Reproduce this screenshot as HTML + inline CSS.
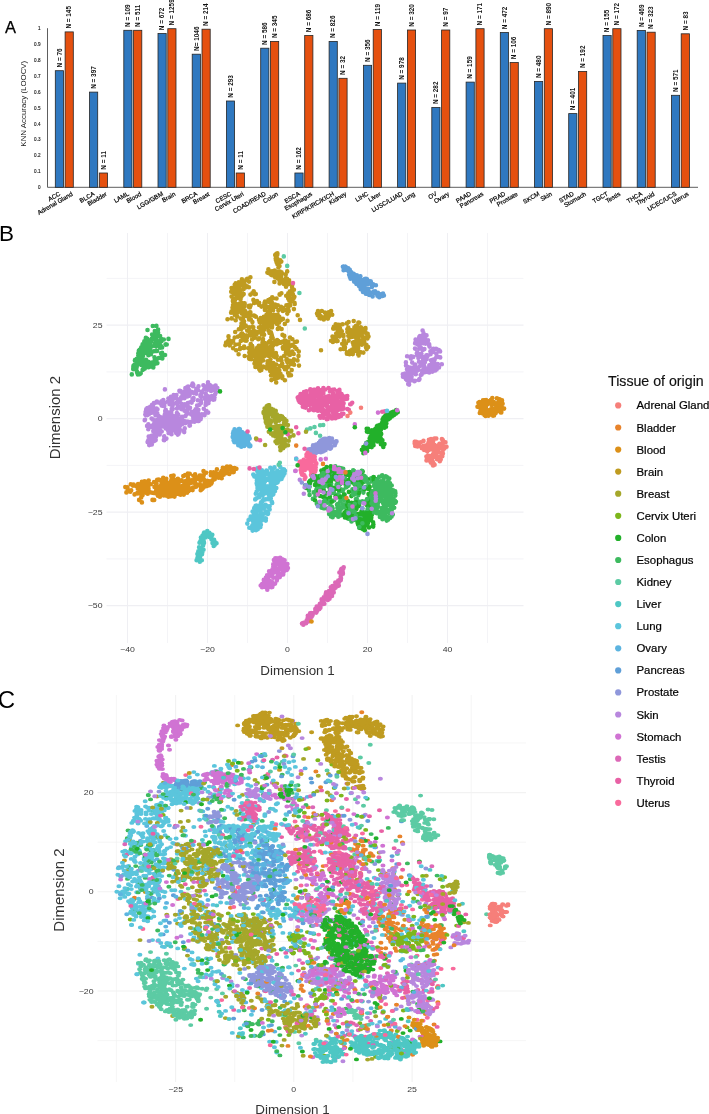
<!DOCTYPE html>
<html><head><meta charset="utf-8"><title>Figure</title>
<style>html,body{margin:0;padding:0;background:#fff}svg{display:block;font-family:"Liberation Sans",sans-serif}</style>
</head><body>
<svg width="709" height="1114" viewBox="0 0 709 1114">
<rect width="709" height="1114" fill="#fff"/>
<g fill="#000"><text x="5" y="33" font-size="16.5" stroke="#000" stroke-width="0.25">A</text><text x="-1" y="241" font-size="22.5">B</text><text x="-2.2" y="708.3" font-size="24">C</text></g>
<path d="M167.5 233V643M247.5 233V643M327.5 233V643M407.5 233V643M487.5 233V643M106.5 278.4H523.5M106.5 371.9H523.5M106.5 465.4H523.5M106.5 558.9H523.5" stroke="#efeff3" stroke-width="0.7" fill="none"/>
<path d="M127.5 233V643M207.5 233V643M287.5 233V643M367.5 233V643M447.5 233V643M106.5 325.1H523.5M106.5 418.6H523.5M106.5 512.1H523.5M106.5 605.6H523.5" stroke="#efeff3" stroke-width="1.1" fill="none"/>
<path d="M116.4 695V1082M234.7 695V1082M352.9 695V1082M471.2 695V1082M97.5 743.0H526M97.5 842.2H526M97.5 941.4H526M97.5 1040.6H526" stroke="#f2f2f2" stroke-width="0.7" fill="none"/>
<path d="M175.6 695V1082M293.8 695V1082M412.1 695V1082M97.5 792.6H526M97.5 891.8H526M97.5 991.0H526" stroke="#f2f2f2" stroke-width="1.1" fill="none"/>
<g font-size="7" fill="#3a3a3a">
<g text-anchor="end">
<text transform="translate(102.5,327.7) scale(1.25,1)">25</text>
<text transform="translate(102.5,421.2) scale(1.25,1)">0</text>
<text transform="translate(102.5,514.7) scale(1.25,1)">−25</text>
<text transform="translate(102.5,608.2) scale(1.25,1)">−50</text>
<text transform="translate(93.5,795.2) scale(1.25,1)">20</text>
<text transform="translate(93.5,894.4) scale(1.25,1)">0</text>
<text transform="translate(93.5,993.6) scale(1.25,1)">−20</text>
</g><g text-anchor="middle">
<text transform="translate(127.5,652.4) scale(1.25,1)">−40</text>
<text transform="translate(207.5,652.4) scale(1.25,1)">−20</text>
<text transform="translate(287.5,652.4) scale(1.25,1)">0</text>
<text transform="translate(367.5,652.4) scale(1.25,1)">20</text>
<text transform="translate(447.5,652.4) scale(1.25,1)">40</text>
<text transform="translate(175.6,1091.6) scale(1.25,1)">−25</text>
<text transform="translate(293.8,1091.6) scale(1.25,1)">0</text>
<text transform="translate(412.1,1091.6) scale(1.25,1)">25</text>
</g></g>
<g font-size="13.4" fill="#333" text-anchor="middle">
<text x="297.5" y="675">Dimension 1</text>
<text x="292.5" y="1113.5">Dimension 1</text>
<text transform="translate(60,417.5) rotate(-90)" font-size="15">Dimension 2</text>
<text transform="translate(64,890) rotate(-90)" font-size="15">Dimension 2</text>
</g>
<text x="608" y="385.5" font-size="14.2" fill="#111" stroke="#111" stroke-width="0.15">Tissue of origin</text>
<g font-size="11.4" fill="#000" stroke="#000" stroke-width="0.2">
<circle cx="618.2" cy="405.4" r="3.1" fill="#F67F7A" stroke="none"/><text x="636.5" y="409.4">Adrenal Gland</text>
<circle cx="618.2" cy="427.5" r="3.1" fill="#E8832B" stroke="none"/><text x="636.5" y="431.5">Bladder</text>
<circle cx="618.2" cy="449.6" r="3.1" fill="#DC9018" stroke="none"/><text x="636.5" y="453.6">Blood</text>
<circle cx="618.2" cy="471.6" r="3.1" fill="#BF9B20" stroke="none"/><text x="636.5" y="475.6">Brain</text>
<circle cx="618.2" cy="493.7" r="3.1" fill="#A5A72A" stroke="none"/><text x="636.5" y="497.7">Breast</text>
<circle cx="618.2" cy="515.8" r="3.1" fill="#7DB61C" stroke="none"/><text x="636.5" y="519.8">Cervix Uteri</text>
<circle cx="618.2" cy="537.9" r="3.1" fill="#22B02A" stroke="none"/><text x="636.5" y="541.9">Colon</text>
<circle cx="618.2" cy="560.0" r="3.1" fill="#3DBA5F" stroke="none"/><text x="636.5" y="564.0">Esophagus</text>
<circle cx="618.2" cy="582.0" r="3.1" fill="#5CCBA4" stroke="none"/><text x="636.5" y="586.0">Kidney</text>
<circle cx="618.2" cy="604.1" r="3.1" fill="#4EC7C4" stroke="none"/><text x="636.5" y="608.1">Liver</text>
<circle cx="618.2" cy="626.2" r="3.1" fill="#5BC5DC" stroke="none"/><text x="636.5" y="630.2">Lung</text>
<circle cx="618.2" cy="648.3" r="3.1" fill="#5CB4E0" stroke="none"/><text x="636.5" y="652.3">Ovary</text>
<circle cx="618.2" cy="670.4" r="3.1" fill="#5F9FD8" stroke="none"/><text x="636.5" y="674.4">Pancreas</text>
<circle cx="618.2" cy="692.4" r="3.1" fill="#8F97DB" stroke="none"/><text x="636.5" y="696.4">Prostate</text>
<circle cx="618.2" cy="714.5" r="3.1" fill="#B887DE" stroke="none"/><text x="636.5" y="718.5">Skin</text>
<circle cx="618.2" cy="736.6" r="3.1" fill="#D073D3" stroke="none"/><text x="636.5" y="740.6">Stomach</text>
<circle cx="618.2" cy="758.7" r="3.1" fill="#DC68B7" stroke="none"/><text x="636.5" y="762.7">Testis</text>
<circle cx="618.2" cy="780.8" r="3.1" fill="#E861A5" stroke="none"/><text x="636.5" y="784.8">Thyroid</text>
<circle cx="618.2" cy="802.8" r="3.1" fill="#F96A9C" stroke="none"/><text x="636.5" y="806.8">Uterus</text>
</g>
<g fill="none" stroke-linecap="round" stroke-width="4.6"><path d="M277.3 254.8h0M276.4 255.3h0M280.6 261.5h0M277.3 263.9h0M276.2 256.1h0M278.5 260.6h0M275.2 255.0h0M275.9 260.1h0M280.2 260.4h0M279.5 266.0h0M275.9 256.2h0M278.4 267.3h0M277.5 259.0h0M281.3 261.6h0M278.7 265.4h0M278.9 262.7h0M276.6 262.2h0M276.9 258.4h0M275.7 258.6h0M277.4 253.4h0M276.4 253.7h0M278.7 260.3h0M271.2 274.7h0M269.9 273.6h0M285.9 282.9h0M272.1 275.3h0M273.4 274.5h0M273.4 274.5h0M273.9 273.8h0M269.0 272.8h0M271.6 273.1h0M271.3 272.7h0M268.4 269.4h0M274.5 271.4h0M275.0 273.5h0M271.9 271.4h0M273.5 272.3h0M289.1 280.3h0M270.0 272.9h0M274.8 270.6h0M292.7 289.4h0M279.9 271.6h0M277.5 278.2h0M287.2 271.4h0M271.5 273.3h0M283.9 283.9h0M274.5 272.6h0M267.9 272.7h0M273.8 271.1h0M280.6 282.1h0M271.4 273.6h0M267.8 272.5h0M270.2 271.2h0M288.3 293.3h0M283.9 281.3h0M286.3 279.7h0M291.7 294.2h0M275.6 272.6h0M272.1 275.3h0M273.9 271.7h0M272.0 275.2h0M281.1 276.4h0M279.1 279.3h0M267.4 272.6h0M279.6 281.3h0M274.4 272.1h0M287.0 282.2h0M290.0 291.4h0M281.0 281.0h0M277.6 271.7h0M281.5 272.4h0M285.7 274.4h0M282.7 280.9h0M286.7 285.1h0M270.5 271.6h0M283.1 279.9h0M293.9 289.8h0M282.0 273.6h0M275.0 276.9h0M275.9 273.4h0M272.2 272.6h0M287.0 278.8h0M289.0 284.0h0M287.1 280.9h0M280.7 275.9h0M292.2 284.9h0M290.2 283.6h0M286.0 286.8h0M274.9 276.0h0M283.8 280.7h0M280.7 282.2h0M272.1 271.5h0M271.2 274.5h0M279.9 280.6h0M279.6 280.1h0M276.0 273.3h0M292.0 287.1h0M279.8 276.6h0M286.0 278.3h0M278.1 277.5h0M283.0 281.3h0M279.6 283.4h0M274.7 272.4h0M273.2 274.2h0M291.9 290.3h0M292.8 294.1h0M277.8 273.4h0M260.5 348.8h0M262.9 350.0h0M265.6 325.7h0M260.4 351.2h0M262.3 350.8h0M266.2 324.4h0M257.7 353.7h0M265.2 326.4h0M268.0 326.2h0M289.3 300.4h0M258.0 353.4h0M264.9 347.2h0M257.2 350.5h0M271.6 321.6h0M263.1 351.3h0M288.1 373.0h0M264.0 350.0h0M271.4 333.8h0M261.9 352.3h0M238.5 305.2h0M245.1 311.1h0M242.3 333.6h0M273.0 320.8h0M257.6 351.3h0M261.6 345.4h0M257.9 355.2h0M268.2 322.8h0M228.2 340.9h0M255.4 353.2h0M266.7 348.5h0M264.6 322.2h0M288.2 298.5h0M241.3 334.0h0M262.9 328.8h0M268.9 324.1h0M231.2 342.7h0M270.1 323.4h0M266.9 322.6h0M262.6 350.1h0M263.9 349.6h0M267.5 350.6h0M293.9 309.1h0M269.1 363.5h0M268.8 347.9h0M228.7 339.8h0M261.7 345.4h0M282.5 342.3h0M241.3 312.0h0M262.7 319.2h0M268.7 323.1h0M251.9 356.8h0M237.1 291.5h0M269.1 350.7h0M281.5 360.7h0M269.5 332.9h0M239.0 303.7h0M288.4 305.1h0M256.9 355.0h0M269.4 353.0h0M288.1 306.1h0M264.7 348.1h0M240.4 306.4h0M277.7 314.7h0M243.3 334.7h0M269.8 319.1h0M242.1 313.8h0M242.5 334.5h0M251.2 355.7h0M273.4 319.8h0M269.0 321.5h0M261.4 345.7h0M284.7 346.2h0M237.1 291.7h0M256.1 365.1h0M281.2 342.6h0M263.8 348.8h0M254.5 363.6h0M235.0 307.6h0M256.5 359.2h0M239.2 309.2h0M291.4 345.8h0M271.0 343.1h0M265.3 349.5h0M243.6 336.2h0M264.3 346.1h0M273.1 310.2h0M267.4 321.0h0M272.1 325.9h0M257.2 351.2h0M273.9 318.8h0M260.8 345.8h0M241.7 313.3h0M267.9 348.0h0M272.3 317.1h0M276.8 318.6h0M275.9 354.4h0M255.9 363.2h0M272.3 318.5h0M270.6 302.7h0M258.4 356.4h0M275.4 373.1h0M275.1 376.8h0M284.8 341.7h0M276.1 373.2h0M271.9 318.2h0M251.2 359.1h0M268.9 317.2h0M242.4 337.6h0M268.3 348.3h0M260.5 347.3h0M289.0 346.9h0M234.0 301.6h0M268.9 321.2h0M261.3 349.3h0M242.4 293.2h0M273.0 345.6h0M276.1 373.5h0M266.5 314.7h0M274.8 320.0h0M276.1 373.2h0M233.0 305.1h0M257.4 360.9h0M261.2 353.6h0M277.7 320.0h0M259.2 356.7h0M257.1 353.2h0M268.8 342.3h0M263.6 305.6h0M240.5 290.2h0M257.6 357.9h0M271.7 351.4h0M276.8 369.0h0M286.4 305.3h0M237.2 304.6h0M259.4 356.4h0M270.0 322.9h0M256.8 350.0h0M274.0 322.3h0M274.3 371.4h0M277.8 318.3h0M269.5 351.0h0M285.4 345.1h0M271.8 308.0h0M258.7 352.2h0M267.0 321.2h0M240.7 292.8h0M282.2 341.7h0M255.6 364.7h0M233.0 301.5h0M255.7 350.2h0M258.8 348.6h0M244.2 311.4h0M263.0 339.1h0M270.9 332.3h0M238.3 311.5h0M231.9 312.2h0M277.9 374.6h0M256.4 355.0h0M275.7 318.3h0M241.7 326.6h0M281.1 357.9h0M250.4 312.2h0M271.1 342.5h0M268.3 319.6h0M268.7 311.3h0M268.3 326.7h0M270.7 354.7h0M278.7 341.8h0M264.0 349.4h0M231.7 318.4h0M284.2 355.7h0M255.6 359.9h0M258.1 356.5h0M257.0 301.1h0M246.4 279.6h0M277.8 373.2h0M277.1 340.1h0M288.0 348.7h0M290.4 345.9h0M241.3 296.7h0M287.8 349.7h0M242.5 339.9h0M264.5 322.8h0M294.4 296.8h0M282.9 318.9h0M230.9 341.6h0M236.1 291.3h0M264.9 354.0h0M272.4 366.0h0M278.8 375.6h0M279.2 343.0h0M243.1 318.1h0M236.5 306.3h0M250.6 305.6h0M274.4 378.8h0M271.7 366.3h0M272.0 327.5h0M270.2 316.2h0M264.0 345.6h0M259.5 361.1h0M286.6 350.9h0M237.4 312.5h0M251.1 347.3h0M256.4 358.0h0M260.9 350.9h0M271.0 322.3h0M289.4 354.8h0M283.1 348.8h0M283.6 367.0h0M288.2 349.6h0M242.5 338.8h0M258.3 351.7h0M242.6 294.9h0M279.6 294.4h0M287.4 344.7h0M252.4 322.1h0M229.7 345.4h0M226.1 342.5h0M262.6 329.1h0M257.9 358.1h0M245.5 313.8h0M272.5 319.9h0M254.5 331.2h0M256.8 359.1h0M263.7 323.8h0M259.7 348.4h0M254.2 336.6h0M284.0 342.3h0M263.8 316.9h0M252.4 293.0h0M276.1 371.1h0M256.8 351.2h0M231.6 296.6h0M268.1 348.6h0M258.5 355.6h0M243.5 309.6h0M273.8 343.4h0M286.4 360.1h0M292.5 344.8h0M252.6 352.6h0M271.4 323.0h0M259.8 363.9h0M256.3 332.9h0M240.9 296.4h0M254.8 353.3h0M271.2 305.6h0M231.6 288.1h0M270.1 311.1h0M279.1 327.5h0M270.7 309.1h0M271.6 322.0h0M235.7 313.0h0M249.2 307.2h0M273.3 363.1h0M289.8 354.9h0M261.1 349.0h0M266.4 344.6h0M291.8 363.7h0M259.8 350.4h0M242.0 334.8h0M284.3 335.9h0M261.8 334.5h0M260.7 318.1h0M265.6 346.3h0M271.5 351.3h0M252.3 355.8h0M263.5 328.3h0M238.3 297.8h0M272.5 350.0h0M261.3 370.0h0M286.7 358.8h0M250.1 332.9h0M272.7 338.1h0M268.4 300.1h0M245.2 287.6h0M251.2 356.3h0M267.5 348.4h0M280.5 373.9h0M243.4 337.7h0M296.4 348.9h0M253.7 291.3h0M263.8 353.9h0M228.5 336.4h0M261.5 348.0h0M281.6 329.0h0M271.3 337.3h0M246.6 340.6h0M231.9 311.9h0M241.7 336.3h0M260.0 362.7h0M258.8 355.2h0M229.9 343.5h0M285.7 340.8h0M256.3 302.5h0M265.9 355.2h0M255.6 350.8h0M244.1 321.3h0M272.6 370.6h0M243.7 288.9h0M274.7 315.1h0M264.4 346.8h0M278.4 372.7h0M262.1 353.1h0M247.0 337.5h0M265.6 327.1h0M257.5 361.8h0M245.6 315.8h0M288.8 352.4h0M266.3 347.8h0M289.6 352.9h0M261.5 306.6h0M269.3 301.9h0M260.5 330.2h0M285.9 352.4h0M260.1 370.6h0M270.0 352.0h0M275.3 341.0h0M264.6 316.8h0M258.9 349.2h0M267.5 364.1h0M241.5 303.0h0M264.1 334.8h0M261.9 346.8h0M235.3 288.4h0M258.1 360.6h0M259.1 302.8h0M243.7 294.1h0M240.4 335.4h0M232.3 290.3h0M265.0 301.6h0M254.2 303.0h0M225.4 345.2h0M269.2 341.8h0M268.5 320.9h0M254.7 355.8h0M234.5 312.8h0M294.7 303.9h0M236.4 288.4h0M268.3 355.7h0M282.8 347.3h0M271.0 375.5h0M271.5 363.6h0M237.1 294.1h0M244.6 312.9h0M233.1 340.9h0M262.9 306.0h0M270.5 299.1h0M291.0 375.3h0M244.7 356.0h0M245.7 325.9h0M240.7 318.6h0M252.9 353.6h0M262.4 351.9h0M260.3 355.3h0M288.0 350.5h0M267.3 322.9h0M263.1 366.6h0M234.6 298.9h0M240.5 299.5h0M277.2 321.5h0M242.8 335.9h0M288.2 344.2h0M257.2 347.8h0M258.0 357.6h0M259.3 369.3h0M259.7 350.2h0M284.8 323.9h0M279.0 322.6h0M272.2 297.2h0M266.9 325.7h0M274.4 368.0h0M282.5 334.9h0M263.1 332.6h0M253.5 315.5h0M268.0 318.3h0M258.4 362.6h0M269.9 362.4h0M269.0 353.5h0M255.8 294.0h0M263.0 339.0h0M262.6 320.0h0M234.9 287.9h0M261.7 353.2h0M231.1 312.8h0M288.9 375.5h0M244.1 346.5h0M279.3 316.8h0M261.1 327.3h0M286.2 295.8h0M234.9 302.7h0M263.9 351.0h0M268.1 314.6h0M271.7 316.4h0M270.3 314.0h0M242.8 281.9h0M288.7 310.9h0M285.7 309.7h0M242.4 319.0h0M240.7 310.3h0M260.6 362.1h0M258.2 353.1h0M268.6 318.9h0M253.3 327.2h0M260.0 359.8h0M239.2 310.3h0M244.0 336.7h0M262.3 355.3h0M239.3 296.3h0M258.5 353.0h0M254.6 331.9h0M294.5 302.7h0M259.2 358.3h0M248.3 348.2h0M235.4 309.9h0M238.6 354.2h0M258.1 367.2h0M290.8 352.8h0M271.6 369.6h0M237.3 316.5h0M276.3 373.3h0M242.3 334.4h0M250.6 344.6h0M269.0 356.0h0M271.2 299.3h0M275.1 375.6h0M265.8 344.6h0M266.7 301.6h0M263.4 330.6h0M250.4 277.3h0M282.8 307.9h0M274.1 314.7h0M290.2 305.5h0M259.7 322.2h0M245.3 286.9h0M279.9 366.1h0M256.4 332.0h0M278.5 319.0h0M246.7 335.6h0M242.9 283.6h0M245.2 340.6h0M252.1 350.5h0M281.0 320.1h0M231.2 291.7h0M234.7 337.5h0M273.3 371.2h0M287.5 320.7h0M259.8 357.3h0M266.1 321.0h0M274.6 318.7h0M251.0 351.8h0M260.7 357.2h0M254.9 293.6h0M250.7 331.5h0M294.8 347.1h0M260.3 354.9h0M252.1 345.7h0M239.0 293.4h0M269.4 353.2h0M248.2 316.7h0M245.4 336.1h0M286.4 347.0h0M268.5 330.5h0M277.3 375.5h0M272.7 320.6h0M262.9 327.1h0M241.4 293.1h0M270.5 359.2h0M263.0 326.7h0M272.7 373.6h0M256.4 334.5h0M235.7 320.2h0M249.1 347.7h0M255.9 316.7h0M272.0 368.0h0M255.0 294.3h0M252.1 339.4h0M250.2 335.2h0M278.0 377.7h0M264.0 322.2h0M241.2 326.3h0M276.7 356.0h0M266.9 368.4h0M262.4 367.0h0M271.4 380.1h0M258.8 350.7h0M243.8 314.9h0M258.0 361.1h0M264.9 323.5h0M290.0 337.5h0M289.9 295.2h0M249.8 359.0h0M267.0 353.2h0M236.5 315.9h0M275.1 304.5h0M270.3 317.8h0M245.1 336.8h0M238.0 336.6h0M250.9 350.0h0M244.3 324.8h0M232.5 307.8h0M275.4 319.3h0M270.1 340.8h0M249.1 358.4h0M288.6 348.0h0M249.1 327.4h0M247.8 313.2h0M278.5 373.8h0M244.6 306.5h0M243.8 338.2h0M232.8 311.4h0M260.5 326.8h0M267.5 319.7h0M234.7 284.9h0M249.8 316.1h0M249.3 352.6h0M290.9 361.0h0M291.7 363.9h0M235.4 299.2h0M274.8 320.6h0M292.3 351.6h0M270.0 354.8h0M269.4 342.1h0M238.8 329.3h0M270.0 319.8h0M262.1 345.3h0M241.9 279.4h0M249.1 319.5h0M273.0 298.3h0M296.9 341.6h0M245.7 325.6h0M284.9 369.2h0M255.1 355.4h0M264.9 309.9h0M230.6 342.8h0M244.4 304.0h0M248.9 287.2h0M278.1 340.9h0M272.0 369.3h0M266.0 347.6h0M249.0 356.6h0M261.0 326.4h0M244.7 304.3h0M235.4 344.6h0M270.7 346.8h0M250.9 319.7h0M267.6 313.5h0M288.8 360.6h0M250.5 353.2h0M261.6 331.5h0M253.4 299.9h0M258.3 356.5h0M239.9 349.1h0M271.4 301.2h0M272.1 348.4h0M268.7 317.7h0M261.1 329.6h0M269.5 299.8h0M259.6 348.1h0M236.2 350.3h0M258.3 339.2h0M252.8 355.8h0M246.5 279.9h0M290.5 301.7h0M250.6 357.7h0M264.0 356.4h0M278.2 371.7h0M241.5 323.3h0M249.5 312.5h0M270.8 322.9h0M244.4 283.6h0M271.9 335.6h0M264.1 367.1h0M244.3 340.0h0M238.8 282.4h0M267.5 361.2h0M276.2 382.4h0M278.3 320.0h0M281.8 308.7h0M290.7 363.3h0M272.0 302.8h0M298.8 351.5h0M299.0 365.6h0M230.5 343.7h0M249.6 358.4h0M257.5 348.8h0M257.4 349.4h0M234.8 314.7h0M260.6 327.9h0M244.1 347.9h0M293.9 359.2h0M260.1 349.1h0M243.7 305.4h0M268.1 319.6h0M258.8 345.8h0M291.7 370.1h0M261.1 354.4h0M277.2 374.6h0M258.3 347.9h0M260.6 347.6h0M240.0 294.0h0M281.4 293.3h0M251.7 333.0h0M259.1 338.4h0M245.3 286.3h0M263.6 325.4h0M243.3 305.7h0M269.1 366.0h0M247.0 286.4h0M293.7 354.0h0M268.6 361.7h0M259.4 319.8h0M294.0 297.8h0M277.9 317.1h0M252.7 333.5h0M270.4 324.6h0M277.0 323.9h0M237.3 284.2h0M270.2 371.1h0M280.0 320.2h0M274.9 371.5h0M232.9 300.9h0M288.8 373.6h0M277.8 328.9h0M264.1 329.6h0M237.9 290.6h0M286.3 369.1h0M255.0 360.9h0M268.5 352.2h0M260.9 356.0h0M282.3 363.8h0M273.7 353.2h0M247.2 330.6h0M254.9 337.7h0M254.1 293.6h0M288.4 341.9h0M252.5 347.2h0M267.8 307.0h0M259.0 319.9h0M279.8 294.8h0M279.3 370.2h0M255.9 351.5h0M274.5 316.4h0M235.7 283.3h0M295.3 342.0h0M278.4 310.4h0M247.2 278.8h0M235.9 304.3h0M276.5 298.5h0M269.4 367.4h0M246.4 339.4h0M266.9 367.0h0M293.1 298.7h0M259.2 305.0h0M255.0 352.9h0M292.4 339.2h0M287.0 366.8h0M231.5 311.6h0M284.5 347.2h0M269.4 319.4h0M240.8 341.0h0M266.3 325.3h0M255.4 366.9h0M276.7 344.3h0M268.6 320.6h0M262.9 340.2h0M275.2 374.6h0M241.2 329.1h0M259.7 319.2h0M288.4 366.7h0M264.5 302.9h0M270.7 347.4h0M267.2 351.0h0M278.7 374.6h0M252.5 326.5h0M233.1 348.3h0M267.5 306.9h0M276.3 364.5h0M254.7 315.9h0M250.8 344.0h0M235.2 332.0h0M262.6 350.4h0M275.9 353.1h0M266.3 323.3h0M239.5 286.4h0M239.0 344.2h0M250.4 294.6h0M274.9 357.1h0M264.5 304.5h0M284.7 340.4h0M287.9 362.4h0M241.8 285.3h0M259.8 346.1h0M250.2 333.4h0M234.1 293.9h0M275.7 378.1h0M287.3 313.6h0M287.3 362.1h0M271.1 316.0h0M260.0 321.2h0M254.9 351.5h0M276.7 376.5h0M282.3 378.1h0M240.3 348.1h0M279.9 375.0h0M279.6 319.5h0M253.8 330.7h0M270.5 354.9h0M273.7 356.1h0M298.5 355.9h0M243.1 321.8h0M249.0 305.8h0M258.9 327.5h0M244.6 303.3h0M261.3 351.3h0M256.5 352.9h0M264.8 343.0h0M282.3 376.2h0M227.5 319.2h0M272.5 307.3h0M246.0 335.5h0M269.2 366.4h0M276.3 306.9h0M243.4 347.9h0M291.6 298.7h0M275.6 374.4h0M297.5 360.4h0M249.8 307.5h0M238.9 311.6h0M233.1 299.7h0M258.1 366.9h0M282.9 310.9h0M258.9 332.1h0M281.0 306.7h0M242.2 336.3h0M254.6 352.1h0M244.1 303.3h0M249.0 281.6h0M287.1 353.4h0M236.5 296.1h0M243.6 327.4h0M278.9 341.8h0M262.2 329.8h0M252.2 352.7h0M288.3 309.5h0M265.4 303.2h0M263.0 360.5h0M273.1 371.3h0M277.8 305.4h0M277.9 359.8h0M262.5 342.3h0M247.4 315.8h0M249.4 327.5h0M256.8 352.2h0M293.1 361.9h0M249.7 312.7h0M243.2 305.3h0M271.5 318.6h0M270.9 347.2h0M284.9 380.2h0M294.1 364.8h0M274.4 281.9h0M297.7 315.3h0M300.0 319.9h0" stroke="#BF9B20"/>
<path d="M317.9 314.8h0M328.0 314.8h0M318.9 314.3h0M320.8 316.3h0M328.7 312.4h0M320.8 318.4h0M320.4 316.1h0M325.6 316.2h0M328.7 315.7h0M326.6 316.0h0M321.8 311.0h0M327.7 314.5h0M327.1 314.6h0M317.0 313.5h0M324.9 312.6h0M321.8 317.0h0M319.0 312.9h0M324.7 318.3h0M318.0 311.1h0M319.2 316.1h0M330.7 313.6h0M323.7 318.2h0M331.1 311.0h0M332.2 314.7h0M329.0 316.1h0M330.7 311.7h0M323.8 319.4h0M317.7 315.3h0M327.9 318.6h0M319.5 317.9h0M355.4 328.4h0M352.7 335.2h0M356.0 335.6h0M356.9 336.2h0M354.2 331.6h0M367.7 333.9h0M333.2 341.1h0M361.2 340.2h0M356.0 343.3h0M356.4 341.1h0M357.8 332.4h0M335.9 340.8h0M355.5 344.0h0M363.4 352.6h0M367.4 335.6h0M356.8 336.7h0M331.0 340.8h0M336.0 339.5h0M346.9 353.8h0M353.4 342.2h0M356.6 340.7h0M362.4 335.9h0M366.7 349.1h0M363.6 340.4h0M339.4 336.5h0M339.6 335.1h0M355.1 335.4h0M342.2 343.7h0M337.6 341.0h0M351.2 333.2h0M356.5 336.9h0M346.9 323.4h0M354.0 343.2h0M346.9 352.3h0M356.0 337.4h0M354.3 344.9h0M339.3 335.8h0M356.2 328.7h0M358.4 344.6h0M365.4 328.9h0M332.9 341.9h0M349.2 336.4h0M368.5 336.5h0M362.4 336.2h0M356.0 325.9h0M333.5 340.5h0M366.4 333.3h0M354.9 333.0h0M343.9 340.4h0M364.0 338.9h0M344.8 348.8h0M360.0 352.8h0M356.5 337.1h0M340.2 335.3h0M336.6 341.1h0M349.3 334.9h0M357.5 336.7h0M356.6 338.7h0M354.5 346.5h0M339.3 325.5h0M342.6 324.3h0M358.3 353.3h0M348.6 329.0h0M354.6 351.1h0M355.3 346.1h0M351.6 330.3h0M359.1 352.9h0M363.5 340.0h0M358.5 336.6h0M341.8 331.2h0M353.5 345.0h0M358.6 355.5h0M367.4 338.4h0M354.4 327.3h0M357.4 339.0h0M352.3 349.5h0M357.5 331.4h0M348.6 340.6h0M346.9 353.3h0M335.7 324.2h0M352.8 354.1h0M350.5 333.6h0M361.1 328.8h0M338.6 324.7h0M368.1 347.1h0M350.1 334.4h0M359.2 330.2h0M333.8 340.7h0M361.8 344.8h0M334.4 328.4h0M353.0 350.7h0M352.8 342.7h0M339.9 328.1h0M363.3 343.7h0M349.2 336.1h0M356.6 347.0h0M339.0 335.9h0M338.0 335.0h0M365.4 328.0h0M344.0 345.2h0M334.8 327.6h0M357.9 339.0h0M354.2 344.5h0M347.8 332.0h0M343.5 349.0h0M347.4 332.0h0M336.2 333.5h0M360.2 352.1h0M354.9 346.9h0M354.4 343.9h0M356.2 349.3h0M351.0 334.1h0M333.2 328.6h0M358.1 354.3h0M364.4 332.0h0M340.2 329.3h0M332.7 339.7h0M358.7 332.3h0M345.0 347.3h0M356.2 345.5h0M354.6 345.1h0M361.1 327.9h0M366.0 347.5h0M355.4 345.0h0M339.3 329.0h0M358.1 337.2h0M357.2 337.9h0M357.2 343.2h0M337.9 331.1h0M340.1 325.0h0M360.7 327.4h0M361.3 331.1h0M349.5 354.2h0M354.8 345.3h0M347.3 329.3h0M348.7 331.1h0M334.5 338.0h0M361.6 332.8h0M358.0 349.5h0M365.0 328.8h0M354.3 330.7h0M333.1 341.0h0M338.7 333.4h0M353.0 336.8h0M332.8 336.8h0M344.2 343.1h0M348.6 322.0h0M358.3 334.1h0M353.6 332.0h0M358.2 348.0h0M366.0 337.7h0M350.1 350.7h0M355.3 332.2h0M359.8 331.8h0M356.8 345.0h0M357.2 326.4h0M348.3 327.6h0M340.3 333.3h0M351.7 351.7h0M360.3 341.3h0M362.1 344.4h0M362.5 332.5h0M335.8 327.3h0M357.3 346.6h0M358.4 322.6h0M357.6 349.0h0M351.5 336.9h0M345.9 343.4h0M333.4 341.2h0M333.6 340.9h0M343.3 334.7h0M343.9 346.0h0M344.8 344.2h0M352.6 331.4h0M332.5 336.5h0M343.5 336.0h0M366.5 345.0h0M355.7 341.4h0M364.3 341.9h0M359.3 322.7h0M353.7 321.0h0M357.7 351.7h0M336.7 335.1h0M351.6 333.2h0M337.8 334.6h0M348.3 335.8h0M358.0 327.3h0M335.9 327.2h0M333.9 326.7h0M340.1 329.7h0M321.0 350.2h0M340.6 349.2h0" stroke="#BF9B20"/>
<path d="M145.4 350.9h0M145.4 349.4h0M145.5 352.2h0M144.6 346.4h0M145.2 346.1h0M144.7 345.1h0M144.7 346.4h0M143.3 348.1h0M143.6 346.8h0M143.6 345.4h0M139.6 351.2h0M148.9 350.2h0M144.5 343.3h0M162.3 358.4h0M162.1 352.9h0M144.3 341.4h0M165.5 344.6h0M145.2 347.8h0M155.7 344.5h0M154.9 342.9h0M150.6 344.7h0M147.5 349.7h0M153.3 367.4h0M140.8 350.0h0M145.7 346.1h0M147.9 344.8h0M145.9 344.0h0M145.6 349.6h0M143.7 346.1h0M145.1 349.2h0M147.3 352.3h0M145.5 339.9h0M144.4 347.0h0M144.9 346.9h0M140.5 352.0h0M150.8 362.7h0M144.6 351.4h0M153.8 351.2h0M151.2 365.3h0M146.0 349.7h0M146.2 347.6h0M146.8 345.1h0M148.5 349.1h0M149.2 350.9h0M141.9 349.0h0M149.4 345.5h0M156.2 340.0h0M139.0 356.4h0M138.9 352.1h0M131.8 374.4h0M134.4 364.8h0M165.0 355.0h0M148.3 352.7h0M147.2 345.9h0M156.5 339.2h0M142.7 351.3h0M137.1 358.8h0M141.4 352.3h0M149.7 365.3h0M154.5 337.7h0M141.2 360.5h0M161.1 338.7h0M142.6 369.9h0M138.9 350.5h0M147.9 348.4h0M157.4 363.1h0M143.6 349.2h0M149.8 353.6h0M160.1 336.1h0M137.3 373.0h0M142.6 344.4h0M143.2 346.6h0M134.9 360.5h0M136.7 361.4h0M144.4 350.7h0M144.0 352.4h0M135.6 365.4h0M150.8 366.4h0M143.0 356.1h0M144.6 343.6h0M133.2 369.1h0M155.8 362.2h0M145.6 346.3h0M142.8 352.2h0M147.3 343.4h0M149.2 340.3h0M144.8 361.3h0M159.0 341.3h0M152.1 346.3h0M151.0 346.1h0M154.8 331.1h0M150.6 342.3h0M157.7 345.1h0M143.4 349.6h0M145.1 352.6h0M143.4 349.2h0M150.3 347.9h0M141.4 359.1h0M162.1 347.5h0M143.4 350.2h0M160.0 342.7h0M161.7 356.3h0M143.4 346.0h0M135.2 359.7h0M145.9 343.8h0M156.7 359.3h0M150.9 354.3h0M137.9 374.5h0M143.8 360.3h0M147.5 330.0h0M150.8 341.5h0M144.8 368.6h0M136.9 358.9h0M156.4 345.8h0M155.0 336.7h0M145.3 344.5h0M142.2 356.4h0M163.3 355.1h0M152.1 334.6h0M148.2 348.7h0M136.6 367.6h0M160.6 345.9h0M141.3 365.0h0M156.3 331.4h0M159.5 343.5h0M145.2 349.9h0M143.2 353.6h0M154.8 360.1h0M156.4 337.4h0M155.9 346.3h0M148.5 367.2h0M158.1 332.5h0M134.2 367.1h0M146.1 345.7h0M155.7 338.2h0M140.7 373.3h0M146.1 344.4h0M142.0 355.9h0M144.1 348.9h0M153.0 338.6h0M161.4 341.3h0M139.8 349.9h0M149.1 343.4h0M143.9 363.0h0M137.0 365.4h0M142.6 345.2h0M144.0 367.0h0M143.7 345.9h0M163.8 339.5h0M156.4 325.9h0M141.4 359.4h0M148.3 343.0h0M136.9 371.4h0M147.2 338.7h0M145.1 347.5h0M142.5 347.6h0M150.6 346.2h0M144.2 345.1h0M151.7 338.8h0M141.3 347.6h0M149.6 366.0h0M157.3 363.3h0M141.5 347.2h0M153.3 365.9h0M151.3 364.4h0M153.8 336.4h0M148.0 351.0h0M156.2 350.9h0M146.9 351.2h0M138.3 355.6h0M141.2 347.6h0M165.9 344.4h0M140.5 363.4h0M150.5 352.6h0M139.8 374.1h0M157.9 334.9h0M160.1 347.7h0M136.4 362.1h0M138.4 361.1h0M143.2 353.5h0M147.0 341.6h0M153.6 365.1h0M157.0 344.6h0M154.5 357.2h0M155.9 336.1h0M157.1 351.0h0M138.5 354.2h0M146.3 364.8h0M148.2 361.9h0M133.5 365.8h0M146.3 343.2h0M146.0 359.9h0M149.8 366.1h0M145.9 337.7h0M154.8 335.4h0M150.1 346.8h0M151.4 352.3h0M141.1 354.1h0M166.7 344.5h0M144.9 347.4h0M144.5 366.5h0M147.3 353.4h0M156.1 341.7h0M143.4 366.4h0M147.3 341.2h0M133.3 367.0h0M158.1 329.5h0M149.8 364.7h0M149.0 341.7h0M138.3 353.4h0M157.8 333.6h0M154.9 359.0h0M155.9 343.4h0M147.3 350.0h0M155.1 345.1h0M168.5 338.9h0M154.1 363.7h0M157.1 343.4h0M154.7 336.8h0M143.0 356.0h0M155.2 363.7h0M144.8 363.1h0M146.2 364.9h0M148.7 342.3h0M161.0 346.2h0M152.8 326.0h0M148.4 355.3h0M154.9 339.2h0M144.3 346.5h0M152.1 362.6h0M154.2 362.6h0M140.7 355.6h0M150.4 364.3h0M144.1 349.9h0M158.8 358.0h0M152.5 335.6h0M148.1 352.4h0M161.1 353.4h0M144.2 361.3h0M165.9 344.5h0" stroke="#3DBA5F"/>
<path d="M157.2 423.2h0M158.5 426.0h0M173.5 425.4h0M172.3 422.0h0M174.2 417.8h0M206.8 396.3h0M209.8 398.1h0M179.7 401.0h0M175.3 422.7h0M175.6 423.7h0M176.0 426.9h0M173.7 419.5h0M158.7 422.7h0M177.1 421.9h0M151.3 442.5h0M173.3 422.2h0M187.6 413.6h0M175.8 424.5h0M188.3 421.7h0M160.3 424.9h0M159.2 423.5h0M180.6 420.0h0M173.9 422.4h0M214.5 397.6h0M177.5 419.5h0M200.9 401.4h0M160.7 425.9h0M207.8 398.2h0M191.3 391.9h0M145.6 412.0h0M169.8 427.6h0M187.9 396.1h0M187.3 396.5h0M176.4 395.1h0M208.2 412.6h0M161.4 423.6h0M171.5 417.8h0M208.9 398.7h0M174.3 422.9h0M210.9 396.8h0M172.5 399.9h0M190.2 402.3h0M147.9 409.9h0M155.2 428.6h0M155.3 427.0h0M201.3 396.5h0M154.8 433.3h0M151.8 409.3h0M215.2 390.6h0M163.1 423.2h0M176.1 397.6h0M156.4 435.6h0M159.9 420.3h0M174.9 418.8h0M159.7 428.2h0M178.5 429.7h0M206.6 388.5h0M148.3 440.3h0M148.7 436.5h0M175.9 419.8h0M177.6 433.3h0M157.9 420.8h0M175.7 427.1h0M153.4 431.5h0M176.8 417.3h0M171.0 423.2h0M175.8 423.6h0M148.2 442.3h0M153.0 406.5h0M177.6 426.0h0M196.4 388.9h0M207.3 399.5h0M177.7 431.3h0M191.8 412.0h0M175.9 418.6h0M208.5 397.3h0M177.5 425.3h0M182.3 393.0h0M170.0 420.9h0M175.0 396.0h0M165.7 409.8h0M184.4 393.1h0M171.9 424.7h0M171.3 425.9h0M178.8 422.7h0M215.8 392.6h0M195.4 410.3h0M163.8 423.7h0M187.7 409.8h0M175.1 403.5h0M180.8 423.1h0M153.3 430.9h0M182.3 423.9h0M208.1 402.0h0M152.2 407.0h0M163.8 422.9h0M176.5 424.2h0M175.7 422.8h0M149.3 409.0h0M145.3 414.5h0M172.4 423.9h0M173.1 422.6h0M209.0 400.3h0M158.3 423.0h0M145.6 412.0h0M154.3 427.6h0M197.8 400.3h0M181.1 424.6h0M186.1 411.8h0M177.2 403.3h0M176.5 423.1h0M181.4 409.1h0M188.8 394.3h0M147.0 414.5h0M205.1 399.0h0M172.8 425.1h0M210.6 397.0h0M208.5 403.1h0M174.3 420.3h0M157.5 426.2h0M175.7 421.2h0M161.7 418.5h0M184.1 421.0h0M148.4 413.7h0M163.9 403.0h0M192.5 399.0h0M215.3 389.5h0M183.7 393.9h0M181.1 419.9h0M171.5 414.4h0M147.4 408.1h0M212.2 396.5h0M201.0 403.0h0M175.6 396.1h0M206.4 403.5h0M193.8 393.1h0M165.5 424.2h0M169.7 422.6h0M191.3 414.4h0M177.6 425.3h0M174.1 426.3h0M193.6 398.1h0M214.4 388.2h0M151.7 443.3h0M151.4 441.4h0M174.9 429.7h0M150.2 406.7h0M162.9 426.4h0M193.1 400.3h0M187.8 403.0h0M215.5 385.9h0M198.5 420.2h0M161.1 404.1h0M174.8 417.3h0M187.5 405.6h0M154.1 424.5h0M205.7 412.7h0M208.5 399.1h0M213.6 398.8h0M179.0 424.3h0M159.7 434.4h0M200.8 400.3h0M159.6 416.9h0M202.0 391.5h0M176.9 413.1h0M173.9 419.2h0M169.2 414.6h0M187.4 390.3h0M163.0 423.5h0M176.7 402.7h0M199.6 404.7h0M162.9 425.8h0M171.5 422.5h0M198.9 420.6h0M211.9 396.0h0M177.7 434.6h0M153.1 405.1h0M152.8 419.4h0M197.5 410.6h0M171.9 422.9h0M177.4 418.5h0M195.6 409.4h0M185.9 394.9h0M173.8 427.5h0M198.5 414.5h0M157.3 413.3h0M177.6 401.6h0M168.8 420.6h0M164.2 440.3h0M177.5 428.1h0M167.5 424.7h0M158.9 424.8h0M157.2 434.2h0M162.9 418.3h0M154.3 424.9h0M205.7 404.8h0M205.8 389.0h0M188.8 389.5h0M170.9 420.3h0M176.7 424.2h0M182.9 395.4h0M208.1 396.3h0M148.3 429.3h0M193.3 418.0h0M151.3 444.1h0M187.9 408.7h0M177.7 423.3h0M169.8 425.2h0M188.1 386.5h0M168.4 398.5h0M161.7 431.5h0M174.9 424.0h0M153.0 407.9h0M193.2 414.0h0M190.8 391.7h0M209.4 397.0h0M155.7 409.5h0M181.2 397.2h0M152.4 425.5h0M159.1 424.7h0M169.7 424.0h0M184.2 432.1h0M177.8 424.7h0M151.8 426.8h0M208.9 396.9h0M187.0 410.9h0M178.6 433.7h0M171.6 423.7h0M149.2 445.1h0M168.0 426.2h0M177.5 425.6h0M180.4 424.0h0M185.5 415.9h0M213.2 388.0h0M214.1 398.5h0M178.6 423.3h0M155.4 436.3h0M200.8 418.3h0M161.6 401.2h0M183.8 406.8h0M197.5 412.6h0M155.4 402.7h0M205.6 405.0h0M192.6 383.5h0M162.1 426.1h0M186.5 390.5h0M167.3 420.4h0M177.6 423.6h0M182.5 395.2h0M165.5 424.0h0M189.5 395.6h0M173.3 428.2h0M187.0 421.9h0M208.8 397.4h0M159.3 425.5h0M154.2 423.6h0M152.6 438.8h0M163.5 422.4h0M189.8 393.9h0M179.5 423.1h0M192.0 385.3h0M197.1 405.6h0M160.3 422.1h0M170.1 431.1h0M151.4 440.8h0M146.7 409.1h0M212.5 399.0h0M176.0 425.5h0M179.6 431.6h0M178.4 425.8h0M208.1 384.3h0M205.9 403.0h0M198.3 420.3h0M149.9 444.0h0M173.2 421.7h0M170.1 400.0h0M205.9 400.1h0M179.4 390.9h0M168.4 427.1h0M147.4 411.9h0M172.4 424.4h0M189.7 408.3h0M200.6 419.2h0M211.1 391.0h0M161.7 421.8h0M192.4 414.0h0M186.9 421.5h0M214.3 388.8h0M169.9 401.9h0M147.7 408.6h0M155.7 439.9h0M184.0 430.6h0M178.4 420.9h0M194.4 421.8h0M165.9 419.8h0M165.7 438.9h0M212.2 396.3h0M195.6 410.9h0M206.6 386.5h0M164.3 406.1h0M183.8 421.7h0M173.7 395.1h0M189.5 425.6h0M156.6 415.2h0M157.8 428.1h0M168.0 430.3h0M205.7 393.6h0M172.5 420.0h0M176.2 421.2h0M198.7 417.8h0M154.9 440.6h0M179.8 391.4h0M198.7 420.9h0M178.2 414.6h0M146.2 409.4h0M195.5 416.9h0M196.2 392.6h0M164.2 436.4h0M185.4 423.1h0M184.7 428.4h0M146.7 411.4h0M171.5 434.2h0M212.7 397.8h0M153.9 403.1h0M210.7 388.6h0M186.1 388.2h0M194.8 392.2h0M204.5 415.3h0M158.8 418.1h0M166.4 438.6h0M170.8 424.9h0M172.9 425.5h0M161.7 405.5h0M206.3 404.1h0M203.9 414.2h0M215.2 394.1h0M184.7 396.3h0M193.1 386.3h0M189.9 425.4h0M152.1 404.8h0M195.9 391.2h0M176.7 421.7h0M198.1 416.0h0M176.1 426.8h0M163.9 424.4h0M176.3 420.8h0M166.5 412.6h0M158.4 425.9h0M164.9 402.7h0M178.4 421.5h0M168.4 422.6h0M171.0 424.2h0M152.9 441.3h0M172.4 406.5h0M165.3 419.7h0M206.5 396.0h0M197.9 389.9h0M192.1 412.6h0M171.7 398.6h0M217.3 388.1h0M176.9 422.8h0M151.8 412.8h0M174.4 398.3h0M183.3 392.4h0M196.3 393.7h0M189.1 395.3h0M173.6 423.1h0M198.2 413.9h0M182.2 418.6h0M215.3 389.3h0M180.6 421.9h0M166.4 422.9h0M170.9 421.5h0M209.3 388.0h0M178.4 421.5h0M212.3 389.9h0M168.8 427.2h0M197.9 421.0h0M172.6 429.1h0M176.1 422.4h0M194.7 413.1h0M151.6 418.5h0M189.0 391.4h0M151.8 444.5h0M185.4 388.0h0M180.2 421.3h0M215.6 385.6h0M173.7 420.8h0M144.7 420.3h0M201.7 414.4h0M147.3 415.1h0M165.8 428.5h0M162.0 417.6h0M171.7 409.0h0M208.2 384.1h0M180.1 425.6h0M201.3 393.6h0M149.7 442.1h0M181.5 403.8h0M191.7 402.6h0M168.9 416.3h0M157.4 428.8h0M162.2 405.8h0M195.0 418.9h0M177.0 408.6h0M166.3 422.7h0M165.2 411.0h0M173.5 422.9h0M170.9 396.9h0M186.3 396.0h0M192.9 413.3h0M180.0 424.0h0M156.5 408.5h0M156.5 426.8h0M150.8 410.9h0M194.6 410.8h0M173.4 417.6h0M177.8 430.4h0M150.3 426.7h0M205.8 398.9h0M163.3 400.1h0M169.5 404.1h0M193.3 384.9h0M169.4 431.4h0M156.2 429.3h0M176.2 433.0h0M208.0 389.6h0M213.3 399.8h0M206.5 411.0h0M198.7 416.5h0M156.1 436.5h0M157.5 409.3h0M193.0 399.9h0M205.0 397.4h0M177.4 418.6h0M209.8 385.1h0M171.4 424.8h0M178.1 417.7h0M164.9 414.2h0M173.1 430.1h0M201.0 416.2h0M160.2 423.0h0M167.9 401.7h0M180.4 399.1h0M171.4 416.3h0M162.8 402.7h0M171.4 411.5h0M158.8 422.1h0M211.6 388.6h0M184.4 398.3h0M194.1 392.2h0M165.6 415.0h0M168.0 420.4h0M187.0 387.4h0M170.3 420.9h0M168.1 421.8h0M164.9 415.0h0M203.8 408.8h0M198.5 386.2h0M152.4 410.9h0M168.6 433.0h0M148.8 414.2h0M156.0 420.2h0M176.1 416.6h0M153.2 439.2h0M191.6 402.2h0M203.4 385.3h0M206.7 399.8h0M200.4 395.9h0M213.8 388.2h0M151.9 439.8h0M174.2 424.4h0M162.5 425.4h0M176.6 425.6h0M168.0 421.0h0M174.6 416.4h0M153.7 441.2h0M166.2 418.3h0M207.8 384.9h0M150.8 406.9h0M181.0 408.6h0M172.4 397.8h0M147.1 425.9h0M173.0 427.0h0M147.6 442.1h0M148.3 424.2h0M154.3 436.7h0M181.9 406.0h0M212.8 386.6h0M172.7 408.9h0M214.2 399.5h0M167.8 412.3h0M215.2 388.7h0M150.4 408.5h0M154.3 435.5h0M163.8 440.0h0M178.1 406.4h0M193.0 415.9h0M151.5 435.7h0M164.8 414.5h0M146.4 413.1h0M184.5 410.8h0M171.4 402.8h0M171.7 431.4h0M161.1 421.5h0M195.9 419.9h0M184.7 404.4h0M158.2 402.5h0M198.4 409.9h0M180.0 399.1h0M181.0 398.7h0M196.9 413.3h0M206.5 412.3h0M170.1 426.1h0M206.5 387.8h0M145.0 419.8h0M177.4 416.6h0M157.8 431.5h0M155.5 415.2h0M208.0 382.3h0M145.8 415.1h0M185.4 388.9h0M155.6 411.8h0M204.3 389.0h0M150.3 443.4h0M215.8 391.4h0M153.9 409.6h0M205.0 387.9h0M156.9 401.6h0M182.7 395.8h0M194.2 419.1h0M191.3 421.7h0M190.0 407.8h0M176.4 429.1h0M149.4 442.1h0M179.8 429.6h0M158.3 415.8h0M180.6 391.1h0M169.7 403.7h0M182.1 416.9h0M164.9 389.4h0" stroke="#B887DE"/>
<path d="M220.0 391.4h0" stroke="#22B02A"/>
<path d="M420.5 339.5h0M421.1 339.0h0M411.8 374.2h0M433.2 367.0h0M430.8 366.7h0M422.7 338.9h0M410.9 372.0h0M433.8 369.1h0M429.7 367.0h0M412.0 370.8h0M417.2 354.9h0M424.8 367.5h0M420.2 337.5h0M420.2 342.5h0M409.3 369.2h0M432.3 365.2h0M409.1 372.7h0M433.1 364.0h0M423.7 340.0h0M430.4 370.0h0M417.3 352.3h0M429.0 367.5h0M409.8 367.6h0M432.2 367.3h0M432.1 369.5h0M422.8 338.0h0M421.1 337.0h0M435.2 370.5h0M411.8 372.5h0M425.7 372.0h0M412.6 369.7h0M402.8 374.3h0M429.5 346.6h0M410.6 380.4h0M407.3 366.7h0M411.1 356.3h0M428.7 369.1h0M423.5 362.6h0M434.1 359.4h0M411.4 378.3h0M412.6 373.1h0M426.4 355.4h0M435.4 367.5h0M407.7 373.6h0M422.2 340.3h0M405.9 362.4h0M411.6 376.8h0M405.7 376.7h0M421.7 363.1h0M429.0 368.1h0M432.6 367.9h0M423.7 365.5h0M420.3 339.9h0M409.1 374.7h0M427.8 355.6h0M433.0 368.0h0M429.2 372.5h0M433.9 364.8h0M435.8 366.9h0M410.2 376.9h0M433.6 368.5h0M436.6 369.0h0M405.2 373.5h0M436.0 348.7h0M419.2 337.2h0M436.2 368.8h0M409.0 372.1h0M412.2 372.1h0M411.5 376.5h0M423.6 372.4h0M435.6 367.0h0M410.8 358.4h0M435.0 367.0h0M431.7 366.0h0M405.0 376.5h0M428.7 369.7h0M434.1 361.4h0M427.2 340.6h0M434.1 363.8h0M436.6 369.4h0M425.5 343.6h0M424.6 339.3h0M419.7 366.3h0M410.1 375.1h0M409.1 384.6h0M415.1 343.3h0M403.0 376.7h0M435.1 366.9h0M410.8 369.3h0M432.0 363.3h0M432.2 370.5h0M434.4 369.0h0M418.4 357.9h0M434.2 367.5h0M435.5 368.2h0M408.0 372.3h0M419.2 355.1h0M430.5 354.3h0M409.2 375.9h0M425.1 356.7h0M422.6 330.5h0M409.9 377.2h0M407.5 376.8h0M409.1 376.1h0M424.0 361.1h0M410.3 375.4h0M419.1 348.8h0M436.3 365.3h0M438.4 350.1h0M412.2 362.6h0M426.7 355.3h0M426.5 356.9h0M420.4 337.1h0M409.4 378.4h0M407.7 376.8h0M413.1 369.8h0M438.8 350.0h0M429.2 344.2h0M431.9 371.4h0M409.6 380.7h0M403.6 376.0h0M430.3 365.9h0M426.5 335.4h0M421.4 356.5h0M409.7 374.7h0M408.2 372.7h0M419.9 344.3h0M423.4 343.3h0M434.5 369.8h0M420.7 337.0h0M428.1 371.2h0M420.1 355.0h0M434.0 369.6h0M433.4 369.2h0M408.2 384.0h0M415.0 371.9h0M407.1 380.2h0M433.9 364.7h0M433.2 369.9h0M432.5 368.3h0M408.8 376.9h0M422.2 372.2h0M423.2 359.7h0M414.9 380.7h0M429.3 365.2h0M433.3 351.1h0M429.5 367.7h0M416.0 342.8h0M433.7 359.7h0M430.2 366.2h0M428.9 344.9h0M407.0 369.3h0M423.7 371.3h0M423.1 341.8h0M433.3 368.2h0M417.3 342.8h0M434.3 367.1h0M432.2 366.4h0M426.6 359.2h0M422.9 358.0h0M421.1 341.4h0M434.5 367.4h0M433.0 362.3h0M434.6 359.8h0M435.0 367.3h0M421.6 374.5h0M403.7 376.9h0M418.5 354.8h0M414.4 381.3h0M418.5 357.7h0M415.8 374.2h0M433.4 348.9h0M436.3 357.3h0M422.2 370.6h0M415.6 372.8h0M436.4 357.1h0M417.9 354.8h0M419.4 336.7h0M418.1 344.5h0M436.3 353.7h0M411.3 369.7h0M434.5 365.9h0M422.2 340.0h0M422.6 365.5h0M424.0 365.6h0M440.1 351.4h0M418.1 370.1h0M416.8 353.2h0M435.9 368.0h0M423.2 360.7h0M406.8 374.6h0M413.6 370.2h0M415.9 343.5h0M423.7 368.9h0M407.9 377.2h0M431.6 364.1h0M431.0 360.3h0M418.8 380.0h0M419.0 361.7h0M406.7 376.5h0M422.0 339.4h0M419.9 338.5h0M432.4 366.3h0M419.4 337.5h0M432.8 359.7h0M415.0 348.6h0M410.9 377.2h0M413.0 367.5h0M420.8 347.5h0M424.4 349.1h0M408.2 376.3h0M432.8 365.8h0M408.8 370.8h0M408.8 373.5h0M438.0 356.7h0M432.6 370.1h0M422.4 373.0h0M434.5 368.3h0M426.4 340.6h0M440.2 357.4h0M422.6 350.0h0M422.7 371.6h0M433.2 369.3h0M420.7 375.1h0M424.8 362.2h0M414.4 370.9h0M417.8 341.9h0M424.8 369.1h0M432.4 371.6h0M409.2 376.7h0M439.0 367.5h0M421.4 353.7h0M431.4 370.5h0M425.2 336.6h0M424.2 341.5h0M417.6 344.2h0M415.6 339.5h0M405.9 379.1h0M420.0 336.0h0M405.0 375.4h0M423.0 362.9h0M413.9 367.9h0M419.4 346.2h0M415.2 364.6h0M417.4 368.1h0M431.8 367.6h0M424.8 357.7h0M419.7 340.2h0M415.5 342.2h0M409.8 367.9h0M418.3 342.8h0M421.5 348.7h0M413.2 356.9h0M432.7 361.4h0M406.0 365.5h0M427.1 356.9h0M409.4 371.8h0M432.5 350.0h0M421.0 336.3h0M408.2 373.0h0M407.1 356.2h0M418.4 356.8h0M423.4 333.1h0M428.0 340.4h0M437.7 364.1h0M430.4 351.4h0M441.8 364.2h0M432.3 352.3h0M419.5 379.1h0M435.5 369.0h0" stroke="#B887DE"/>
<path d="M301.8 397.9h0M339.0 403.9h0M301.0 395.4h0M299.0 396.9h0M303.1 396.5h0M300.6 394.1h0M302.0 397.3h0M322.9 404.6h0M302.8 406.8h0M321.9 405.2h0M336.1 405.7h0M342.0 396.2h0M318.0 402.3h0M341.9 401.0h0M309.5 404.3h0M301.2 395.8h0M343.6 403.2h0M334.5 409.5h0M323.6 417.7h0M328.1 399.2h0M300.7 398.8h0M312.9 398.2h0M334.5 406.6h0M313.8 398.6h0M300.8 399.5h0M299.7 396.3h0M343.2 407.2h0M311.7 400.6h0M335.8 409.5h0M334.6 409.0h0M325.3 389.5h0M327.7 419.0h0M300.1 396.5h0M315.4 404.0h0M315.1 389.7h0M333.0 407.9h0M328.8 416.9h0M311.2 395.1h0M325.5 402.2h0M338.0 402.9h0M336.8 416.8h0M302.3 397.6h0M321.7 401.9h0M331.0 396.5h0M314.5 389.9h0M300.4 396.4h0M336.0 407.0h0M336.8 416.5h0M309.7 404.4h0M347.1 398.7h0M333.2 412.1h0M336.4 410.4h0M321.5 400.2h0M303.8 401.0h0M312.0 404.6h0M331.2 409.0h0M335.2 395.4h0M332.0 408.9h0M334.6 408.7h0M335.2 414.4h0M334.3 404.9h0M348.8 409.8h0M328.7 407.5h0M301.8 398.5h0M331.4 406.3h0M331.9 403.1h0M335.9 400.0h0M347.4 409.1h0M330.8 408.4h0M298.7 400.5h0M299.5 399.6h0M302.1 398.1h0M323.3 401.8h0M341.3 398.6h0M324.5 410.2h0M336.4 403.1h0M340.4 401.6h0M334.7 396.7h0M323.4 393.1h0M334.2 389.5h0M333.7 396.6h0M320.3 407.3h0M314.5 398.1h0M301.2 397.0h0M304.8 403.9h0M327.0 398.3h0M315.3 401.1h0M337.3 391.3h0M338.7 415.6h0M338.4 416.9h0M317.5 410.6h0M317.5 406.1h0M337.8 397.6h0M339.4 389.9h0M300.4 395.3h0M327.7 417.5h0M333.6 414.1h0M313.6 389.7h0M334.2 407.9h0M322.6 417.0h0M335.8 403.6h0M314.2 405.1h0M333.2 393.3h0M312.3 402.8h0M343.4 413.7h0M342.1 404.6h0M313.8 403.6h0M320.3 398.8h0M352.2 402.7h0M328.9 397.1h0M342.9 405.5h0M314.4 404.9h0M316.0 407.8h0M313.4 401.5h0M329.3 415.4h0M335.5 418.3h0M328.8 409.2h0M302.1 395.9h0M328.9 396.1h0M332.4 389.9h0M325.8 411.4h0M324.8 412.6h0M343.2 408.7h0M337.5 409.3h0M339.5 395.2h0M345.6 396.7h0M340.5 403.5h0M338.3 393.4h0M336.3 412.6h0M336.1 401.0h0M305.6 407.2h0M310.6 409.0h0M339.6 415.3h0M302.2 399.6h0M339.4 409.4h0M309.9 400.1h0M316.5 393.8h0M343.9 397.3h0M301.7 397.1h0M319.8 400.5h0M333.2 417.3h0M338.7 402.6h0M336.6 397.1h0M342.9 413.8h0M310.3 389.4h0M318.2 400.2h0M342.2 395.9h0M332.6 400.1h0M321.6 402.2h0M331.9 410.1h0M335.0 407.0h0M312.6 404.1h0M306.1 395.0h0M341.8 414.1h0M334.3 415.3h0M302.3 402.2h0M305.4 395.7h0M305.3 401.2h0M314.7 395.5h0M316.4 392.8h0M333.2 409.8h0M320.7 391.9h0M313.8 391.1h0M328.3 396.4h0M315.6 402.6h0M309.7 402.6h0M314.4 407.0h0M310.7 392.6h0M313.6 398.0h0M320.1 391.5h0M330.8 400.3h0M322.2 393.6h0M322.3 397.2h0M318.0 388.3h0M298.3 399.2h0M321.3 407.3h0M307.7 398.2h0M301.9 395.6h0M334.8 406.9h0M316.9 400.4h0M316.7 409.4h0M342.7 402.1h0M308.5 402.4h0M328.1 397.2h0M323.3 416.5h0M333.3 413.1h0M318.2 395.7h0M304.0 392.0h0M338.3 401.7h0M299.6 402.0h0M328.9 397.4h0M323.4 388.1h0M299.6 399.2h0M313.9 410.3h0M343.1 408.6h0M314.9 394.6h0M339.7 401.7h0M344.1 399.3h0M317.8 405.1h0M313.6 399.6h0M321.4 404.6h0M323.5 413.8h0M312.3 390.4h0M328.7 398.5h0M337.7 409.4h0M318.7 410.6h0M334.3 414.3h0M304.4 405.7h0M314.2 401.1h0M328.6 388.1h0M311.0 397.7h0M336.4 415.4h0M305.1 407.4h0M321.7 393.6h0M318.4 394.7h0M319.8 391.2h0M331.9 400.2h0M336.3 408.6h0M297.7 397.6h0M300.9 400.0h0M329.9 407.5h0M301.3 403.1h0M319.6 390.0h0M332.3 406.3h0M330.1 407.2h0M299.4 398.8h0M334.9 401.6h0M333.2 412.9h0M301.4 403.0h0M342.8 400.4h0M334.0 404.0h0M342.4 405.4h0M300.0 399.0h0M308.3 395.7h0M328.3 412.0h0M323.1 417.3h0M334.2 400.2h0M336.0 398.5h0M335.6 406.8h0M304.2 407.3h0M319.6 416.0h0M303.9 398.3h0M310.2 400.6h0M346.6 398.7h0M320.0 401.5h0M339.7 392.4h0M327.1 404.0h0M307.4 395.2h0M331.6 399.0h0M326.0 396.7h0M332.6 406.2h0M326.6 414.3h0M318.6 403.9h0M340.6 416.1h0M325.6 405.6h0M325.1 412.9h0M337.1 395.4h0M305.6 407.6h0M339.0 406.9h0M338.6 409.6h0M328.1 407.4h0M316.5 394.4h0M308.3 403.3h0M341.9 395.0h0M327.6 396.5h0M302.0 396.2h0M330.9 416.8h0M335.6 413.5h0M336.3 408.3h0M315.7 395.4h0M327.0 400.6h0M335.5 411.3h0M335.8 402.5h0M328.8 396.8h0M330.0 391.4h0M325.3 400.3h0M333.3 417.8h0M318.7 396.6h0M318.1 392.4h0M341.0 416.0h0M333.4 406.5h0M311.3 409.2h0M350.8 404.2h0M330.5 407.5h0M306.0 393.8h0M323.1 413.3h0M306.5 395.6h0M321.9 411.4h0M341.5 394.1h0M343.4 397.8h0M333.1 412.3h0M329.2 401.8h0M315.3 407.0h0M336.2 414.7h0M332.0 418.4h0M333.2 407.8h0M306.3 391.3h0M319.8 402.0h0M311.9 391.7h0M336.2 404.5h0M331.9 401.2h0M334.7 408.1h0M345.1 396.6h0M322.9 391.9h0M326.8 419.3h0M347.3 396.1h0M317.2 392.0h0M306.9 395.4h0M325.9 402.1h0M340.7 394.9h0M318.8 402.5h0M327.4 410.7h0M314.3 397.1h0M350.2 404.3h0M322.0 407.3h0M304.3 395.9h0M328.4 412.7h0M321.6 401.5h0M333.5 405.1h0M305.9 406.6h0M330.6 408.4h0M318.8 409.0h0M317.6 401.3h0M309.6 398.2h0M316.0 401.6h0M306.1 393.1h0M315.4 394.4h0M309.5 405.0h0M318.7 396.1h0M305.2 393.6h0M308.9 410.3h0M320.3 417.7h0M318.9 391.7h0M334.9 416.9h0M301.6 394.7h0M329.3 398.2h0M337.2 398.6h0M331.0 401.3h0M340.5 409.4h0M329.9 410.5h0" stroke="#E861A5"/>
<path d="M268.3 415.3h0M264.6 408.6h0M265.9 420.7h0M266.0 410.8h0M277.4 415.1h0M269.9 422.7h0M263.6 412.0h0M280.9 416.0h0M275.7 411.2h0M268.8 423.8h0M282.1 419.0h0M266.6 406.6h0M281.0 431.2h0M268.6 405.2h0M282.1 431.0h0M278.8 428.4h0M273.7 427.0h0M278.0 418.7h0M269.1 426.1h0M282.4 442.9h0M275.1 414.8h0M267.9 424.1h0M267.0 423.9h0M273.1 414.7h0M278.6 433.9h0M281.1 431.0h0M273.7 427.2h0M280.1 430.6h0M265.4 411.2h0M272.1 428.0h0M270.6 420.6h0M277.3 431.4h0M282.9 442.0h0M282.1 439.9h0M285.1 439.4h0M284.6 419.0h0M278.6 439.7h0M282.9 445.5h0M265.7 413.1h0M270.3 424.0h0M279.2 430.1h0M285.0 445.8h0M267.9 419.0h0M269.8 428.6h0M283.1 441.7h0M281.5 438.0h0M266.6 414.4h0M278.5 420.4h0M267.9 422.3h0M267.3 413.0h0M273.0 409.5h0M281.2 427.1h0M273.1 416.6h0M272.6 416.1h0M268.0 422.3h0M281.4 429.6h0M273.1 435.4h0M275.6 436.4h0M285.4 431.9h0M269.2 407.9h0M277.7 433.4h0M284.0 424.8h0M280.5 426.1h0M280.5 432.1h0M271.9 433.4h0M285.2 420.3h0M275.7 422.7h0M276.2 427.3h0M282.1 416.6h0M281.8 432.2h0M274.6 417.7h0M275.8 417.5h0M280.1 447.0h0M267.3 421.7h0M284.8 446.5h0M281.3 431.5h0M285.5 430.7h0M283.8 420.0h0M265.1 411.8h0M280.1 425.7h0M283.5 440.5h0M281.4 429.1h0M268.6 419.1h0M280.5 450.2h0M269.8 428.2h0M268.8 431.8h0M275.2 414.8h0M278.3 431.4h0M283.9 440.7h0M274.5 420.5h0M279.3 419.8h0M283.6 430.9h0M281.6 429.8h0M279.9 429.2h0M273.6 433.3h0M276.9 443.3h0M280.0 428.3h0M273.8 410.7h0M276.7 428.3h0M266.3 411.0h0M284.4 431.4h0M279.2 442.4h0M280.3 417.5h0M273.7 433.4h0M283.2 430.7h0M267.3 414.6h0M288.7 440.7h0M265.8 421.9h0M268.2 419.2h0M267.1 413.1h0M284.9 441.1h0M280.9 418.6h0M275.5 431.0h0M283.2 430.5h0M280.9 427.1h0M271.0 422.0h0M275.5 441.6h0M285.7 430.7h0M267.3 405.7h0M276.4 441.1h0M285.1 444.4h0M277.0 426.1h0M263.9 413.4h0M265.5 416.1h0M282.2 444.0h0M288.9 430.7h0M280.9 429.1h0M283.1 448.2h0M280.8 427.7h0M270.9 433.6h0M280.7 437.3h0M289.9 436.7h0M277.5 442.6h0M274.9 414.6h0M270.2 411.2h0M272.8 434.7h0M277.6 429.6h0M284.9 444.0h0M269.2 422.8h0M280.5 436.3h0M265.7 412.1h0M282.5 429.2h0M280.0 426.2h0M265.0 416.6h0M287.6 429.6h0M279.1 420.6h0M275.3 416.3h0M268.7 421.3h0M278.3 438.7h0M276.8 414.4h0M280.5 431.1h0M265.4 413.5h0M283.0 417.7h0M281.2 434.2h0M271.3 408.8h0M275.9 418.1h0M280.9 442.9h0M280.3 437.2h0M279.9 416.4h0M269.1 405.3h0M286.6 429.8h0M291.3 430.9h0M287.9 425.0h0M284.3 424.9h0M288.0 445.2h0M274.3 435.8h0M265.1 417.9h0M277.6 426.9h0M283.1 431.1h0M284.0 423.1h0M263.6 412.9h0M279.1 439.5h0M293.5 435.4h0M286.9 431.8h0M284.1 430.7h0M275.7 410.8h0M281.2 441.2h0M281.6 432.5h0M280.4 429.5h0M269.3 420.3h0M286.4 420.9h0M290.7 431.5h0M268.0 417.8h0M267.7 407.7h0M266.5 423.6h0M269.1 413.7h0M267.4 426.7h0M281.6 426.6h0M278.9 420.2h0M270.1 409.7h0M280.9 418.2h0M281.5 435.3h0M283.6 432.5h0M272.7 416.2h0M275.2 419.6h0M281.8 426.2h0M276.4 436.1h0M270.9 421.2h0M273.4 413.7h0M283.2 426.3h0" stroke="#A5A72A"/>
<path d="M234.6 429.2h0M240.4 440.6h0M240.7 438.9h0M239.7 432.3h0M240.6 437.7h0M246.4 438.4h0M245.8 434.7h0M239.3 433.8h0M250.3 445.5h0M237.9 435.2h0M242.1 438.6h0M244.9 444.7h0M239.0 438.9h0M233.0 433.5h0M234.0 439.4h0M250.3 446.1h0M239.4 445.5h0M244.6 436.5h0M240.8 439.6h0M249.7 438.5h0M241.1 441.2h0M239.7 444.3h0M239.9 444.6h0M242.5 442.5h0M236.3 436.5h0M238.4 435.6h0M236.9 434.4h0M242.1 445.4h0M240.3 434.1h0M248.1 440.4h0M246.8 434.4h0M237.2 435.3h0M236.8 436.0h0M234.8 431.0h0M246.0 433.3h0M241.3 446.7h0M237.7 436.7h0M240.0 443.1h0M241.4 443.2h0M236.5 431.3h0M244.2 444.1h0M243.1 445.5h0M246.4 443.0h0M244.2 437.8h0M245.6 438.1h0M237.3 442.7h0M239.2 438.1h0M238.6 438.5h0M235.7 437.5h0M238.9 429.1h0M244.5 434.1h0M233.5 431.5h0M240.1 435.4h0M242.0 432.1h0M237.2 435.1h0M238.8 443.4h0M239.9 429.2h0M238.3 445.3h0M238.6 434.2h0M244.2 445.9h0M245.6 438.2h0M244.3 441.3h0M234.1 438.5h0M234.8 437.1h0M238.0 440.9h0M237.9 439.3h0M234.5 432.7h0M232.7 436.9h0M239.7 431.5h0M241.1 443.7h0M239.8 445.5h0M242.1 432.6h0M234.3 437.4h0M239.3 429.1h0M238.0 437.8h0M240.5 432.5h0M247.2 437.8h0M248.9 437.6h0M243.2 433.3h0M243.4 440.2h0M240.1 442.1h0M237.0 432.6h0M234.0 436.9h0M240.5 439.3h0M239.3 436.9h0M239.6 437.9h0M238.7 442.7h0M233.6 440.2h0M248.9 436.2h0M240.5 443.2h0M247.6 437.6h0M243.9 439.4h0M239.1 440.5h0M240.9 434.7h0M240.8 445.2h0M236.5 438.0h0M242.6 440.0h0M245.4 440.5h0M241.9 436.3h0M249.2 446.2h0M236.5 432.0h0M239.6 442.9h0M240.9 440.2h0M247.7 444.6h0M245.6 441.1h0M245.3 441.0h0M238.5 438.3h0M245.5 436.8h0M248.7 443.7h0M234.3 442.1h0" stroke="#5CB4E0"/>
<path d="M362.2 281.7h0M361.8 285.6h0M360.7 285.6h0M366.0 282.5h0M362.0 285.6h0M362.5 285.0h0M362.6 284.2h0M366.0 278.7h0M379.2 297.3h0M366.2 280.4h0M381.5 296.0h0M361.4 281.7h0M375.9 285.3h0M355.9 282.2h0M343.8 266.5h0M358.8 280.2h0M363.0 285.5h0M370.8 281.5h0M360.9 286.1h0M364.5 282.0h0M356.5 283.9h0M383.0 293.6h0M360.9 286.0h0M365.8 293.8h0M360.1 285.7h0M374.3 293.3h0M356.8 275.2h0M365.8 281.6h0M365.1 283.5h0M357.6 277.2h0M358.2 278.1h0M356.0 282.9h0M375.1 291.4h0M355.4 277.4h0M370.4 292.8h0M370.6 281.2h0M345.6 266.7h0M382.5 296.0h0M382.1 296.0h0M359.7 277.9h0M364.8 279.0h0M355.5 280.4h0M345.6 268.4h0M360.9 284.2h0M367.0 279.2h0M373.1 284.4h0M366.1 290.3h0M365.2 281.3h0M362.1 288.6h0M353.7 273.9h0M366.9 282.7h0M368.2 284.0h0M360.4 276.4h0M357.9 281.2h0M363.7 285.6h0M345.5 266.8h0M360.4 284.7h0M352.7 277.4h0M362.0 281.2h0M364.4 284.7h0M351.3 272.4h0M368.2 294.1h0M362.0 284.5h0M378.4 296.4h0M363.2 285.9h0M360.4 286.0h0M358.0 284.3h0M377.9 292.8h0M382.6 294.9h0M363.4 280.1h0M361.3 285.2h0M361.1 286.0h0M360.1 276.3h0M380.7 294.2h0M368.6 283.0h0M378.6 296.6h0M368.0 288.9h0M363.4 285.6h0M361.4 285.8h0M358.9 282.8h0M358.9 278.4h0M365.4 281.5h0M362.6 286.6h0M366.7 282.9h0M361.9 288.1h0M373.6 291.5h0M342.9 266.8h0M359.2 286.3h0M343.6 270.3h0M361.4 286.6h0M365.0 288.4h0M353.6 275.6h0M350.6 278.8h0M362.8 282.2h0M383.9 295.5h0M348.5 268.7h0M360.7 285.6h0M364.3 286.2h0M372.1 285.2h0M348.2 268.3h0M355.3 279.0h0M375.1 291.9h0M370.8 281.8h0M372.6 296.5h0M366.8 282.3h0M368.7 291.1h0M371.9 286.9h0M369.3 295.0h0M360.8 289.0h0M350.0 277.0h0M363.0 286.6h0M359.3 282.2h0M357.6 281.8h0M359.2 280.4h0M360.7 289.2h0M377.4 295.8h0M364.6 289.9h0M353.5 277.3h0M356.6 277.4h0M363.3 284.7h0M362.6 289.7h0M367.9 290.9h0M363.5 288.2h0M366.0 283.5h0M349.9 277.1h0M367.5 280.6h0M369.2 293.1h0M363.0 292.0h0M378.3 295.9h0M354.1 281.6h0M354.0 277.0h0M381.3 294.6h0M346.2 270.0h0M362.2 285.0h0M365.2 282.9h0M360.6 283.4h0M348.8 271.5h0M349.8 269.9h0M362.2 286.8h0M360.3 284.8h0M344.7 269.1h0M349.1 274.8h0M366.2 284.2h0M360.2 287.1h0M352.9 277.2h0M368.0 281.1h0M365.3 292.4h0M350.4 274.2h0M364.6 288.8h0M364.5 284.4h0" stroke="#5F9FD8"/>
<path d="M170.3 493.8h0M170.7 491.5h0M167.9 489.0h0M211.7 482.8h0M234.6 468.1h0M208.9 482.8h0M170.1 489.4h0M158.8 489.5h0M167.5 489.5h0M171.0 494.0h0M209.3 481.4h0M222.8 467.9h0M166.0 489.0h0M171.3 490.9h0M150.9 492.5h0M166.8 492.3h0M162.5 493.5h0M173.4 490.2h0M168.9 493.6h0M173.1 495.6h0M172.0 488.3h0M192.1 488.5h0M164.9 487.0h0M170.8 485.0h0M169.2 494.9h0M157.9 495.7h0M209.2 485.2h0M173.1 488.7h0M230.6 468.9h0M208.0 484.3h0M233.7 471.9h0M171.2 493.9h0M165.3 489.3h0M186.6 492.3h0M168.4 486.5h0M187.9 488.8h0M166.2 490.1h0M169.8 488.5h0M154.2 500.0h0M169.8 492.4h0M211.1 483.8h0M189.7 473.8h0M189.8 489.9h0M168.7 495.8h0M227.2 472.2h0M167.6 495.6h0M207.8 483.4h0M147.5 491.8h0M141.9 490.7h0M207.9 483.6h0M205.9 483.8h0M169.6 486.6h0M148.0 487.0h0M178.6 482.7h0M206.3 481.1h0M166.4 488.4h0M170.7 492.3h0M158.9 490.1h0M207.2 481.6h0M143.3 488.9h0M232.2 468.7h0M160.7 488.5h0M214.7 479.2h0M170.2 488.0h0M171.0 490.5h0M171.9 487.4h0M158.9 487.7h0M169.2 488.1h0M206.5 484.4h0M206.4 485.1h0M148.7 480.5h0M157.0 486.6h0M165.2 481.2h0M158.0 493.9h0M187.7 489.0h0M191.5 482.8h0M176.8 490.4h0M158.5 486.9h0M167.4 487.0h0M173.6 482.1h0M180.4 488.5h0M223.0 474.1h0M165.8 485.6h0M233.8 468.8h0M170.3 493.9h0M209.4 485.0h0M143.9 491.9h0M166.3 478.8h0M188.3 486.1h0M204.9 481.4h0M171.0 496.3h0M167.4 493.0h0M223.6 474.8h0M169.8 487.4h0M230.7 469.7h0M234.1 468.6h0M185.1 475.1h0M227.8 468.8h0M207.5 482.0h0M145.0 490.6h0M184.8 490.0h0M176.9 493.8h0M146.0 483.2h0M145.7 489.1h0M163.6 486.8h0M157.9 488.0h0M169.3 491.6h0M158.7 490.4h0M234.0 469.8h0M220.0 476.9h0M144.1 489.3h0M207.4 483.2h0M165.8 487.1h0M157.3 489.8h0M170.4 488.8h0M164.8 492.1h0M204.9 485.3h0M162.5 493.2h0M200.8 485.8h0M168.4 496.8h0M168.8 492.6h0M170.9 494.6h0M157.1 489.6h0M207.4 481.2h0M167.8 495.2h0M159.2 489.4h0M233.7 471.3h0M167.0 486.4h0M213.4 476.4h0M221.6 471.1h0M210.0 484.4h0M178.3 488.0h0M172.6 484.6h0M169.9 491.7h0M198.1 478.8h0M166.5 482.7h0M165.7 495.5h0M170.1 490.4h0M230.1 466.6h0M207.8 484.3h0M205.1 484.3h0M164.2 488.5h0M217.7 476.3h0M167.5 488.2h0M173.1 476.8h0M209.4 484.1h0M201.2 478.0h0M180.6 494.8h0M166.3 487.6h0M187.1 492.8h0M227.0 466.5h0M164.8 487.5h0M144.0 486.7h0M169.8 496.1h0M228.4 468.6h0M170.7 485.9h0M186.1 490.5h0M164.0 480.5h0M146.2 487.0h0M226.0 473.2h0M148.3 482.2h0M141.9 487.2h0M216.7 473.2h0M183.6 489.8h0M148.7 483.5h0M175.5 484.9h0M137.3 493.0h0M192.0 488.2h0M166.1 489.0h0M229.3 474.0h0M208.5 481.9h0M233.4 470.7h0M208.4 483.6h0M128.0 490.0h0M175.7 490.9h0M152.5 499.9h0M213.8 476.2h0M199.6 477.9h0M234.3 468.2h0M192.6 490.1h0M231.6 467.9h0M170.6 483.4h0M207.1 481.5h0M169.6 484.6h0M142.6 495.1h0M159.1 494.9h0M171.2 476.1h0M199.6 475.9h0M156.2 492.9h0M206.9 485.9h0M162.4 494.9h0M203.0 485.3h0M156.5 483.3h0M166.0 489.4h0M168.2 487.5h0M163.9 494.0h0M207.2 480.7h0M168.3 494.7h0M185.7 488.3h0M168.1 482.7h0M182.3 486.5h0M142.5 487.0h0M160.3 488.5h0M169.7 488.0h0M230.5 468.2h0M157.2 479.8h0M130.3 491.7h0M144.7 481.3h0M223.7 469.5h0M227.2 469.7h0M193.0 487.5h0M161.6 494.8h0M179.4 492.2h0M223.3 468.0h0M196.0 486.7h0M200.7 490.3h0M161.3 492.4h0M168.2 496.2h0M177.2 485.9h0M213.7 472.3h0M160.5 487.5h0M173.3 492.4h0M165.9 494.0h0M179.5 490.3h0M146.0 486.2h0M147.9 491.4h0M162.9 488.8h0M184.2 484.3h0M165.8 494.6h0M173.6 489.5h0M168.5 486.6h0M168.4 494.2h0M169.3 486.7h0M195.4 476.4h0M141.2 497.5h0M166.0 491.3h0M142.5 489.9h0M163.7 486.1h0M153.8 493.0h0M150.7 484.3h0M187.9 473.5h0M211.6 481.6h0M131.2 490.3h0M149.1 492.2h0M148.5 488.4h0M163.2 477.9h0M208.1 485.0h0M159.2 491.6h0M172.5 489.2h0M144.8 486.5h0M166.8 487.5h0M227.3 469.1h0M139.1 499.9h0M141.3 485.2h0M191.1 481.5h0M181.3 487.3h0M168.2 495.9h0M166.9 491.7h0M170.9 481.6h0M210.8 472.2h0M145.7 487.9h0M181.4 480.3h0M168.5 490.5h0M182.7 489.5h0M182.2 489.0h0M178.7 487.0h0M158.7 487.9h0M199.7 475.5h0M171.0 495.5h0M171.5 491.1h0M171.3 491.5h0M146.7 493.0h0M148.6 490.2h0M195.2 480.7h0M174.6 479.8h0M165.2 486.5h0M202.3 488.8h0M166.6 485.1h0M221.7 478.2h0M160.9 491.2h0M172.1 482.5h0M159.9 491.6h0M188.4 490.6h0M157.8 488.7h0M206.1 472.7h0M161.4 480.9h0M172.5 478.9h0M220.8 472.3h0M219.5 475.4h0M133.6 484.6h0M182.8 490.4h0M235.0 468.3h0M178.6 485.3h0M159.9 480.0h0M218.1 477.3h0M200.9 475.6h0M141.5 491.1h0M164.7 488.7h0M169.3 490.3h0M157.3 494.4h0M158.8 479.5h0M198.8 484.8h0M218.9 475.5h0M155.7 491.6h0M200.5 480.7h0M139.3 488.1h0M147.4 491.3h0M157.2 494.0h0M176.3 483.3h0M145.6 485.7h0M193.4 475.8h0M137.6 493.5h0M146.0 488.2h0M175.3 492.2h0M171.5 479.5h0M162.0 480.6h0M167.4 494.6h0M195.1 474.2h0M210.8 475.2h0M200.8 485.4h0M161.5 482.2h0M183.3 476.1h0M204.8 482.7h0M171.5 495.0h0M162.3 489.2h0M137.1 485.5h0M198.2 485.3h0M226.5 467.4h0M154.1 500.0h0M168.1 487.7h0M141.9 481.9h0M130.8 484.2h0M143.9 488.8h0M176.0 489.7h0M165.7 480.1h0M195.5 477.6h0M163.8 492.8h0M163.0 492.6h0M173.7 483.4h0M188.4 483.3h0M135.2 485.7h0M205.1 486.4h0M152.1 492.7h0M146.6 483.7h0M231.6 471.1h0M171.1 485.3h0M137.8 486.8h0M188.6 491.1h0M163.8 495.4h0M197.6 484.6h0M226.4 472.8h0M173.2 494.4h0M134.6 494.4h0M171.8 495.3h0M143.7 491.5h0M166.7 490.8h0M171.6 492.4h0M146.8 490.4h0M158.6 493.0h0M178.5 494.0h0M188.9 481.5h0M188.1 477.8h0M195.0 483.2h0M127.4 487.4h0M206.8 483.8h0M166.1 493.5h0M186.6 489.8h0M174.5 496.6h0M220.2 477.3h0M203.9 479.2h0M174.0 485.3h0M176.5 482.9h0M156.1 493.2h0M170.1 491.6h0M201.3 487.3h0M205.3 485.5h0M204.7 480.6h0M125.3 487.1h0M225.1 471.3h0M154.1 482.1h0M212.5 480.2h0M163.4 481.9h0M183.8 494.6h0M154.5 486.9h0M163.7 489.4h0M187.7 489.2h0M208.7 481.6h0M168.1 488.8h0M224.4 469.1h0M137.8 488.7h0M180.9 480.9h0M179.3 481.6h0M168.1 492.3h0M167.7 491.7h0M186.0 486.4h0M187.2 480.2h0M190.1 480.4h0M137.8 492.9h0M170.6 488.2h0M172.8 482.6h0M233.1 472.3h0M191.6 480.4h0M181.9 490.8h0M173.9 481.2h0M168.4 495.8h0M169.1 489.0h0M175.2 488.7h0M147.7 493.7h0M208.4 484.9h0M177.9 478.7h0M169.6 487.7h0M140.3 493.8h0M170.8 493.0h0M195.2 487.0h0M133.0 485.6h0M192.5 480.2h0M171.2 488.8h0M169.0 484.6h0M189.6 483.2h0M202.9 488.1h0M201.6 489.2h0M161.1 485.3h0M170.6 484.4h0M200.2 485.1h0M141.7 486.8h0M173.4 484.3h0M159.9 496.7h0M203.7 475.3h0M184.8 481.4h0M159.7 488.2h0M182.5 485.7h0M142.8 484.1h0M169.8 490.0h0M236.4 468.8h0M159.8 492.5h0M146.2 486.1h0M172.4 477.2h0M203.5 471.1h0M156.4 489.4h0M126.4 492.4h0M200.9 487.1h0M171.2 488.2h0M171.0 483.5h0M142.0 487.9h0M141.9 502.4h0M169.5 485.2h0M138.1 484.1h0M169.3 492.3h0M168.6 486.8h0M163.3 479.9h0M167.0 492.9h0M170.9 493.8h0M163.5 487.6h0M162.9 493.3h0M212.6 480.2h0M196.3 485.1h0M171.3 493.1h0M173.6 475.5h0M218.5 476.9h0M172.5 489.7h0M171.2 490.8h0M162.9 489.8h0M171.5 490.6h0M143.3 487.6h0M177.4 481.2h0M171.1 493.7h0M172.1 487.7h0M164.9 488.6h0M216.9 469.3h0M218.7 477.8h0" stroke="#DC9018"/>
<path d="M484.2 408.8h0M482.6 407.6h0M493.4 413.4h0M481.9 405.3h0M484.0 405.5h0M485.7 408.1h0M493.9 413.2h0M496.6 403.2h0M484.7 410.2h0M481.5 411.6h0M487.9 414.6h0M483.7 401.9h0M485.6 415.9h0M481.1 404.6h0M501.3 412.5h0M500.8 412.4h0M499.9 400.8h0M484.3 402.4h0M480.9 404.4h0M498.4 408.0h0M500.8 405.6h0M492.3 398.0h0M491.5 405.0h0M482.1 405.1h0M494.1 411.0h0M497.7 406.1h0M481.8 404.7h0M499.6 399.3h0M495.4 408.6h0M483.4 404.2h0M484.6 408.5h0M493.6 409.5h0M495.4 404.7h0M483.0 400.4h0M484.0 401.9h0M484.5 405.2h0M492.0 414.6h0M493.1 415.7h0M494.0 415.5h0M493.0 410.6h0M485.2 411.9h0M498.6 407.0h0M502.0 400.4h0M481.4 403.4h0M486.0 406.7h0M478.4 402.8h0M495.1 411.9h0M487.2 412.8h0M484.3 401.5h0M498.8 406.8h0M479.7 405.0h0M499.5 402.6h0M485.2 400.3h0M481.9 406.3h0M492.1 408.6h0M485.2 402.2h0M493.8 402.0h0M488.4 415.7h0M498.3 407.6h0M499.9 408.8h0M499.7 408.5h0M481.4 407.4h0M482.3 406.4h0M497.7 410.5h0M501.8 407.2h0M501.1 403.4h0M479.4 407.2h0M499.5 408.9h0M502.0 402.2h0M504.1 408.6h0M489.6 410.1h0M498.9 399.2h0M481.9 407.1h0M490.8 410.2h0M480.5 410.7h0M490.9 409.4h0M492.4 413.8h0M477.5 406.8h0M484.5 415.1h0M498.2 410.9h0M492.8 402.4h0M485.1 401.5h0M483.3 406.3h0M487.0 412.1h0M498.9 402.2h0M498.1 408.7h0M496.9 398.3h0M487.8 412.1h0M486.0 403.2h0M479.4 402.1h0M484.9 400.4h0M479.5 405.1h0M495.7 412.9h0M496.3 408.0h0M487.2 404.2h0M494.4 413.4h0M482.5 410.6h0M488.3 401.2h0M499.0 409.6h0M483.2 413.7h0M495.3 413.3h0M501.3 411.7h0M499.6 410.4h0M481.1 406.8h0M488.2 403.0h0M479.8 413.0h0M498.1 402.6h0M501.6 402.2h0M490.5 413.0h0M484.9 402.8h0M490.8 400.0h0M485.8 404.6h0M485.7 410.4h0M491.2 409.8h0M493.3 411.8h0M501.4 407.5h0M502.6 403.8h0M486.1 400.0h0M491.2 402.9h0M484.1 401.1h0" stroke="#DC9018"/>
<path d="M257.9 486.0h0M262.1 493.6h0M274.5 479.1h0M272.9 480.7h0M257.4 485.7h0M275.4 478.6h0M271.5 479.2h0M259.4 494.8h0M254.6 528.0h0M267.1 471.3h0M258.1 485.4h0M251.4 528.2h0M278.3 480.7h0M266.1 486.2h0M259.7 521.1h0M255.2 499.4h0M254.6 528.6h0M261.9 491.3h0M263.3 499.9h0M279.6 475.3h0M260.1 486.3h0M263.9 493.3h0M272.0 487.6h0M256.1 530.1h0M259.6 483.7h0M265.6 478.6h0M276.0 477.7h0M267.7 486.6h0M258.5 479.2h0M279.0 476.8h0M274.3 488.2h0M260.4 507.9h0M259.5 484.5h0M270.1 488.6h0M270.8 490.0h0M275.7 478.9h0M257.0 526.6h0M261.1 479.3h0M255.4 526.9h0M259.5 483.5h0M255.4 499.3h0M285.0 470.9h0M261.4 506.3h0M264.7 487.1h0M260.9 506.4h0M256.7 483.2h0M256.1 514.9h0M252.6 526.9h0M254.2 475.6h0M272.6 477.2h0M264.8 493.5h0M259.2 507.6h0M265.4 499.4h0M262.3 516.2h0M282.1 471.5h0M261.1 493.3h0M258.8 470.7h0M264.1 485.3h0M274.4 484.1h0M263.1 488.5h0M281.9 473.2h0M261.9 470.4h0M277.6 482.0h0M268.1 506.3h0M273.9 476.5h0M258.3 474.0h0M258.3 471.9h0M282.5 476.7h0M262.6 495.6h0M260.8 507.2h0M273.4 489.6h0M262.0 494.2h0M263.9 492.7h0M269.1 478.5h0M274.1 476.6h0M257.8 515.3h0M258.0 520.5h0M278.0 479.0h0M258.0 485.0h0M270.8 483.3h0M258.2 518.1h0M254.9 516.5h0M261.7 507.3h0M257.1 507.1h0M256.7 507.0h0M261.2 495.5h0M275.7 480.1h0M254.3 525.1h0M272.2 502.9h0M273.4 493.9h0M261.0 487.5h0M264.7 477.4h0M256.6 522.3h0M268.7 497.8h0M253.2 518.9h0M259.0 478.4h0M265.3 486.8h0M268.1 513.5h0M272.2 494.3h0M276.7 474.9h0M263.3 518.0h0M255.6 505.9h0M267.9 513.9h0M271.9 490.7h0M277.6 482.2h0M254.4 476.4h0M256.7 510.8h0M271.7 469.6h0M257.7 529.2h0M269.3 477.0h0M272.9 474.5h0M260.3 508.2h0M251.2 519.3h0M255.1 518.6h0M255.2 521.9h0M272.9 486.4h0M283.3 470.8h0M260.7 508.6h0M252.4 525.2h0M252.6 520.3h0M257.0 484.5h0M266.6 491.1h0M260.3 481.1h0M269.6 509.4h0M276.8 482.8h0M277.2 471.8h0M284.5 473.4h0M256.3 506.0h0M253.8 514.6h0M272.7 494.7h0M258.9 483.9h0M254.7 517.0h0M256.0 510.9h0M268.7 494.3h0M278.7 480.0h0M275.9 477.6h0M270.0 494.8h0M255.6 528.3h0M252.6 511.6h0M256.6 477.6h0M258.5 523.1h0M271.9 486.6h0M267.6 512.2h0M283.4 475.3h0M272.2 473.8h0M275.3 480.7h0M261.8 505.3h0M266.5 489.0h0M258.0 508.3h0M268.4 480.0h0M257.3 468.2h0M265.6 518.2h0M265.7 511.2h0M284.1 469.5h0M264.0 507.8h0M270.7 487.1h0M266.1 489.1h0M257.5 488.1h0M258.4 470.6h0M262.1 508.3h0M259.8 486.0h0M256.0 526.5h0M273.7 477.5h0M259.8 510.6h0M282.2 473.6h0M283.9 473.9h0M260.4 527.1h0M272.9 489.4h0M254.6 507.6h0M257.2 528.1h0M268.2 490.4h0M271.7 501.9h0M260.5 489.6h0M277.9 475.5h0M264.9 481.4h0M264.1 484.2h0M249.6 519.4h0M276.8 479.0h0M283.6 469.2h0M260.3 474.5h0M260.8 473.9h0M271.5 472.7h0M258.1 517.5h0M258.8 486.0h0M259.8 495.3h0M270.9 478.6h0M259.4 507.3h0M256.9 480.2h0M276.2 482.9h0M262.3 494.3h0M260.4 504.7h0M282.8 469.5h0M275.0 491.1h0M277.3 470.7h0M254.3 512.6h0M263.0 489.5h0M254.2 508.3h0M258.4 515.2h0M259.7 518.9h0M269.6 506.2h0M263.9 519.1h0M272.9 485.1h0M260.8 476.2h0M276.2 480.7h0M274.6 487.8h0M260.9 512.4h0M262.2 490.1h0M271.7 478.3h0M262.6 476.5h0M258.3 506.3h0M277.6 482.3h0M269.0 486.3h0M262.4 501.6h0M259.0 497.2h0M276.8 473.4h0M273.5 472.6h0M272.9 476.6h0M261.7 520.6h0M256.5 469.6h0M274.5 467.4h0M278.7 476.4h0M256.7 491.6h0M266.9 489.3h0M263.8 472.9h0M262.5 514.0h0M264.9 513.5h0M270.3 496.3h0M260.6 471.7h0M268.4 474.0h0M263.7 508.6h0M267.5 478.8h0M253.6 529.4h0M252.6 530.6h0M266.2 473.5h0M280.4 476.5h0M267.8 478.8h0M251.2 517.2h0M258.0 475.6h0M254.5 527.1h0M248.6 520.0h0M281.3 474.3h0M257.0 516.2h0M256.4 528.4h0M258.5 475.5h0M257.9 488.0h0M278.3 480.7h0M260.1 485.0h0M261.1 471.4h0M260.9 524.8h0M258.3 508.8h0M274.4 481.4h0M268.2 492.8h0M262.4 478.5h0M262.6 500.6h0M274.7 484.1h0M271.8 501.7h0M256.9 482.5h0M259.8 518.0h0M265.6 504.9h0M271.9 468.6h0M256.4 498.2h0M260.9 503.1h0M267.4 506.7h0M268.2 499.2h0M254.9 508.6h0M257.6 510.8h0M281.5 478.9h0M271.9 485.5h0M272.0 472.1h0M265.6 479.3h0M256.6 513.9h0M268.6 492.7h0M256.4 505.6h0M280.2 478.8h0M249.3 527.8h0M260.6 470.8h0M270.9 487.3h0M255.8 529.5h0M264.3 519.4h0M259.6 472.6h0M275.2 475.3h0M256.1 510.3h0M258.2 517.3h0M265.8 520.6h0M254.6 518.0h0M251.9 528.5h0M250.7 516.6h0M262.1 476.2h0M272.8 469.5h0M259.4 518.5h0M280.3 467.1h0M247.3 523.6h0M265.9 518.6h0M262.2 513.5h0M253.2 522.0h0M277.8 472.0h0M255.8 518.5h0M265.0 474.0h0M258.4 523.7h0M260.3 495.4h0M261.2 503.9h0M263.9 473.6h0M257.0 477.1h0M270.3 479.2h0M276.3 488.0h0M254.0 523.9h0M255.6 517.7h0M256.4 511.1h0M268.2 491.8h0M271.1 491.4h0M260.2 480.2h0M266.4 470.5h0M258.6 471.8h0M257.3 471.3h0M270.8 498.3h0M257.0 524.5h0M279.1 471.8h0M266.7 488.3h0M273.2 493.4h0M266.3 490.3h0M269.2 487.0h0M257.9 520.7h0M275.3 480.0h0M260.9 505.4h0M262.6 483.1h0M270.3 478.5h0M270.3 467.7h0M270.3 477.0h0M261.1 502.3h0M255.8 493.7h0" stroke="#5BC5DC"/>
<path d="M197.4 554.1h0M202.0 554.3h0M214.9 543.0h0M199.9 561.1h0M211.4 536.3h0M209.4 535.7h0M215.0 543.0h0M197.5 557.7h0M212.9 542.1h0M200.2 556.4h0M203.1 545.4h0M207.8 536.1h0M201.3 548.6h0M201.1 552.4h0M215.4 542.6h0M201.8 560.3h0M207.6 535.6h0M209.3 536.9h0M205.4 534.6h0M203.5 540.6h0M216.5 543.2h0M205.2 537.4h0M209.3 536.9h0M209.3 536.1h0M207.1 532.2h0M203.2 536.3h0M214.8 544.7h0M207.9 533.4h0M208.7 535.1h0M198.6 551.8h0M212.9 542.0h0M197.1 559.6h0M201.4 539.3h0M202.3 552.6h0M198.8 556.3h0M200.9 537.5h0M198.7 551.6h0M201.5 551.6h0M198.9 559.2h0M199.6 551.4h0M200.0 550.6h0M203.6 541.9h0M214.1 539.9h0M204.3 535.8h0M212.3 534.8h0M207.1 532.4h0M203.3 537.1h0M211.5 539.5h0M199.8 561.7h0M207.8 534.6h0M206.7 532.4h0M205.8 534.2h0M207.5 533.8h0M203.5 549.8h0M198.3 551.4h0M199.5 542.8h0M199.0 552.5h0M209.6 536.8h0M210.8 534.4h0M202.9 538.3h0M199.1 547.3h0M200.3 541.3h0M202.4 535.9h0M206.3 534.9h0M203.8 533.4h0M212.5 543.1h0M204.3 532.6h0M207.3 531.1h0M205.4 534.4h0M196.6 560.3h0M200.9 554.5h0M199.1 559.8h0M211.8 535.8h0M200.0 560.5h0M200.5 542.0h0M209.3 532.7h0M204.0 542.9h0M212.9 540.8h0M201.8 553.0h0M201.9 552.4h0M200.8 553.0h0M203.7 538.5h0M205.6 535.9h0M203.8 541.8h0M213.7 546.0h0M200.0 556.7h0M210.1 535.8h0M207.0 534.8h0M205.9 535.5h0M202.8 537.3h0" stroke="#4EC7C4"/>
<path d="M277.1 559.6h0M284.6 560.3h0M278.4 559.6h0M263.3 586.6h0M277.7 561.7h0M261.8 585.3h0M263.7 585.1h0M279.7 565.7h0M268.5 582.3h0M267.5 583.8h0M282.7 573.3h0M275.1 583.5h0M280.1 557.9h0M269.1 581.6h0M276.9 558.4h0M268.5 584.5h0M270.7 587.0h0M272.3 587.0h0M265.4 584.7h0M268.3 583.3h0M268.2 580.9h0M268.0 580.7h0M266.8 582.2h0M280.7 560.7h0M266.7 584.0h0M273.2 564.4h0M261.8 584.4h0M279.7 559.5h0M283.6 562.7h0M276.8 580.4h0M280.6 565.3h0M267.0 588.2h0M280.4 558.0h0M265.6 587.1h0M270.1 584.2h0M262.6 584.3h0M267.1 575.3h0M275.0 562.2h0M269.0 576.5h0M266.4 585.6h0M268.5 577.7h0M283.2 559.9h0M284.4 560.5h0M275.3 558.4h0M272.6 585.5h0M269.2 581.7h0M274.8 571.6h0M276.8 570.7h0M261.6 585.2h0M281.4 569.3h0M263.8 579.9h0M266.7 578.1h0M262.1 587.2h0M283.7 572.0h0M272.5 569.2h0M279.6 566.3h0M273.9 564.8h0M269.2 583.6h0M287.4 564.1h0M265.8 577.9h0M274.7 564.3h0M273.3 571.2h0M282.5 573.4h0M282.0 565.6h0M267.3 589.8h0M279.5 576.8h0M284.5 565.1h0M273.9 560.1h0M276.9 571.0h0M267.5 581.3h0M275.5 571.5h0M267.4 580.3h0M283.2 574.4h0M274.9 583.7h0M263.7 585.2h0M268.3 578.3h0M275.2 558.6h0M263.2 585.8h0M265.8 578.2h0M266.2 584.1h0M286.8 566.8h0M274.2 572.4h0M275.4 568.3h0M272.1 574.4h0M265.7 582.7h0M280.6 559.4h0M262.9 586.5h0M269.5 580.8h0M278.0 571.7h0M278.1 563.3h0M278.0 564.3h0M266.8 582.4h0M271.3 583.8h0M276.4 572.5h0M262.7 583.7h0M281.0 559.2h0M260.7 585.5h0M268.4 575.3h0M267.9 581.9h0M279.1 563.4h0M286.7 570.0h0M277.8 573.2h0M268.0 581.0h0M267.0 588.0h0M282.7 562.8h0M282.9 561.2h0M269.5 571.8h0M278.2 572.2h0M271.8 574.5h0M275.2 562.2h0M265.5 585.2h0M276.8 562.8h0M271.9 581.9h0M279.6 573.8h0M280.0 560.0h0M267.4 585.5h0M279.8 577.1h0M284.6 567.6h0M266.1 587.0h0M273.2 577.5h0M273.8 572.3h0M273.3 571.4h0M284.4 561.8h0M265.7 586.0h0M282.8 570.7h0M280.8 569.1h0M277.3 576.9h0M267.0 577.6h0M275.1 570.1h0M279.0 560.2h0M269.1 571.2h0M277.8 561.5h0M287.4 568.9h0M276.5 560.8h0M277.0 579.1h0M281.6 559.5h0M275.4 564.0h0M278.1 568.7h0M278.1 563.1h0M281.0 562.0h0M271.5 587.2h0M273.5 577.6h0M265.0 584.4h0M271.4 583.5h0M287.9 568.1h0M268.4 586.6h0M276.8 558.9h0M282.2 559.2h0M273.3 566.4h0M282.0 574.6h0" stroke="#D073D3"/>
<path d="M330.3 595.8h0M316.7 606.5h0M327.2 598.8h0M311.3 614.9h0M333.4 589.9h0M310.5 617.5h0M312.1 614.9h0M327.8 600.0h0M306.7 620.4h0M325.0 597.7h0M303.3 624.8h0M341.0 578.2h0M326.1 592.4h0M341.4 573.3h0M310.2 616.3h0M342.4 569.1h0M340.9 573.1h0M312.6 615.0h0M340.9 576.7h0M307.8 619.9h0M329.4 593.0h0M324.4 603.8h0M307.2 620.6h0M309.3 617.6h0M343.7 567.3h0M310.1 613.4h0M333.5 587.8h0M341.1 573.1h0M329.5 598.7h0M321.6 599.4h0M319.8 604.0h0M342.6 568.8h0M320.0 603.9h0M317.3 608.5h0M342.1 571.1h0M341.9 570.6h0M325.1 598.5h0M340.3 580.0h0M339.4 572.5h0M329.8 596.5h0M341.1 569.5h0M307.8 617.8h0M323.6 602.5h0M308.3 621.5h0M342.1 573.9h0M341.8 570.2h0M321.4 602.9h0M338.3 580.6h0M323.8 597.3h0M316.7 611.8h0M341.0 573.8h0M317.9 607.3h0M342.8 572.2h0M334.9 588.1h0M337.9 585.9h0M318.1 606.7h0M320.4 607.7h0M343.3 568.6h0M332.0 590.8h0M302.0 623.6h0M322.7 604.1h0M342.9 573.7h0M325.7 599.3h0M329.0 591.0h0M332.4 586.1h0M322.8 602.7h0M312.6 613.2h0M330.2 592.9h0M335.3 582.6h0M333.7 592.4h0M302.9 623.0h0M338.6 585.5h0M340.7 570.8h0M307.8 617.6h0M310.8 615.3h0M340.8 580.1h0M339.9 579.9h0M334.2 585.9h0M327.3 597.6h0M307.7 621.5h0M340.7 576.6h0M328.8 595.5h0M341.6 571.3h0M332.0 595.9h0M335.6 587.5h0M326.3 595.3h0M320.1 604.0h0M311.1 613.0h0M322.6 600.0h0M316.2 612.6h0M340.1 579.6h0M331.0 594.9h0M307.8 615.7h0M315.7 611.3h0M312.1 614.0h0M330.8 587.3h0M304.8 622.5h0M338.8 582.2h0M329.5 596.0h0M339.8 580.8h0M310.8 617.8h0M326.6 597.2h0M329.0 594.0h0M325.6 594.5h0M330.6 595.0h0M327.4 598.4h0M342.5 571.5h0M315.3 609.1h0M341.6 568.7h0M311.8 616.5h0M314.8 612.3h0M306.1 623.3h0M337.9 584.5h0M327.1 599.0h0M337.4 582.6h0M338.8 585.5h0M324.8 599.7h0M337.3 584.2h0M319.3 609.1h0M334.5 587.6h0" stroke="#DC68B7"/>
<path d="M311.5 621.5h0" stroke="#DC9018"/>
<path d="M382.2 423.3h0M373.0 439.3h0M396.0 411.8h0M394.9 413.7h0M395.6 413.8h0M396.3 410.0h0M367.3 446.1h0M394.9 412.3h0M371.1 443.0h0M382.2 425.5h0M376.9 432.9h0M376.8 426.6h0M366.0 450.0h0M383.3 422.9h0M391.8 416.4h0M385.8 420.2h0M387.2 417.5h0M385.3 424.8h0M375.7 428.7h0M365.7 451.0h0M391.4 415.0h0M397.7 412.3h0M379.3 432.6h0M384.8 416.9h0M362.4 449.9h0M392.2 416.0h0M367.2 447.2h0M380.9 429.7h0M384.3 422.3h0M366.1 443.2h0M393.7 411.7h0M368.7 447.1h0M373.1 437.5h0M367.5 442.2h0M379.0 433.3h0M365.4 445.6h0M363.4 453.2h0M394.0 415.0h0M388.6 417.6h0M371.0 445.2h0M375.7 438.6h0M363.8 450.0h0M389.8 418.2h0M373.5 445.3h0M375.0 429.2h0M392.7 415.6h0M390.5 413.1h0M386.6 420.3h0M394.1 412.8h0M379.6 433.2h0M370.5 436.5h0M372.5 444.5h0M371.9 444.9h0M367.8 445.1h0M369.5 445.0h0M393.1 414.2h0M363.4 447.1h0M390.9 415.9h0M371.7 447.1h0M381.3 424.8h0M376.5 439.9h0M390.2 416.1h0M386.0 426.8h0M377.7 436.9h0M380.3 427.2h0M372.4 435.1h0M380.2 436.5h0M377.1 436.4h0M364.8 449.4h0M379.9 431.1h0M374.5 435.5h0M369.7 438.6h0M363.2 450.9h0M372.8 442.6h0M385.3 419.8h0M376.2 436.6h0M392.1 413.2h0M387.7 414.2h0M386.4 423.3h0M367.1 451.0h0M390.5 415.5h0M388.5 419.3h0M378.5 440.1h0M379.0 438.6h0M373.9 436.2h0M380.1 424.7h0M385.1 426.6h0M378.6 427.1h0M388.1 418.5h0M385.5 415.2h0M380.8 427.4h0M389.4 414.6h0M393.7 415.0h0M387.0 419.1h0M390.0 415.0h0M385.7 420.4h0M389.7 414.6h0M369.9 445.2h0M378.8 439.6h0M361.9 449.7h0M366.6 442.8h0M388.9 417.8h0M379.0 437.9h0M377.6 426.6h0M375.2 439.4h0M375.1 436.5h0M378.9 425.5h0M386.8 416.7h0M377.4 425.9h0M378.1 439.3h0M396.0 413.5h0M395.2 412.3h0M371.7 440.7h0M371.5 434.7h0M396.4 411.8h0M373.8 435.7h0M371.1 442.5h0M376.9 431.9h0M374.7 431.1h0M391.3 412.6h0M373.3 443.9h0M371.6 437.4h0M371.4 445.2h0M383.1 418.7h0M396.5 411.7h0M372.2 440.0h0M363.4 449.2h0M383.7 417.9h0M392.7 412.0h0M382.2 422.5h0M384.4 422.4h0M382.6 419.5h0M387.3 417.1h0M363.8 450.0h0M379.1 436.6h0M383.6 417.5h0M390.4 416.4h0M390.5 415.5h0M384.4 427.7h0M382.7 425.1h0M381.2 433.9h0M374.8 440.6h0M392.7 415.7h0M387.5 414.9h0M366.0 448.1h0M374.2 436.9h0M374.7 436.3h0M378.0 430.2h0M389.5 415.8h0M370.3 440.0h0M374.0 433.3h0M380.9 444.2h0M367.6 430.0h0M372.9 434.3h0M371.7 430.9h0M379.0 438.0h0M371.9 430.4h0M379.3 440.7h0M380.9 443.6h0M377.5 441.4h0M381.1 439.1h0M380.5 440.8h0M374.6 433.9h0M382.4 440.2h0M379.7 439.0h0M384.5 444.1h0M368.0 428.9h0M366.7 428.8h0M383.3 446.9h0M378.1 438.6h0M383.6 445.2h0M376.7 440.7h0M379.5 440.5h0M368.0 431.9h0M375.3 433.2h0M382.5 443.9h0M374.7 435.8h0M374.0 434.5h0M375.7 437.5h0M366.9 431.6h0" stroke="#22B02A"/>
<path d="M382.2 411.7h0M385.0 411.2h0" stroke="#E861A5"/>
<path d="M387.0 410.9h0" stroke="#5BC5DC"/>
<path d="M397.2 410.3h0M378.0 412.6h0M365.3 452.9h0M354.8 424.4h0" stroke="#D073D3"/>
<path d="M354.8 427.2h0" stroke="#22B02A"/>
<path d="M366.1 443.6h0" stroke="#8F97DB"/>
<path d="M427.8 449.5h0M427.6 447.0h0M429.6 448.5h0M424.2 449.9h0M430.0 445.0h0M432.7 440.0h0M425.7 445.7h0M414.7 443.4h0M425.4 445.6h0M433.7 452.7h0M423.8 448.4h0M432.0 460.0h0M427.1 448.7h0M435.3 446.5h0M428.6 450.1h0M416.6 443.9h0M426.6 446.5h0M438.1 458.6h0M435.6 452.6h0M438.2 451.1h0M428.1 459.8h0M437.9 452.6h0M434.6 464.8h0M430.7 449.2h0M431.7 446.3h0M427.2 451.2h0M432.3 447.2h0M423.5 447.0h0M442.1 446.1h0M429.2 444.4h0M445.4 442.2h0M429.8 443.3h0M440.6 444.9h0M415.0 441.9h0M439.1 457.4h0M431.6 447.0h0M426.8 448.0h0M435.7 452.1h0M440.0 460.0h0M423.4 446.0h0M432.8 464.9h0M416.9 442.6h0M430.1 439.5h0M442.9 453.6h0M441.4 453.8h0M439.5 443.9h0M430.4 461.1h0M427.6 450.1h0M442.3 456.3h0M442.7 448.7h0M442.4 448.3h0M440.5 447.8h0M430.1 445.1h0M442.9 446.4h0M429.7 447.3h0M431.0 439.0h0M429.8 443.8h0M427.3 446.4h0M424.9 446.9h0M435.3 450.9h0M434.2 444.8h0M430.2 444.6h0M431.8 440.5h0M427.5 447.5h0M415.2 445.9h0M427.0 449.2h0M427.5 448.3h0M440.1 459.1h0M431.1 440.1h0M435.3 454.6h0M416.9 445.3h0M440.4 458.1h0M436.3 438.5h0M430.7 442.8h0M428.7 442.4h0M418.7 442.6h0M440.7 459.4h0M426.7 449.8h0M427.8 449.3h0M441.5 455.2h0M433.8 445.6h0M424.2 449.0h0M428.4 442.9h0M433.8 450.1h0M439.6 458.6h0M435.5 446.7h0M438.8 458.1h0M429.9 447.6h0M433.1 465.5h0M432.9 454.8h0M426.3 447.8h0M442.1 445.9h0M435.9 452.7h0M428.7 446.3h0M428.3 447.5h0M430.8 446.7h0M433.1 441.7h0M443.3 442.9h0M428.1 449.3h0M430.8 462.6h0M441.9 443.3h0M439.8 459.1h0M434.1 464.1h0M439.8 461.3h0M437.0 459.3h0M441.9 439.0h0M431.2 462.1h0M442.3 444.9h0M421.9 448.2h0M431.9 460.6h0M430.7 456.0h0M427.8 450.6h0M426.4 456.6h0M437.2 445.8h0M429.3 448.4h0M425.9 448.7h0M414.7 441.9h0M437.9 447.4h0M433.3 454.9h0M432.4 457.9h0M441.4 452.6h0M419.3 446.0h0M435.3 456.0h0M433.3 465.1h0M428.0 455.6h0M417.0 445.3h0M443.0 450.0h0M432.8 461.7h0M424.5 448.7h0M435.4 457.0h0M429.0 448.6h0M426.5 460.4h0M443.9 446.7h0M442.8 440.0h0M446.5 446.7h0M420.8 442.2h0M438.0 457.1h0M417.5 446.4h0M434.4 454.3h0M416.1 441.7h0M431.3 458.4h0M428.0 446.0h0M428.9 439.7h0M423.5 440.9h0M444.4 448.5h0M433.4 450.0h0M434.5 449.0h0M429.7 447.1h0M434.4 438.6h0M429.8 460.7h0" stroke="#F67F7A"/>
<path d="M321.0 442.3h0M324.3 448.3h0M320.5 442.6h0M330.1 448.8h0M324.2 446.5h0M324.0 440.4h0M324.2 439.8h0M330.3 448.2h0M320.8 452.3h0M311.8 450.2h0M325.7 440.1h0M328.1 447.6h0M331.6 446.6h0M330.1 446.6h0M327.0 447.8h0M330.7 448.3h0M319.1 446.3h0M320.1 441.2h0M331.1 447.8h0M325.4 447.9h0M313.3 445.7h0M320.9 448.1h0M320.3 442.5h0M308.3 449.6h0M318.4 449.5h0M322.5 446.2h0M324.2 450.7h0M331.4 441.9h0M325.0 446.8h0M318.1 450.3h0M311.8 450.8h0M323.5 442.8h0M326.3 439.4h0M322.7 449.8h0M330.0 438.9h0M330.4 447.4h0M321.2 443.4h0M311.3 451.2h0M335.5 441.6h0M322.9 451.4h0M310.4 449.0h0M320.8 440.6h0M318.3 447.3h0M316.0 446.9h0M324.9 444.4h0M324.6 439.8h0M331.9 440.7h0M326.3 446.6h0M323.0 442.0h0M320.4 452.0h0M320.7 445.8h0M314.6 448.0h0M329.3 438.1h0M315.9 453.0h0M321.9 450.1h0M330.9 442.0h0M330.5 447.2h0M321.0 442.2h0M330.3 443.4h0M319.5 445.1h0M320.0 443.7h0M324.0 439.5h0M324.2 438.7h0M317.0 450.6h0M325.8 442.0h0M319.6 444.5h0M314.2 449.3h0M331.1 441.2h0M325.8 440.8h0M313.1 445.4h0M322.3 439.9h0M316.5 446.0h0M319.3 449.3h0M322.2 442.7h0M324.2 448.8h0M324.1 445.1h0M325.5 438.7h0M312.3 449.8h0M314.0 453.7h0M336.5 441.4h0M318.2 450.9h0M313.1 448.9h0M318.9 442.8h0M318.2 448.7h0M327.4 440.1h0M313.7 448.3h0M326.0 446.3h0M313.0 445.8h0M319.4 447.1h0M335.5 443.2h0M331.9 438.6h0M334.8 445.3h0M322.8 443.6h0M312.0 450.3h0M318.6 451.8h0M325.5 444.8h0M316.3 448.1h0M328.0 438.7h0M316.2 444.6h0M321.4 442.7h0M310.0 450.9h0M325.5 450.1h0M313.9 449.9h0M328.5 447.5h0M331.3 440.6h0M326.4 439.8h0M315.3 449.2h0M328.8 440.3h0M327.3 444.8h0M320.0 451.6h0" stroke="#8F97DB"/>
<path d="M307.4 455.8h0M306.9 461.3h0M300.4 464.4h0M309.3 464.7h0M308.5 462.1h0M304.5 463.6h0M307.0 455.0h0M310.3 460.4h0M316.3 463.3h0M309.5 459.1h0M312.8 459.1h0M301.6 473.6h0M311.5 458.9h0M316.3 463.7h0M310.4 457.7h0M302.2 473.7h0M306.5 454.5h0M309.6 460.3h0M315.7 467.4h0M311.3 462.8h0M301.3 472.8h0M312.9 475.1h0M311.9 458.2h0M306.4 462.7h0M307.2 464.9h0M315.0 469.3h0M312.8 475.4h0M308.8 467.3h0M304.2 463.1h0M313.0 469.6h0M308.8 462.6h0M314.4 472.0h0M302.3 466.1h0M310.2 458.0h0M314.7 456.7h0M302.7 469.3h0M310.3 454.6h0M305.4 477.3h0M313.8 469.5h0M304.9 470.1h0M313.1 466.1h0M311.1 461.2h0M307.3 460.6h0M312.6 474.5h0M311.0 474.9h0M314.3 468.9h0M306.9 466.2h0M314.5 456.9h0M309.1 462.6h0M307.5 452.9h0M309.8 465.0h0M300.8 465.1h0M304.7 478.9h0M303.7 459.8h0M313.0 468.0h0M315.2 471.6h0M311.7 475.4h0M313.4 456.5h0M311.0 460.0h0M312.1 470.4h0M310.9 461.5h0M299.6 462.0h0M310.9 471.1h0M308.4 454.5h0M310.4 460.6h0M310.7 455.5h0M310.3 455.9h0M306.2 466.0h0M310.1 467.9h0M310.7 462.5h0M314.0 460.7h0M313.8 458.1h0M300.7 470.0h0M305.8 467.1h0M299.4 465.8h0M305.5 467.5h0M301.4 467.3h0M315.3 467.6h0M310.6 459.0h0M304.5 475.8h0M311.2 459.2h0M307.9 460.4h0M315.6 469.9h0M308.8 460.3h0M311.9 461.8h0M307.6 454.2h0M312.2 474.9h0M300.6 461.6h0M299.7 464.8h0M312.2 469.4h0M306.5 456.2h0M308.9 468.5h0M311.6 456.5h0M304.4 475.4h0M313.0 457.4h0M312.8 475.8h0M314.9 460.1h0M306.4 468.6h0M312.1 461.9h0M312.5 474.7h0M312.0 459.0h0M312.5 472.4h0M314.3 457.9h0M302.0 474.6h0M310.6 458.4h0" stroke="#F96A9C"/>
<path d="M372.0 480.3h0M373.0 480.7h0M371.2 478.4h0M371.7 481.5h0M368.6 516.7h0M365.4 517.7h0M363.3 512.7h0M331.0 516.5h0M369.3 518.1h0M368.4 521.1h0M372.4 478.0h0M329.5 513.1h0M316.3 489.8h0M367.1 522.0h0M331.8 500.7h0M352.7 518.9h0M328.3 508.9h0M373.6 477.0h0M353.0 520.2h0M308.7 485.3h0M354.6 519.2h0M329.8 491.2h0M375.5 486.6h0M369.8 511.3h0M329.5 507.4h0M324.2 485.6h0M368.6 508.6h0M340.7 515.4h0M308.7 485.7h0M312.9 498.9h0M330.6 505.9h0M329.1 499.4h0M317.1 487.0h0M353.8 494.5h0M331.9 506.7h0M347.6 511.4h0M346.5 510.9h0M321.4 476.9h0M342.9 504.3h0M330.0 475.2h0M349.4 518.9h0M342.6 480.2h0M373.7 478.7h0M368.2 503.6h0M337.8 512.7h0M368.5 484.0h0M322.9 486.4h0M368.1 510.5h0M369.3 501.7h0M337.5 514.1h0M337.8 513.2h0M337.0 511.8h0M365.4 513.0h0M324.6 477.1h0M331.8 478.6h0M351.5 521.4h0M348.3 485.0h0M355.1 519.7h0M345.3 504.2h0M367.9 487.4h0M348.4 485.1h0M322.1 481.0h0M365.7 501.3h0M330.8 511.6h0M322.2 472.2h0M374.4 493.9h0M329.2 485.3h0M309.1 490.8h0M362.3 522.6h0M346.9 486.6h0M345.7 472.2h0M338.3 516.8h0M339.3 479.7h0M361.8 470.8h0M319.2 486.9h0M315.4 495.8h0M332.6 517.2h0M367.9 510.6h0M318.8 502.6h0M361.6 526.2h0M374.8 492.0h0M344.3 507.0h0M342.6 496.9h0M325.5 492.8h0M359.7 516.6h0M342.4 479.6h0M357.1 481.2h0M337.5 475.8h0M357.8 506.3h0M354.6 506.3h0M315.0 476.2h0M349.8 475.1h0M334.1 500.5h0M362.9 512.4h0M329.8 482.9h0M366.0 512.5h0M315.0 479.6h0M352.5 475.8h0M372.6 497.6h0M338.0 507.3h0M342.2 514.7h0M377.2 490.1h0M348.3 518.7h0M338.4 504.8h0M332.6 508.3h0M358.4 486.2h0M340.2 476.7h0M343.1 490.1h0M329.1 513.9h0M309.6 486.8h0M343.0 480.7h0M351.2 481.7h0M333.4 515.7h0M341.2 468.2h0M357.0 520.3h0M359.9 489.2h0M332.3 491.2h0M311.0 480.7h0M334.8 512.0h0M324.2 470.1h0M340.7 473.8h0M354.8 472.5h0M339.7 510.9h0M351.7 478.7h0M340.7 499.6h0M365.4 487.0h0M366.7 504.8h0M358.3 472.1h0M340.2 501.5h0M346.9 486.0h0M352.4 491.4h0M365.6 519.0h0M357.9 519.5h0M350.3 518.1h0M305.1 485.3h0M359.2 489.0h0M363.4 492.6h0M337.2 497.3h0M369.8 499.3h0M320.2 505.8h0M324.9 498.0h0M355.4 480.3h0M371.3 501.2h0M355.3 484.9h0M360.7 517.4h0M349.2 509.6h0M361.0 489.2h0M328.3 498.7h0M352.4 489.3h0M365.6 477.2h0M374.7 495.4h0M322.5 503.0h0M329.5 512.9h0M371.0 509.0h0M335.3 466.3h0M340.9 489.4h0M371.5 501.6h0M312.5 479.1h0M329.4 502.0h0M333.9 492.7h0M359.2 527.8h0M342.8 472.0h0M345.3 484.0h0M328.0 486.1h0M323.5 486.6h0M327.4 484.1h0M341.2 491.0h0M331.2 486.6h0M338.4 476.8h0M356.2 492.5h0M373.3 502.5h0M334.3 511.9h0M367.6 510.6h0M371.1 497.5h0M330.7 468.7h0M323.3 473.0h0M343.2 468.7h0M368.4 511.1h0M360.1 516.5h0M362.3 501.4h0M366.3 504.1h0M369.7 496.1h0M369.6 496.1h0M337.8 494.5h0M327.9 483.7h0M315.8 494.2h0M344.0 507.0h0M358.7 515.9h0M345.8 511.9h0M334.9 514.3h0M338.0 503.9h0M340.7 508.7h0M356.1 480.0h0M327.5 502.8h0M321.3 507.4h0M329.9 513.6h0M371.2 497.2h0M365.1 512.4h0M337.4 515.1h0M333.5 514.6h0M323.9 501.7h0M348.1 511.1h0M344.7 494.6h0M333.3 491.6h0M362.6 475.2h0M328.0 475.0h0M365.4 524.4h0M339.4 495.7h0M336.3 470.5h0M339.0 467.7h0M339.2 491.5h0M313.7 492.4h0M340.6 514.1h0M330.8 474.0h0M316.5 482.6h0M346.9 505.1h0M365.5 522.8h0M322.6 487.3h0M318.4 476.2h0M337.1 515.3h0M328.9 474.3h0M331.2 483.8h0M363.7 489.9h0M358.0 518.9h0M356.7 498.7h0M370.1 509.5h0M362.4 508.4h0M358.2 514.1h0M337.6 488.8h0M359.9 490.1h0M358.3 495.3h0M350.6 507.0h0M343.4 497.3h0M366.5 517.9h0M361.5 521.4h0M372.7 495.7h0M340.7 482.6h0M324.0 480.6h0M343.5 482.2h0M358.8 501.6h0M337.7 514.6h0M355.9 499.1h0M351.1 473.7h0M337.6 485.0h0M344.2 494.6h0M340.0 476.0h0M368.7 516.3h0M331.4 472.3h0M328.8 508.4h0M335.4 471.2h0M337.4 507.8h0M332.0 493.0h0M355.2 482.5h0M340.5 480.0h0M363.4 482.1h0M337.0 504.7h0M338.7 513.3h0M362.6 513.6h0M330.5 499.7h0M356.5 514.8h0" stroke="#3DBA5F"/>
<path d="M368.1 515.8h0M316.0 479.4h0M313.9 479.5h0M333.4 476.1h0M315.3 484.3h0M365.9 520.8h0M366.8 513.0h0M321.4 470.5h0M328.3 476.3h0M319.3 481.8h0M323.9 469.8h0M363.2 519.6h0M347.3 486.1h0M323.5 473.1h0M366.4 515.5h0M349.9 512.0h0M356.1 515.0h0M326.6 467.1h0M324.1 469.2h0M369.5 516.0h0M328.9 475.6h0M376.5 479.4h0M356.2 507.3h0M321.6 475.2h0M363.9 515.1h0M370.0 507.7h0M318.7 484.5h0M319.6 481.7h0M312.1 479.2h0M330.3 471.6h0M345.2 513.0h0M313.1 475.9h0M355.4 503.9h0M324.8 469.3h0M373.7 479.8h0M335.4 477.7h0M369.7 516.3h0M311.4 480.0h0M328.6 477.9h0M323.2 496.9h0M356.1 504.6h0M320.1 496.0h0M370.4 511.7h0M344.3 513.8h0M346.9 505.5h0M367.4 515.8h0M355.8 504.4h0M346.8 514.8h0M327.5 475.3h0M343.2 472.3h0M343.4 514.9h0M377.3 495.7h0M376.2 494.1h0M369.0 519.9h0M355.3 491.4h0M319.5 479.5h0M371.6 511.5h0M359.9 519.3h0M321.0 477.3h0M344.5 512.6h0M359.1 505.4h0M345.4 483.1h0M372.0 492.5h0M349.6 474.4h0M346.5 517.8h0M371.1 508.9h0M348.3 507.5h0M316.4 479.7h0M315.4 477.6h0M365.1 524.3h0M349.2 510.2h0M333.0 478.7h0M357.1 505.6h0M341.5 480.4h0M320.2 476.1h0M366.3 521.9h0M322.0 490.8h0M315.0 500.3h0M315.5 476.4h0M353.5 510.5h0M354.5 489.6h0M321.1 475.5h0M373.6 477.4h0M368.2 513.0h0M321.4 479.6h0M360.1 513.7h0M354.3 507.5h0M329.8 488.0h0M345.7 514.2h0M358.2 506.3h0M340.2 497.0h0M335.5 496.2h0M339.3 484.9h0M314.6 479.5h0M369.7 486.9h0M354.7 505.4h0M325.9 493.6h0M329.9 496.7h0M336.1 475.9h0M371.1 505.0h0M338.5 486.2h0M356.3 502.2h0M331.8 501.8h0M370.6 508.1h0M329.6 485.5h0M358.2 506.1h0M338.5 485.8h0M357.8 514.1h0M335.4 489.1h0M309.2 482.4h0M350.4 480.8h0M364.6 526.2h0M364.4 523.1h0M324.5 479.0h0M316.7 484.3h0M355.7 514.1h0M371.8 510.9h0M348.4 511.7h0M346.5 511.0h0M319.6 482.1h0M310.0 483.2h0M330.8 466.4h0M361.5 511.3h0M375.1 479.6h0M318.2 491.4h0M352.4 507.6h0M309.1 482.1h0M368.5 494.0h0M323.9 476.5h0M354.5 509.8h0M323.7 490.1h0M371.6 505.3h0M331.1 481.0h0M353.0 473.6h0M371.2 491.2h0M366.1 515.7h0M376.7 493.1h0M361.8 513.7h0M306.3 488.0h0M349.7 515.4h0M354.7 516.8h0M312.4 477.5h0M335.2 468.5h0M368.6 498.7h0M321.8 479.7h0M367.8 514.4h0M347.2 485.4h0M356.7 479.5h0M323.7 471.4h0M374.9 483.9h0M370.3 499.5h0M370.0 499.3h0M364.4 481.1h0M375.2 490.4h0M370.6 506.5h0M351.4 506.3h0M356.4 508.9h0M348.9 491.9h0M376.0 487.4h0M327.1 476.3h0M315.0 484.9h0M367.0 505.0h0M363.8 513.4h0M335.9 479.6h0M376.8 493.3h0M369.4 507.0h0M321.5 480.2h0M351.4 496.1h0M326.0 498.7h0M355.0 502.6h0M366.1 519.9h0M347.8 500.9h0M369.0 508.8h0M316.6 478.8h0M344.9 517.5h0M344.0 494.5h0M367.9 479.3h0M338.9 489.8h0M328.2 477.9h0M334.1 487.7h0M368.8 502.5h0M334.6 472.3h0M352.1 515.0h0M352.8 514.6h0M368.5 488.9h0M359.0 492.9h0M362.7 471.6h0M310.1 480.8h0M370.0 512.1h0M337.7 483.4h0M364.5 489.2h0M349.9 513.5h0M320.7 483.3h0M372.2 508.8h0M358.1 485.4h0M346.0 480.6h0M327.3 481.3h0M351.5 502.9h0M359.1 487.6h0M319.6 481.9h0M349.6 472.1h0M345.2 472.8h0M351.3 477.3h0M363.6 480.9h0M354.0 480.7h0M358.2 476.8h0M352.3 480.2h0M359.0 477.4h0M360.2 474.7h0M359.5 480.3h0M346.0 475.2h0M352.6 482.4h0M354.0 482.5h0M351.8 476.9h0M356.4 480.0h0M359.5 482.9h0M349.3 481.4h0M351.9 474.7h0M358.0 485.4h0M361.0 480.5h0M361.3 484.5h0M355.9 476.5h0M348.4 480.1h0M354.8 473.2h0M352.5 480.2h0M355.6 481.2h0M353.3 478.4h0M359.5 486.4h0M363.1 481.2h0M360.7 478.8h0M355.1 482.1h0M351.2 474.1h0M354.6 484.3h0M355.6 478.5h0M365.9 479.4h0M350.8 472.5h0M358.2 487.5h0M348.7 472.3h0M352.2 474.2h0M357.9 482.7h0M358.3 476.3h0M356.5 472.4h0M354.4 476.7h0M349.8 476.0h0M358.9 484.7h0M354.7 484.2h0M355.9 475.2h0M356.9 486.7h0M349.4 481.2h0M359.3 475.7h0M373.4 524.5h0M373.1 522.3h0M373.2 525.0h0M354.6 514.1h0M369.8 520.2h0M372.0 514.6h0M364.8 530.2h0M357.6 522.8h0M366.2 519.0h0M364.6 530.2h0M360.6 522.4h0M364.4 528.3h0M354.9 518.8h0M368.4 520.1h0M356.5 515.8h0M365.0 525.6h0M366.7 518.4h0M364.0 520.5h0M360.3 528.0h0M363.1 529.3h0M359.4 520.2h0M355.4 515.0h0M370.3 516.6h0M369.2 512.7h0M365.1 524.7h0M365.4 518.6h0M360.2 524.8h0M364.1 521.2h0M373.2 526.6h0M366.0 524.4h0M371.1 520.0h0M371.3 517.8h0M364.5 523.3h0M365.3 522.7h0M361.8 525.9h0M354.2 517.0h0M358.1 524.5h0M369.0 527.4h0M367.8 523.3h0M372.7 526.2h0" stroke="#22B02A"/>
<path d="M352.8 508.7h0M350.2 508.3h0M364.4 479.1h0M353.2 470.2h0M364.6 479.9h0M378.1 488.7h0M374.6 485.1h0M364.5 476.1h0M356.9 488.2h0M364.3 477.6h0M329.7 507.5h0M353.0 494.7h0M367.3 481.6h0M365.5 480.0h0M332.8 513.5h0M352.7 511.6h0M355.8 515.7h0M367.1 499.1h0M365.9 481.5h0M361.7 471.0h0M354.0 494.5h0M348.4 485.6h0M353.9 470.7h0M324.6 500.5h0M354.7 503.7h0M321.1 503.8h0M359.8 502.4h0M355.3 491.8h0M309.6 494.9h0M339.2 515.3h0M374.1 485.9h0M322.5 506.9h0M359.4 527.0h0M349.5 505.2h0M324.0 486.8h0M374.8 482.8h0M338.9 506.3h0M338.5 484.4h0M352.3 510.5h0M358.6 484.0h0M323.4 508.2h0M355.0 483.7h0M338.6 505.5h0M322.2 507.7h0M337.0 514.0h0M347.9 512.1h0M360.0 486.0h0M344.0 500.2h0M367.7 508.7h0M340.2 483.9h0M322.0 483.3h0M323.2 473.1h0M345.8 487.5h0M323.0 480.1h0M365.9 478.1h0M354.1 472.5h0M336.6 484.6h0M354.7 512.1h0M325.0 508.2h0M341.2 508.4h0M321.1 475.9h0M324.9 476.8h0M361.5 476.3h0M316.8 503.8h0M341.9 478.4h0M343.4 507.3h0M344.8 478.1h0M351.1 509.8h0M362.1 476.5h0M362.4 523.2h0" stroke="#3DBA5F"/>
<path d="M376.2 482.7h0M374.9 485.1h0M379.1 476.9h0M374.0 512.5h0M374.0 499.9h0M385.1 482.8h0M376.4 504.7h0M379.9 517.0h0M389.8 512.2h0M385.6 508.3h0M376.2 489.7h0M386.9 505.2h0M383.5 479.7h0M380.9 486.2h0M377.6 491.3h0M377.7 505.5h0M390.1 517.9h0M391.2 507.0h0M386.7 520.6h0M395.4 493.0h0M382.6 515.4h0M374.9 484.6h0M380.2 484.9h0M377.2 490.1h0M387.6 477.5h0M378.1 494.0h0M372.4 501.7h0M391.0 489.8h0M381.5 490.4h0M389.3 478.5h0M390.7 504.9h0M377.5 500.7h0M385.3 493.7h0M390.0 486.7h0M383.0 503.0h0M372.5 504.7h0M382.7 514.3h0M395.2 491.2h0M388.4 480.1h0M385.7 489.9h0M395.3 495.6h0M384.2 489.7h0M395.0 500.9h0M384.4 503.8h0M391.2 510.2h0M383.0 495.2h0M383.7 487.7h0M389.0 489.6h0M374.7 483.7h0M377.6 491.3h0M392.7 506.3h0M390.0 492.8h0M379.6 488.8h0M381.7 481.9h0M384.8 488.2h0M378.8 499.1h0M381.4 496.5h0M384.1 505.0h0M385.2 485.0h0M381.0 500.3h0M388.2 519.6h0M387.6 517.0h0M382.9 485.9h0M378.4 484.8h0M388.0 496.8h0M379.5 513.4h0M382.2 488.0h0M373.1 504.9h0M384.5 502.6h0M388.6 512.2h0M371.6 503.3h0M392.2 502.7h0M388.6 505.0h0M385.2 516.0h0M371.8 495.6h0M384.0 517.5h0M380.6 481.4h0M384.5 486.5h0M385.5 506.5h0M395.9 501.7h0M388.1 512.7h0M378.2 493.3h0M388.2 490.7h0M391.7 485.5h0M375.4 488.5h0M393.1 506.8h0M385.3 499.8h0M391.9 491.9h0M389.9 499.8h0M377.9 503.4h0M378.6 511.5h0M377.9 506.9h0M393.0 501.3h0M376.8 489.2h0M382.2 475.3h0M374.7 494.5h0M376.9 481.1h0M388.1 485.3h0M391.1 504.7h0M386.2 504.8h0M386.5 505.4h0M375.7 488.3h0M387.9 485.2h0M394.4 502.9h0M376.3 501.2h0M388.1 492.6h0M394.2 507.7h0M394.9 492.8h0M389.8 502.0h0M375.4 485.7h0M376.7 485.2h0M385.7 476.4h0M375.0 493.3h0M375.2 498.6h0M380.5 490.2h0M395.6 502.6h0M372.2 498.9h0M385.8 489.7h0M388.7 487.7h0M375.0 500.2h0M373.7 510.2h0M385.0 515.2h0M377.1 501.6h0M393.2 508.1h0M383.7 492.5h0M374.7 499.3h0M381.4 489.6h0M393.1 490.2h0M391.6 516.6h0M373.0 495.2h0M380.8 483.9h0M381.4 499.3h0M388.4 481.5h0M392.4 507.0h0M383.3 488.4h0M390.0 483.2h0M379.2 513.8h0M383.1 477.1h0M387.0 487.6h0M371.9 492.8h0M384.0 488.7h0M391.5 515.8h0M388.1 499.3h0M393.2 502.5h0M390.0 501.3h0M389.2 493.4h0M376.8 503.3h0M383.9 495.0h0M381.1 501.0h0M395.4 493.5h0M389.5 487.3h0M393.7 491.0h0M387.5 512.1h0M378.8 498.4h0M375.7 485.1h0M392.1 507.1h0M383.9 476.6h0M388.2 480.8h0M391.6 510.6h0M378.8 487.7h0M386.6 511.7h0M392.0 509.1h0M371.4 495.0h0M382.7 511.9h0M389.8 517.8h0M373.0 504.8h0M395.2 501.8h0M387.5 483.5h0M383.8 516.6h0M389.0 497.6h0M371.3 497.7h0M383.6 495.6h0M389.5 509.9h0M382.1 510.2h0M373.6 492.2h0M375.6 483.7h0M386.2 508.2h0M392.2 507.4h0M388.8 495.4h0M379.9 513.9h0M388.8 518.0h0M384.7 518.4h0M392.8 514.6h0M377.0 508.7h0M375.8 508.3h0M381.8 515.3h0M379.7 495.3h0M373.9 510.1h0M375.8 509.3h0M393.5 498.8h0M390.3 504.9h0M391.6 492.8h0M382.5 519.2h0M376.0 503.9h0M384.2 510.7h0M389.9 510.6h0M375.9 506.7h0M376.6 511.1h0M382.0 507.9h0M376.7 496.5h0M392.9 502.3h0M376.3 503.4h0M389.4 517.6h0M388.1 496.1h0M386.6 476.8h0M387.9 518.4h0M381.8 482.7h0M377.9 489.3h0M376.9 513.2h0M388.2 489.1h0M388.1 512.7h0M381.0 488.6h0M386.1 501.3h0M381.1 517.3h0M376.9 479.7h0M385.3 507.0h0M378.9 482.5h0M383.1 502.3h0M375.0 493.4h0M376.8 499.9h0M374.8 492.1h0M380.8 491.9h0M372.4 500.7h0M390.6 513.0h0M386.7 497.6h0M385.3 518.8h0M374.8 494.2h0M386.5 486.7h0M372.3 491.3h0M391.1 496.0h0" stroke="#3DBA5F"/>
<path d="M340.7 472.0h0M357.9 472.9h0M352.5 506.5h0M338.6 471.7h0M341.9 471.9h0M334.2 466.9h0M339.9 477.0h0M359.6 472.7h0M344.4 471.8h0M335.2 469.1h0M334.1 468.9h0M342.0 481.8h0M317.8 494.5h0M337.5 479.7h0M339.1 469.0h0M341.6 479.1h0M328.5 510.5h0M354.3 474.3h0M342.1 482.9h0M359.9 472.7h0M361.1 477.8h0M356.9 473.8h0M375.5 493.3h0M320.0 491.0h0M335.7 498.0h0M364.3 503.5h0" stroke="#D073D3"/>
<path d="M354.6 474.8h0M353.5 476.6h0M358.3 473.9h0M354.0 480.1h0M322.3 479.7h0M322.8 483.3h0M359.4 472.4h0M329.5 492.9h0M352.2 478.6h0M327.7 471.2h0M330.5 509.3h0M342.5 477.4h0M355.1 488.5h0M330.6 489.1h0M353.0 519.1h0M319.4 481.8h0M324.5 505.4h0M376.0 498.3h0M324.8 480.0h0M313.2 476.1h0M325.8 478.5h0M357.9 478.3h0M375.7 500.7h0M313.9 478.0h0M319.9 501.7h0M323.6 492.5h0M363.4 503.2h0M371.7 508.7h0M312.4 476.5h0M328.8 493.8h0M328.9 508.2h0M338.4 487.0h0M375.8 496.5h0M357.3 472.1h0M392.1 513.3h0M295.3 471.0h0M296.2 458.5h0M299.8 479.7h0M304.6 487.3h0M303.8 493.8h0" stroke="#B887DE"/>
<path d="M305.9 485.0h0M309.0 486.8h0M347.3 483.3h0M348.5 483.1h0M327.8 476.3h0M364.0 487.5h0M348.6 513.3h0M335.9 477.1h0M362.2 508.3h0M332.4 489.7h0M367.5 533.9h0M355.4 518.3h0M317.9 506.2h0M301.8 482.5h0" stroke="#8F97DB"/>
<path d="M346.4 498.0h0M345.5 472.4h0M296.2 445.6h0M323.0 463.9h0" stroke="#E8832B"/>
<path d="M306.9 429.5h0M310.3 428.4h0M314.5 427.0h0M320.1 425.3h0M323.2 425.0h0M315.9 432.9h0M320.1 435.7h0M279.8 462.8h0M278.7 464.8h0M283.8 256.4h0M287.2 265.9h0M299.4 293.0h0M304.8 328.5h0" stroke="#5CCBA4"/>
<path d="M247.6 431.5h0M256.7 439.4h0M260.1 440.2h0M287.7 434.3h0M296.2 427.2h0M298.4 433.2h0M304.6 448.7h0M249.6 468.4h0M259.5 467.6h0M253.9 469.0h0M293.0 283.1h0" stroke="#E861A5"/>
<path d="M361.0 407.8h0M350.3 412.6h0M347.5 416.0h0" stroke="#F67F7A"/>
<path d="M265.1 445.0h0M256.1 438.5h0M306.0 431.7h0" stroke="#A5A72A"/>
<path d="M270.2 429.5h0M282.6 428.1h0M285.4 432.3h0M297.6 465.3h0" stroke="#22B02A"/>
<path d="M320.7 459.4h0M325.8 458.8h0M295.6 470.7h0" stroke="#D073D3"/>
<path d="M253.3 474.6h0M296.2 459.1h0" stroke="#5BC5DC"/></g>
<g transform="scale(1.3,1)"><g fill="none" stroke-linecap="round" stroke-width="3.9"><path d="M306.9 941.7h0M306.1 895.4h0M296.4 964.6h0M314.3 942.8h0M342.0 877.3h0M229.5 948.5h0M271.7 859.9h0M247.6 844.4h0M306.1 934.4h0M314.6 1003.6h0M320.6 950.2h0M314.8 934.3h0M255.3 764.5h0M206.4 1019.8h0M281.5 863.9h0M233.4 946.6h0M296.6 958.0h0M319.8 938.9h0M315.2 934.4h0M226.0 935.3h0M313.1 1027.4h0M315.9 936.8h0M246.4 998.0h0M304.5 936.9h0M313.2 949.8h0M236.5 932.1h0M319.9 940.0h0M317.0 946.0h0M300.4 1045.9h0M234.1 812.7h0M303.9 942.2h0M231.4 942.8h0M321.5 939.6h0M185.7 777.1h0M198.0 783.0h0M249.8 993.3h0M308.4 950.9h0M257.1 788.1h0M283.0 985.8h0M250.3 997.7h0M317.8 940.2h0M243.8 834.3h0M316.1 934.9h0M250.6 1008.8h0M247.0 997.9h0M315.8 946.5h0M236.7 1006.1h0M314.8 945.1h0M234.5 836.9h0M237.7 835.2h0M269.9 870.8h0M288.9 1056.9h0M312.3 929.0h0M223.3 939.8h0M228.9 938.6h0M304.2 934.0h0M317.1 925.6h0M226.2 948.4h0M222.3 937.1h0M228.3 941.3h0" stroke="#7DB61C"/>
<path d="M204.9 860.5h0M124.6 784.8h0M209.6 853.5h0M189.8 803.3h0M159.6 934.7h0M187.1 859.0h0M201.8 931.3h0M203.4 999.2h0M253.8 993.0h0M211.3 854.8h0M211.3 1031.6h0M213.2 857.9h0M220.5 870.0h0M203.9 884.4h0M268.8 859.6h0M257.7 787.2h0M118.3 860.8h0M234.7 768.4h0M194.4 1010.7h0M105.3 816.0h0M214.9 852.3h0M212.5 858.6h0M196.1 865.4h0M298.9 894.2h0M200.7 883.4h0M160.0 900.0h0M127.5 926.6h0M208.8 865.8h0M217.5 892.3h0M212.6 861.4h0M296.2 919.0h0M206.3 904.1h0M265.3 917.3h0M207.3 902.5h0M285.5 1008.2h0M218.3 883.2h0M161.3 802.7h0" stroke="#5CB4E0"/>
<path d="M171.0 867.4h0M177.4 883.5h0M167.9 889.1h0M171.9 868.9h0M178.5 871.4h0M207.3 987.8h0M212.8 991.7h0M176.0 868.5h0M209.8 988.2h0M219.0 983.6h0M159.8 818.3h0M269.2 819.8h0M185.3 904.6h0M188.9 898.0h0M211.9 984.3h0M203.4 990.8h0M139.7 879.1h0M212.3 980.1h0M183.2 897.3h0M209.8 987.7h0M209.1 977.8h0M316.3 1009.5h0M201.7 985.2h0M197.0 985.9h0M190.9 886.2h0M198.0 982.3h0M189.1 872.3h0M165.1 814.0h0M212.0 993.0h0M208.8 978.9h0M227.6 857.7h0M179.0 869.7h0M199.4 968.9h0M213.9 977.3h0M177.4 903.6h0M199.5 983.8h0M209.2 865.7h0M193.1 877.4h0M192.4 898.8h0M216.3 991.5h0M192.5 867.4h0M204.8 970.2h0M207.6 991.0h0M179.1 886.0h0M187.5 865.5h0M213.7 979.3h0M178.6 876.7h0M207.3 968.0h0M201.3 968.8h0M220.3 987.4h0M194.0 899.6h0M168.0 812.2h0M176.2 869.0h0M121.8 885.9h0M196.3 897.0h0M213.7 980.9h0M199.3 974.2h0M214.1 995.6h0M192.8 863.1h0M188.2 888.0h0M197.7 984.9h0M206.2 989.1h0M193.3 877.8h0M187.1 891.9h0M194.7 893.2h0M226.7 943.4h0M186.0 896.4h0M172.5 864.7h0M208.7 970.0h0M199.8 995.2h0M187.2 885.1h0M309.5 914.9h0M200.3 882.1h0M205.0 971.9h0M209.4 970.3h0M298.7 965.9h0M188.0 862.7h0M196.5 874.2h0M173.9 886.7h0M224.3 994.7h0M201.7 973.9h0M204.0 984.6h0M198.9 971.7h0M172.1 893.5h0M185.4 890.0h0M201.8 985.8h0M342.7 900.5h0M174.0 865.0h0M184.5 890.6h0M192.8 975.3h0M211.0 982.8h0M258.4 785.1h0M212.4 982.4h0M214.4 989.8h0M176.1 878.9h0M181.1 897.8h0M198.3 977.5h0M196.2 976.4h0M184.5 895.7h0M207.1 978.2h0M192.4 871.5h0M224.9 994.1h0M187.3 893.0h0M188.5 900.5h0M197.8 877.6h0M212.7 979.9h0M221.2 991.4h0M176.9 898.0h0M199.4 877.2h0M212.8 992.0h0M171.4 977.9h0M186.9 898.8h0M184.8 998.0h0M170.6 940.0h0M212.3 995.0h0M178.0 878.0h0M169.0 815.9h0M161.5 816.2h0M217.8 986.2h0" stroke="#8F97DB"/>
<path d="M221.8 724.7h0M225.0 721.9h0M261.1 759.1h0M263.6 772.8h0M260.4 754.9h0M197.6 718.7h0M263.7 772.6h0M250.4 731.5h0M268.0 778.9h0M261.1 742.4h0M253.3 730.2h0M203.2 721.4h0M251.9 740.2h0M274.1 766.7h0M205.2 723.7h0M192.4 827.4h0M257.7 753.9h0M250.3 720.2h0M292.4 724.3h0M267.4 762.4h0M272.0 768.1h0M256.3 755.5h0M254.5 759.8h0M273.9 763.6h0M259.7 740.0h0M249.8 750.0h0M251.4 737.5h0M191.3 836.9h0M223.8 727.4h0M189.0 722.9h0M258.9 721.2h0M255.5 741.6h0M264.6 747.1h0M204.2 715.3h0M254.5 760.5h0M275.8 787.2h0M280.7 721.4h0M273.1 767.6h0M291.2 734.3h0M265.7 747.7h0M259.8 761.3h0M211.3 726.7h0M271.2 768.4h0M269.4 779.5h0M253.7 740.8h0M253.6 751.9h0M190.9 723.7h0M198.4 736.7h0M196.1 718.8h0M253.7 739.9h0M221.8 719.6h0M187.8 728.5h0M276.7 788.2h0M249.9 721.8h0M262.8 763.8h0M288.6 722.3h0M281.5 729.2h0M285.3 731.9h0M214.9 737.6h0M260.3 752.8h0M284.3 724.8h0M267.4 721.7h0M282.8 732.8h0M189.5 720.6h0M219.6 726.1h0M229.8 731.2h0M225.4 727.6h0M262.7 745.7h0M290.0 721.4h0M189.9 728.3h0M267.8 725.0h0M266.0 777.0h0M262.0 748.9h0M261.5 766.5h0M264.3 727.9h0M259.8 746.0h0M203.4 727.3h0M215.3 736.4h0M189.4 730.6h0M188.2 724.6h0M276.1 786.1h0M257.8 764.8h0M252.6 721.3h0M216.7 737.9h0M269.1 716.8h0M268.4 761.0h0M191.8 726.5h0M220.6 725.0h0M197.8 723.1h0M273.3 769.0h0M279.2 725.0h0M267.5 761.9h0M208.2 720.7h0M264.8 772.7h0M271.0 722.3h0M254.2 721.0h0M191.8 732.6h0M253.6 738.0h0M275.0 766.8h0M199.7 716.7h0M218.6 740.3h0M200.4 714.4h0M293.3 730.2h0M284.8 732.6h0M266.6 722.3h0M249.6 749.9h0M273.1 760.5h0M187.5 730.4h0M266.9 746.4h0M260.8 727.2h0M276.4 771.1h0M260.9 757.2h0M287.5 732.3h0M207.6 718.7h0M263.6 761.3h0M200.2 721.2h0M253.6 735.2h0M257.6 753.0h0M263.0 766.1h0M251.6 745.4h0M247.1 720.9h0M192.3 735.9h0M254.5 761.8h0M261.8 764.2h0M205.6 737.7h0M193.6 732.0h0M256.0 756.2h0M266.0 772.9h0M266.7 755.3h0M255.8 760.1h0M221.1 733.2h0M252.1 752.7h0M258.3 732.6h0M201.0 738.4h0M203.5 721.6h0M196.9 735.8h0M275.6 723.4h0M95.7 860.5h0M213.8 739.7h0M258.7 761.5h0M274.6 723.1h0M211.3 721.1h0M264.6 764.5h0M200.3 737.2h0M208.5 734.6h0M269.1 723.1h0M197.7 720.7h0M201.9 716.6h0M260.2 740.1h0M265.3 770.0h0M277.5 719.4h0M198.6 718.9h0M253.4 729.7h0M253.0 750.3h0M213.3 725.0h0M188.0 732.1h0M277.5 728.4h0M226.2 727.0h0M279.0 778.7h0M206.1 719.3h0M195.8 722.6h0M274.7 765.1h0M216.8 732.4h0M276.6 725.0h0M272.2 764.5h0M195.0 718.5h0M251.5 739.0h0M269.3 719.2h0M273.3 761.9h0M261.4 748.7h0M259.6 728.4h0M216.9 727.9h0M227.7 723.6h0M271.5 788.0h0M226.3 735.3h0M272.1 777.7h0M287.6 730.3h0" stroke="#BF9B20"/>
<path d="M328.3 1032.8h0M322.0 1029.8h0M328.0 1027.0h0M322.7 1023.9h0M319.0 1026.9h0M334.5 1043.0h0M333.0 1031.8h0M332.3 1040.6h0M332.6 1030.0h0M336.6 1037.7h0M335.5 1041.3h0M331.2 1042.8h0M327.2 1041.4h0M331.7 1046.3h0M333.9 1037.3h0M333.1 1043.3h0M331.9 1036.5h0M326.6 1030.7h0M321.5 1028.7h0M325.5 1035.4h0M327.3 1037.4h0M321.3 1026.5h0M329.6 1043.1h0M329.2 1034.5h0M331.4 1040.9h0M329.5 1042.4h0" stroke="#DC9018"/>
<path d="M260.4 1016.3h0M263.9 958.8h0M272.5 988.3h0M300.4 952.9h0M275.6 1030.2h0M241.8 1010.4h0M292.6 911.5h0M206.8 909.9h0M235.0 839.9h0M233.8 834.8h0M238.4 897.7h0M332.2 866.2h0M270.5 935.2h0M279.0 920.4h0M238.6 852.7h0M275.2 918.4h0M264.5 1044.3h0M298.0 973.2h0" stroke="#DC68B7"/>
<path d="M299.4 932.9h0M293.3 1055.9h0M313.5 1046.2h0M355.7 903.7h0M309.7 1055.2h0M283.1 1053.9h0M293.4 922.5h0M256.3 1041.1h0M290.4 1038.3h0M280.0 1053.8h0M275.8 1041.0h0M308.7 1050.4h0M279.8 1036.8h0M277.1 1047.7h0M288.2 1038.4h0M280.5 1041.9h0M168.5 843.2h0M296.4 1050.6h0M300.7 1034.6h0M308.0 1048.9h0M254.6 1062.2h0M244.7 1056.2h0M263.2 1049.6h0M279.3 1046.4h0M267.3 1026.7h0M307.6 1037.4h0M290.8 1034.4h0M289.3 1042.6h0M308.8 1051.8h0M318.6 1040.5h0M252.5 1036.9h0M313.5 1048.7h0M314.0 1053.6h0M264.8 1048.0h0M302.2 1036.2h0M307.3 1046.2h0M245.9 887.3h0M259.3 1053.1h0M313.0 1009.0h0M303.6 1044.8h0M263.9 1054.6h0M297.4 1057.7h0M241.4 1044.0h0M271.6 865.3h0M296.0 1047.9h0M128.9 945.1h0M259.0 1049.9h0M294.8 1011.1h0M279.2 1049.0h0M306.4 1039.9h0M258.0 1046.3h0M290.9 1034.7h0M282.7 1039.3h0M311.1 1046.3h0M155.7 840.0h0M303.0 1041.7h0M166.7 905.5h0M222.5 858.6h0M274.9 1039.0h0M282.7 1038.1h0M313.1 1040.8h0M248.0 833.4h0M255.3 1049.4h0M277.0 1041.6h0M248.3 1051.8h0M312.3 1056.8h0M309.9 1055.4h0M283.0 1050.6h0M296.8 1035.2h0M317.9 1046.9h0M305.6 1053.2h0M317.5 1053.5h0M255.9 1051.0h0M252.0 1043.5h0M294.9 1051.1h0M287.7 1046.8h0M313.5 1036.6h0M259.6 1057.3h0M280.0 1046.5h0M317.0 1047.0h0M316.9 1044.3h0M304.0 1049.6h0M256.6 1039.0h0M256.3 995.0h0M280.6 1043.7h0M296.2 1049.7h0M254.7 934.5h0M296.7 1018.9h0M330.8 982.8h0M256.9 1052.4h0M279.6 1048.7h0M307.0 1037.4h0M280.0 1052.8h0M256.5 1052.9h0M267.3 1023.6h0M257.3 1040.7h0M293.4 1050.3h0M282.8 1054.6h0M286.7 1047.8h0M234.6 850.4h0M148.2 917.3h0M280.1 1050.5h0M283.2 1044.0h0M256.3 1039.2h0M312.8 1056.1h0M271.1 1046.2h0M276.0 1051.3h0M280.3 1040.4h0M294.5 1034.6h0M305.7 1054.2h0M248.0 1050.2h0M311.0 1051.0h0M273.4 1046.5h0M251.4 1056.3h0M301.5 1053.8h0M287.2 1054.2h0M318.4 1043.8h0M279.2 1049.1h0M292.6 1051.8h0M110.9 1002.5h0M339.7 875.9h0M281.6 1050.3h0M277.2 1045.1h0M153.8 890.4h0M251.2 1059.1h0M290.6 1051.2h0M303.1 1048.6h0" stroke="#4EC7C4"/>
<path d="M176.8 857.0h0M211.9 850.6h0M204.9 895.4h0M151.8 781.9h0M230.2 947.7h0M133.8 869.8h0M177.8 830.0h0M216.0 865.4h0M148.3 787.3h0M211.0 861.5h0M218.8 897.8h0M248.2 884.7h0M186.2 828.9h0M191.5 769.8h0M147.8 786.4h0M91.6 867.3h0M195.1 836.0h0M208.0 847.8h0M132.2 868.5h0M202.1 903.2h0M201.3 840.9h0M180.9 849.3h0M201.3 843.3h0M185.2 842.8h0M195.2 866.2h0M255.7 815.7h0M234.7 952.8h0M142.8 786.2h0M209.4 846.8h0M235.9 1007.4h0M211.6 883.7h0M142.1 783.4h0M149.9 784.9h0M200.0 873.9h0M130.6 860.2h0M214.9 881.0h0M208.1 863.5h0M143.2 780.4h0M247.5 903.6h0M208.6 878.3h0M144.1 787.0h0M202.2 857.8h0M186.6 806.1h0M221.0 882.6h0M162.1 879.0h0M147.4 784.5h0M206.0 877.2h0M165.7 888.1h0M164.7 924.0h0M198.4 879.5h0M148.4 786.8h0M221.1 864.7h0M198.6 932.9h0M254.9 817.5h0M159.3 926.1h0M203.5 880.9h0M214.2 904.3h0M193.8 761.6h0M185.2 847.0h0M144.6 785.7h0M180.8 831.3h0M214.1 894.3h0M211.8 880.3h0M208.4 897.0h0M108.0 840.9h0M256.7 848.1h0M198.6 856.7h0M206.6 872.4h0M213.9 902.8h0M148.1 784.9h0M150.7 784.0h0M208.4 874.5h0M153.3 788.2h0M225.4 756.2h0M214.9 897.9h0M183.6 833.7h0M146.3 788.0h0M259.1 774.9h0M248.6 947.2h0M143.4 783.3h0M201.1 839.0h0M139.9 781.1h0M168.0 830.3h0" stroke="#5F9FD8"/>
<path d="M348.2 911.0h0M281.8 951.6h0M263.9 940.1h0M270.6 923.3h0M263.8 921.5h0M250.2 989.9h0M222.9 791.7h0M277.3 957.6h0M207.4 848.2h0M154.3 1019.8h0M171.7 875.8h0M264.4 930.3h0M257.0 935.6h0M262.7 953.7h0M251.1 947.5h0M271.1 937.1h0M263.7 947.3h0M285.7 957.5h0M279.9 958.0h0M353.1 921.1h0M252.6 944.2h0M273.3 955.5h0M258.0 935.4h0M284.6 967.6h0M221.4 799.4h0M250.5 938.8h0M285.6 955.9h0M274.3 965.3h0M286.9 956.7h0M264.7 932.5h0M258.1 960.6h0M248.6 922.4h0M271.1 958.5h0M259.0 916.3h0M267.5 944.3h0M268.5 964.6h0M265.5 935.9h0M268.0 924.0h0M261.8 962.2h0M282.3 943.2h0M226.1 798.5h0M275.6 941.2h0M268.0 964.1h0M266.8 925.9h0M274.3 963.2h0M256.8 935.3h0M140.9 880.2h0M267.0 920.9h0M260.4 931.5h0M351.2 912.5h0M270.3 967.7h0M334.4 919.8h0M257.6 950.2h0M354.9 921.2h0M269.0 940.1h0M349.3 914.2h0M116.0 850.5h0M269.5 955.6h0M258.6 919.9h0M261.8 916.1h0M221.6 800.9h0M255.1 943.8h0M280.0 891.4h0M253.4 938.4h0M264.4 949.8h0M263.9 946.8h0M259.0 955.3h0M263.5 948.3h0M261.5 946.9h0M353.8 919.4h0M353.6 921.9h0M274.3 928.5h0M260.4 945.6h0M225.4 798.7h0M275.9 955.8h0M256.2 937.0h0M159.1 844.3h0M260.5 931.8h0M284.1 959.6h0M347.0 906.7h0M296.0 958.9h0M259.6 956.1h0M251.9 944.5h0M248.5 925.3h0M219.2 789.7h0M278.1 972.3h0M273.1 926.3h0M259.8 955.8h0M277.1 951.5h0M353.6 917.8h0M280.3 940.9h0M289.3 838.2h0M252.6 945.9h0M264.2 938.7h0M223.5 789.9h0M254.1 946.2h0M259.4 921.1h0M267.1 954.2h0M277.2 960.8h0M275.2 954.1h0M254.5 937.0h0M266.4 921.4h0M273.1 954.3h0M272.8 957.6h0M281.7 954.7h0M267.3 922.3h0M281.5 957.6h0M274.5 975.4h0M284.8 962.1h0M269.2 874.3h0M273.8 966.7h0M232.6 1051.5h0M273.4 937.2h0M279.2 959.0h0M265.3 934.1h0M251.8 941.8h0M259.5 949.2h0M262.0 950.3h0M352.8 919.5h0M281.3 969.6h0M250.5 924.8h0M354.0 916.1h0M269.5 958.5h0M266.6 946.9h0M269.9 956.9h0M280.0 954.9h0M261.6 947.9h0M269.6 931.4h0M265.4 955.9h0M255.1 935.1h0M256.0 943.8h0M262.1 882.5h0M347.7 909.3h0M268.0 966.9h0M288.5 1002.9h0M348.5 911.6h0M260.1 963.8h0M280.4 953.2h0M255.0 921.2h0M281.2 953.3h0M272.5 942.0h0" stroke="#22B02A"/>
<path d="M124.7 980.2h0M137.6 973.1h0M132.7 997.6h0M314.4 809.5h0M151.4 995.7h0M319.5 819.3h0M130.8 1010.1h0M144.0 1006.8h0M321.1 829.5h0M329.0 823.5h0M374.3 914.3h0M126.1 981.8h0M285.2 845.9h0M141.0 990.6h0M117.8 966.8h0M117.6 988.2h0M131.1 998.2h0M108.3 966.4h0M277.0 1017.9h0M117.3 966.9h0M243.7 905.0h0M143.0 985.8h0M139.8 1012.5h0M150.0 1004.6h0M127.9 994.5h0M133.4 992.5h0M149.1 964.0h0M386.6 872.9h0M129.0 964.7h0M144.2 999.7h0M253.9 781.5h0M138.2 1000.1h0M157.5 815.8h0M146.7 992.1h0M124.5 1002.8h0M128.0 1000.2h0M229.9 1043.3h0M308.8 813.2h0M329.1 829.2h0M277.4 897.0h0M128.8 979.6h0M117.0 1000.9h0M135.7 963.2h0M147.5 995.7h0M118.1 986.4h0M122.7 980.3h0M112.0 970.2h0M384.2 862.2h0M131.9 1000.0h0M327.1 836.0h0M330.0 833.3h0M137.4 984.3h0M311.9 967.9h0M112.8 987.6h0M387.0 861.1h0M152.6 1001.3h0M123.5 992.3h0M122.9 982.5h0M135.1 963.3h0M112.0 988.4h0M117.3 967.9h0M119.9 960.5h0M277.2 757.5h0M117.1 971.5h0M334.7 837.6h0M384.0 856.5h0M128.3 1010.1h0M136.8 966.4h0M147.3 994.2h0M227.5 965.6h0M130.1 959.4h0M166.7 989.1h0M139.3 1016.9h0M121.6 991.4h0M193.8 857.9h0M132.3 965.1h0M387.1 860.2h0M139.3 1005.0h0M329.3 809.5h0M140.4 1012.0h0M141.5 1018.2h0M147.4 1015.6h0M173.1 925.0h0M327.4 839.8h0M110.9 973.1h0M163.8 912.3h0M122.6 964.1h0M376.4 857.0h0M132.4 1011.7h0M328.3 838.2h0M123.0 1000.1h0M145.6 1012.9h0M382.5 867.0h0M116.7 1002.0h0M115.8 996.5h0M141.8 996.0h0M268.6 1010.0h0M147.3 1014.0h0M309.8 815.9h0M128.1 961.4h0M132.7 961.9h0M116.8 965.6h0M137.0 1016.6h0M115.1 970.1h0M112.4 959.2h0M148.6 793.2h0M121.4 999.4h0M130.0 1009.7h0M115.3 975.2h0M115.4 989.5h0M333.9 832.8h0M227.1 944.9h0M118.1 973.9h0M275.3 966.5h0M114.7 994.2h0M126.1 979.6h0M127.3 992.0h0M137.3 1013.0h0M330.0 819.0h0M132.1 1001.8h0M331.4 837.7h0M274.6 1017.7h0M272.2 1011.9h0M126.3 960.2h0M124.9 997.1h0M128.1 960.4h0M120.2 972.6h0M117.3 969.4h0M155.5 988.7h0M152.3 996.5h0M150.0 992.0h0M151.5 987.9h0M141.8 1018.8h0M232.8 856.9h0M147.5 906.3h0M118.8 987.0h0M148.3 1004.4h0M127.2 1011.4h0M277.7 1019.1h0M117.5 994.7h0M383.3 865.2h0M386.8 860.8h0M140.1 983.9h0M295.7 953.9h0M305.7 808.0h0M321.4 815.3h0M320.4 825.5h0M145.2 1015.5h0M134.0 843.8h0M117.1 1001.5h0M136.6 982.1h0M141.1 1012.2h0M130.5 1011.2h0M217.2 761.8h0M384.2 868.3h0M124.5 985.7h0M140.8 992.1h0M309.1 820.2h0M308.8 808.8h0M133.7 965.6h0M129.0 968.4h0M283.7 763.0h0M327.6 833.6h0M110.6 978.1h0M318.0 808.0h0M124.5 967.4h0M121.9 980.0h0M275.0 1015.5h0M129.5 972.2h0M148.4 1003.6h0M123.5 1001.6h0M147.7 991.4h0M305.7 854.1h0M247.9 913.1h0M125.2 967.6h0M376.7 854.6h0M152.1 994.5h0M112.0 987.0h0M124.4 968.6h0" stroke="#5CCBA4"/>
<path d="M235.8 894.9h0M268.4 905.7h0M338.7 925.0h0M262.0 910.1h0M267.7 911.1h0M264.6 1040.6h0M208.8 1030.4h0M296.6 873.5h0M327.6 925.3h0M341.9 938.0h0M293.0 948.4h0M296.2 929.2h0M298.5 908.7h0M307.1 910.8h0M300.3 939.9h0M284.3 911.5h0M279.1 851.9h0M253.7 869.0h0M329.5 938.0h0M198.3 993.5h0M272.8 850.1h0M267.5 962.7h0M336.6 947.7h0M302.3 915.9h0M338.0 933.8h0M298.9 900.8h0M270.2 877.4h0M251.6 937.8h0M310.2 912.4h0M235.7 953.2h0M292.0 904.8h0M309.6 842.4h0M326.1 933.2h0M177.3 907.8h0M298.6 931.4h0M279.3 845.8h0M311.4 997.4h0M303.8 1025.3h0M239.7 962.7h0M337.8 948.6h0M329.5 1006.0h0M272.6 837.9h0M340.8 941.9h0M266.1 911.7h0M299.4 927.0h0M303.5 929.4h0M256.1 832.6h0M293.5 924.0h0M253.5 819.4h0M256.4 1014.0h0M341.2 939.0h0M298.3 1016.6h0M330.7 937.6h0M336.6 935.8h0M303.8 913.2h0M329.6 945.3h0M328.9 925.4h0M299.0 900.7h0M264.9 913.3h0M284.7 1039.0h0M273.5 844.0h0M341.1 928.4h0M303.4 928.0h0M324.2 925.9h0M320.5 1023.2h0M267.0 1039.9h0M304.3 927.6h0M317.3 945.6h0M296.7 948.2h0M308.7 908.6h0M228.4 898.9h0M333.9 1024.5h0M334.9 948.6h0M255.3 800.2h0M339.3 942.3h0M314.8 921.1h0M281.1 849.8h0M234.7 1006.8h0" stroke="#E8832B"/>
<path d="M153.2 881.2h0M206.9 933.2h0M142.8 876.1h0M218.8 1012.5h0M175.9 942.8h0M230.8 1024.3h0M175.2 935.1h0M160.2 862.2h0M201.8 786.4h0M142.9 849.8h0M155.7 866.9h0M234.0 1019.5h0M203.0 964.5h0M184.5 969.2h0M290.6 1008.1h0M154.2 910.2h0M210.2 944.7h0M229.8 1024.2h0M184.7 935.9h0M179.8 920.8h0M162.5 867.8h0M165.3 853.9h0M139.3 878.7h0M237.8 1016.7h0M185.7 942.1h0M145.7 897.7h0M182.4 958.4h0M184.3 940.4h0M153.7 927.1h0M145.8 902.6h0M248.2 824.9h0M203.1 919.1h0M193.2 940.0h0M142.9 916.2h0M174.3 941.6h0M232.2 1022.3h0M187.8 950.4h0M252.7 773.9h0M154.2 886.6h0M155.8 886.5h0M323.3 938.9h0M201.8 1001.6h0M178.7 938.5h0M198.5 933.7h0M318.2 979.2h0M241.0 968.7h0M162.3 918.1h0M228.5 1020.3h0M194.3 951.8h0M232.9 1025.8h0M161.9 915.4h0M143.0 844.4h0M223.3 1014.0h0M116.8 879.2h0M188.8 915.5h0M216.9 1045.6h0M199.5 936.9h0M141.7 907.5h0M193.0 937.6h0M230.8 1017.5h0M230.1 1031.5h0M150.3 931.4h0M174.7 925.1h0M146.4 808.0h0M191.3 943.2h0M120.8 796.5h0M197.6 954.8h0M302.8 873.5h0M148.0 919.8h0M100.0 840.8h0M177.0 921.7h0M223.6 1013.4h0M188.2 917.8h0M153.0 924.9h0M148.7 932.4h0M192.6 934.7h0M223.1 1023.5h0M222.6 1019.9h0M192.9 958.9h0M219.8 1027.2h0M234.4 1026.1h0M189.0 921.6h0M173.4 955.8h0M135.6 873.7h0M135.1 875.5h0M145.3 895.6h0M191.4 925.4h0M239.3 1021.3h0M171.8 932.8h0M158.7 850.3h0M147.9 887.3h0M152.9 933.8h0M145.7 846.3h0M146.1 920.9h0M158.6 948.0h0M150.1 922.9h0M222.7 1024.4h0M344.3 886.0h0M158.0 914.2h0M208.2 924.6h0M197.2 919.0h0M147.9 860.5h0M233.7 1022.2h0M191.1 898.1h0M171.0 932.1h0M198.4 958.4h0M351.2 882.2h0M221.1 1029.5h0M107.7 940.1h0M191.9 951.0h0M195.5 919.9h0M162.1 918.3h0M199.2 921.7h0M227.8 1028.2h0M162.4 854.2h0M191.9 925.9h0M230.0 1016.7h0M207.6 1007.1h0M135.6 881.0h0M160.9 864.5h0M221.3 1018.0h0M159.5 911.9h0M201.4 958.8h0M187.8 915.7h0M139.8 831.0h0M182.1 957.2h0M192.2 943.1h0M173.9 952.1h0M211.5 1004.9h0M152.4 930.4h0M169.9 801.5h0M158.9 862.8h0M150.7 895.2h0M193.7 959.4h0M176.2 932.9h0M160.6 860.3h0M207.2 1014.9h0M243.8 814.9h0M173.8 947.8h0M160.7 848.7h0M170.8 860.8h0M149.3 854.5h0M139.6 845.8h0M204.0 941.7h0M191.1 957.1h0M204.0 944.1h0M163.9 849.4h0M235.0 1026.5h0M194.8 956.4h0M238.5 1015.1h0M188.7 915.3h0M166.7 934.8h0M203.8 778.5h0M186.6 949.8h0M181.0 930.5h0M152.9 916.5h0M187.1 998.5h0M199.4 944.5h0M191.1 951.1h0M233.0 1025.3h0M184.0 916.1h0M187.7 997.9h0M187.5 960.6h0M182.8 941.9h0M150.7 928.9h0M173.4 1018.1h0M228.0 898.5h0M142.1 873.5h0M193.7 946.4h0M192.5 921.0h0M161.8 872.6h0M185.1 950.2h0M198.9 957.6h0M149.6 867.8h0M145.8 861.7h0M195.0 824.5h0M181.0 933.0h0M156.4 857.2h0M152.3 872.5h0M130.6 861.5h0M165.8 869.1h0M150.8 863.8h0M160.5 917.4h0M139.7 854.9h0M186.0 947.9h0M186.9 952.8h0M233.0 1023.5h0M161.9 934.2h0M155.7 879.0h0M166.9 876.7h0M182.0 929.5h0M233.1 1022.7h0M210.1 938.0h0M125.7 782.8h0M149.6 878.4h0M163.9 911.5h0M156.5 859.5h0M199.4 827.5h0M203.6 939.4h0M203.9 959.8h0M162.4 932.8h0M195.1 951.9h0M137.4 851.1h0M221.0 1022.1h0M167.2 944.2h0M220.2 878.2h0M159.3 869.8h0M166.2 927.8h0M183.7 959.9h0M164.2 950.4h0M148.2 863.7h0M187.4 934.0h0M143.3 921.3h0M175.4 960.8h0M221.2 1011.9h0M191.8 950.6h0M190.3 937.6h0M206.3 927.9h0M145.8 877.3h0M149.0 862.5h0M201.3 966.0h0M189.0 920.3h0M186.7 917.7h0M141.1 896.6h0M191.7 931.4h0M159.5 949.4h0M165.0 878.4h0M152.3 960.2h0M186.1 957.6h0M195.2 963.4h0M187.7 914.0h0M201.5 918.3h0M131.5 859.3h0M187.3 1000.0h0M192.2 949.7h0M158.0 855.0h0M168.9 920.6h0M163.3 940.4h0M218.8 1021.2h0M195.3 931.9h0M153.9 867.8h0" stroke="#A5A72A"/>
<path d="M269.6 883.6h0M278.1 885.5h0M264.5 858.3h0M261.9 870.4h0M275.1 888.5h0M262.4 846.4h0M340.3 911.6h0M323.1 884.9h0M262.4 867.5h0M226.4 853.8h0M342.0 912.4h0M228.5 835.2h0M341.8 905.4h0M236.7 912.2h0M263.2 858.3h0M141.8 893.6h0M283.2 916.7h0M152.4 882.1h0M238.1 910.2h0M190.8 807.6h0M124.7 870.9h0M269.4 857.4h0M267.2 835.1h0M258.3 854.7h0M230.2 868.0h0M321.5 990.0h0M259.7 833.6h0M192.9 807.5h0M259.4 834.0h0M257.4 847.6h0M263.4 835.9h0M241.6 858.8h0M328.6 945.1h0M236.3 838.3h0M264.9 1035.7h0M234.1 863.5h0M274.2 884.6h0M196.1 816.2h0M281.2 908.1h0M263.1 868.0h0M135.0 825.6h0M331.3 891.9h0M280.1 913.8h0M263.3 864.8h0M342.9 895.6h0M263.9 840.6h0M225.9 828.2h0M281.1 896.7h0M263.2 889.4h0M228.9 855.0h0M259.0 864.9h0M333.6 892.3h0M279.9 839.2h0M261.5 823.5h0M291.6 911.0h0M261.3 847.4h0M268.4 888.6h0M268.8 889.0h0M193.3 804.4h0M256.8 828.3h0M254.1 846.3h0M264.3 848.5h0M267.8 840.9h0M288.1 892.2h0M312.5 986.2h0M262.0 843.3h0M287.8 899.6h0M333.8 981.1h0M265.3 862.3h0M225.0 855.4h0M231.7 830.1h0M257.6 826.0h0M249.9 919.6h0M257.3 835.7h0M346.0 905.1h0M280.2 888.0h0M192.0 988.0h0M257.2 884.0h0M271.7 867.2h0M318.6 889.8h0M238.5 861.0h0M253.7 837.3h0M258.8 1027.6h0M337.3 903.8h0M265.2 830.8h0M284.4 914.9h0M239.5 897.8h0M345.7 903.0h0M271.2 894.3h0M277.6 875.7h0M265.2 848.2h0M268.7 878.5h0M189.9 816.3h0M251.1 998.1h0M343.5 899.2h0M233.9 858.1h0M313.0 988.5h0M229.2 853.3h0M260.2 832.8h0M269.8 861.2h0M265.1 866.3h0M235.4 829.2h0M234.6 838.8h0M280.7 911.4h0M241.6 851.8h0M305.8 986.7h0M263.3 854.0h0M270.9 862.2h0M236.0 821.7h0M237.0 910.8h0M271.7 861.7h0M264.7 868.8h0M310.7 980.1h0M265.5 841.3h0M344.2 900.8h0M149.1 841.5h0M257.6 827.9h0M190.2 812.5h0M340.6 892.0h0M259.9 829.7h0M326.1 990.2h0M283.5 913.7h0M235.3 834.6h0M268.2 863.4h0M247.7 832.8h0M269.9 870.2h0M261.1 853.2h0M253.8 818.5h0M248.6 826.8h0M232.8 963.1h0M336.3 892.4h0M193.8 807.1h0M269.6 868.3h0M348.7 907.4h0M213.1 757.5h0M273.0 873.1h0M293.5 831.1h0M345.9 906.8h0M278.5 911.8h0M240.2 868.8h0M340.0 911.1h0M291.9 914.0h0M345.4 904.7h0M257.5 835.4h0M258.8 837.0h0M279.3 882.4h0M344.2 905.8h0M288.9 914.6h0M191.3 814.2h0M257.7 868.9h0M336.4 894.2h0M311.9 992.9h0M337.7 891.4h0M261.6 861.1h0M291.0 916.0h0M342.3 912.4h0M281.7 981.3h0M346.9 903.3h0M334.3 949.5h0M187.1 804.7h0M254.2 845.4h0M196.6 814.6h0M255.3 842.0h0M257.0 861.4h0M230.1 854.0h0M276.2 899.0h0M272.3 862.1h0M267.6 883.5h0M318.8 882.3h0M283.8 902.7h0M235.2 911.0h0M264.6 864.0h0M192.4 813.9h0M225.4 831.1h0M259.5 860.7h0M199.5 809.8h0M201.4 948.6h0M337.3 891.8h0M282.2 905.0h0M189.2 809.0h0M334.9 893.7h0M241.7 825.7h0M265.4 859.8h0M259.0 827.8h0M271.3 1001.3h0M254.4 834.3h0M232.8 855.3h0M225.8 994.6h0M294.4 1012.8h0M346.4 910.3h0M258.3 865.1h0M254.8 845.6h0M259.4 861.2h0M337.5 894.4h0M189.4 816.6h0M280.9 899.6h0M334.6 892.1h0M231.3 835.3h0M285.1 1020.9h0M264.5 833.1h0M336.0 1007.3h0M279.9 891.5h0M277.5 941.0h0M325.0 894.3h0M251.7 817.3h0M291.9 810.2h0M232.7 863.7h0M239.6 970.3h0M193.5 811.2h0M279.3 894.0h0M270.3 866.3h0M263.3 845.9h0M343.0 900.7h0M264.4 856.7h0M273.1 896.2h0M236.5 865.0h0M229.6 970.6h0M247.5 829.4h0M268.9 863.7h0M257.6 819.4h0M194.2 816.2h0M324.8 895.5h0M256.0 866.4h0M332.9 904.0h0M342.4 906.6h0" stroke="#E861A5"/>
<path d="M197.2 851.7h0M311.9 966.9h0M127.7 787.6h0M166.5 779.0h0M126.7 854.0h0M94.4 893.3h0M325.4 898.3h0M145.8 787.9h0M96.2 850.7h0M206.5 776.9h0M160.3 870.9h0M212.9 915.4h0M124.9 825.6h0M189.7 844.3h0M176.7 768.2h0M180.6 813.1h0M184.5 849.7h0M169.3 836.9h0M110.6 887.5h0M179.9 782.4h0M147.8 959.9h0M158.9 958.4h0M140.6 860.5h0M169.4 843.2h0M227.2 905.0h0M126.8 821.5h0M178.6 920.1h0M161.4 830.2h0M150.1 797.1h0M121.5 958.5h0M135.4 787.5h0M101.0 889.1h0M189.3 825.7h0M170.4 848.5h0M147.1 869.5h0M114.8 810.6h0M270.9 873.7h0M138.1 918.1h0M327.5 962.2h0M173.9 879.2h0M135.6 788.4h0M127.6 817.8h0M117.6 827.5h0M206.4 955.7h0M295.2 965.6h0M180.1 853.1h0M116.3 883.0h0M227.2 766.9h0M116.8 841.8h0M110.9 857.9h0M108.4 834.6h0M125.9 867.8h0M119.2 854.0h0M94.8 865.9h0M130.4 786.4h0M198.0 967.7h0M313.9 916.0h0M159.0 911.4h0M105.8 854.6h0M151.3 798.3h0M118.9 810.5h0M94.4 851.6h0M127.5 794.1h0M123.5 787.1h0M309.2 939.1h0M309.2 951.5h0M98.9 866.0h0M169.5 771.4h0M105.5 814.1h0M165.1 847.5h0M110.9 859.6h0M121.2 893.2h0M231.1 1047.7h0M196.7 856.1h0M107.6 954.7h0M110.0 833.2h0M165.9 770.9h0M132.9 842.9h0M213.5 803.3h0M192.9 846.5h0M172.2 810.1h0M185.7 848.4h0M142.6 898.9h0M121.1 848.2h0M141.8 968.6h0M313.9 932.1h0M189.6 937.3h0M261.8 1036.1h0M100.9 853.2h0M180.0 776.2h0M205.6 942.9h0M186.9 847.0h0M111.8 910.8h0M98.8 870.2h0M196.1 834.1h0M135.5 838.5h0M131.6 796.0h0M161.7 975.8h0M206.9 1025.7h0M228.3 808.1h0M170.5 1013.6h0M205.7 987.3h0M130.0 798.4h0M273.6 1036.5h0M107.0 850.3h0M183.7 841.5h0M303.3 871.6h0M218.7 892.2h0M122.2 821.0h0M219.4 913.5h0M122.2 864.4h0M163.2 914.6h0M320.2 940.2h0M92.4 898.2h0M146.2 798.7h0M133.4 800.9h0M141.9 787.5h0M120.9 866.4h0M198.7 828.3h0M130.6 796.2h0M178.4 833.5h0M135.7 803.5h0M132.3 804.2h0M227.3 789.4h0M101.7 911.5h0M187.9 952.1h0M224.4 973.5h0M239.7 1013.5h0M99.9 837.7h0M127.4 797.9h0M220.5 814.9h0M212.9 1052.6h0M193.8 835.1h0M190.4 854.7h0M113.5 863.9h0M218.0 846.2h0M202.4 867.6h0M217.7 918.3h0M147.8 911.1h0M194.5 833.7h0M120.9 834.3h0M146.7 787.7h0M125.7 858.2h0M171.9 844.6h0M106.0 885.0h0M113.4 909.2h0M194.2 796.1h0M174.9 789.6h0M121.9 847.0h0M142.3 920.9h0M264.3 984.8h0M150.1 793.3h0M197.6 870.0h0M154.9 844.5h0M142.4 801.5h0M136.3 796.6h0M184.6 857.3h0M191.6 825.7h0M307.1 894.1h0M264.0 900.6h0M208.6 825.8h0M116.2 836.0h0M226.4 998.2h0M168.7 855.0h0M175.2 845.3h0M149.8 796.7h0M174.2 846.7h0M186.4 809.2h0M211.0 914.6h0M162.3 967.7h0M225.7 895.2h0M125.4 796.7h0M104.3 905.0h0M206.4 853.1h0M131.7 791.8h0M198.1 766.2h0M116.7 859.5h0M193.4 837.9h0M185.5 810.2h0M220.0 814.3h0M137.5 800.9h0M107.4 851.5h0M158.5 894.7h0M197.3 967.3h0M174.8 876.4h0M325.7 879.8h0M177.7 844.8h0M143.8 794.4h0M117.3 892.8h0M136.4 853.8h0M267.4 788.2h0M145.0 788.1h0M177.1 794.4h0M128.6 848.5h0M183.8 837.3h0M105.2 892.2h0M111.8 919.2h0M106.5 963.8h0M190.0 991.5h0M179.3 847.3h0M167.8 986.9h0M138.5 879.2h0M118.4 834.5h0M193.8 852.7h0M200.6 829.1h0M142.4 830.6h0M199.2 858.2h0M282.5 911.5h0M146.0 793.6h0M269.9 793.3h0M299.5 892.2h0M205.3 840.6h0M110.9 920.4h0M158.6 974.5h0M125.0 821.2h0M117.5 840.8h0M182.8 958.3h0M146.3 789.4h0M116.2 830.5h0M309.8 959.0h0M158.0 926.7h0M101.9 830.1h0M226.4 916.9h0M173.8 851.5h0M94.7 892.9h0M214.3 911.7h0M127.0 835.2h0M137.9 794.2h0M206.0 1002.1h0M123.7 943.0h0M165.3 836.9h0M124.9 946.6h0M106.9 810.4h0M119.4 884.1h0M206.0 909.8h0M182.8 851.8h0M125.9 797.9h0M212.4 918.0h0M205.5 840.7h0M113.2 841.0h0M105.0 809.0h0M117.2 845.0h0M114.6 856.9h0M175.0 764.4h0M119.5 833.2h0M218.5 996.2h0M181.1 855.0h0M273.7 887.4h0M197.9 831.9h0M152.6 941.7h0M122.6 818.9h0M149.4 916.8h0M210.3 833.7h0M118.7 854.6h0M188.8 916.2h0M192.5 841.3h0M207.6 913.5h0M116.0 918.0h0M132.0 800.5h0M108.5 911.2h0M176.5 854.4h0M119.7 883.2h0M237.3 945.1h0M138.5 801.7h0M226.8 945.8h0M129.2 819.7h0M112.5 863.0h0M217.6 932.9h0M101.8 907.9h0M334.7 902.6h0M147.6 794.6h0M99.9 871.0h0M178.6 836.2h0M197.7 822.9h0M151.4 908.7h0M149.9 800.9h0M147.6 791.2h0M303.2 934.4h0M139.7 911.4h0M100.8 833.2h0M98.9 901.2h0M111.3 905.0h0M110.7 914.9h0M203.9 830.7h0M190.1 808.4h0M114.1 841.9h0M136.7 948.4h0M164.9 765.9h0M192.3 952.7h0M136.5 791.3h0M119.4 813.3h0M100.5 835.6h0M193.9 961.7h0M101.0 847.8h0M96.0 896.9h0M209.0 857.3h0M136.1 800.8h0M151.0 787.6h0M117.3 940.1h0M187.3 778.4h0M211.8 826.3h0M94.9 874.8h0M302.7 986.3h0M201.5 912.2h0M211.5 909.9h0M121.7 815.8h0M124.3 787.6h0M157.7 874.3h0M129.3 808.1h0M150.3 781.2h0M186.6 1032.9h0M114.0 845.8h0M184.8 831.5h0M170.1 856.5h0M176.8 830.0h0M169.8 838.0h0M214.7 968.6h0M149.2 937.4h0M203.8 1001.0h0M149.8 940.1h0M169.2 832.7h0M182.2 844.4h0" stroke="#5BC5DC"/>
<path d="M245.4 974.1h0M317.7 974.3h0M324.1 998.3h0M351.6 943.5h0M254.6 973.9h0M327.2 981.5h0M326.9 970.5h0M271.1 967.6h0M302.2 873.2h0M257.9 970.4h0M329.0 982.1h0M358.6 942.2h0M324.1 965.0h0M191.0 789.8h0M161.7 793.4h0M230.2 906.0h0M243.8 921.6h0M231.3 999.0h0M165.0 862.5h0M327.5 977.6h0M304.1 879.0h0M311.0 950.0h0M241.4 866.9h0M297.5 895.6h0M284.0 871.8h0M156.4 775.1h0M319.2 977.1h0M233.0 1022.4h0M206.5 798.2h0M197.8 790.3h0M356.8 942.9h0M318.8 996.8h0M245.2 907.9h0M356.0 940.8h0M225.1 720.7h0M303.7 878.8h0M328.6 984.5h0M252.2 1010.6h0M325.3 987.2h0M232.9 917.6h0M299.8 905.9h0M303.9 899.1h0M325.6 1005.6h0M294.7 851.9h0M316.4 973.9h0M327.2 985.7h0M323.7 997.7h0M330.2 965.0h0M330.4 979.6h0M300.0 1022.4h0M325.2 1008.4h0M202.1 800.2h0M251.5 974.1h0M324.7 980.0h0M300.2 879.5h0M235.9 1020.4h0M241.5 916.0h0M248.3 974.5h0M298.7 881.0h0M331.7 972.1h0M323.2 1001.9h0M323.4 973.8h0M229.0 927.0h0M234.0 972.8h0M244.4 957.6h0M196.4 795.9h0M158.2 977.4h0M190.8 796.4h0M251.8 972.2h0M285.3 963.8h0M233.8 906.1h0M222.8 1033.6h0M280.0 866.1h0M282.3 906.1h0M349.9 943.0h0M355.0 943.6h0M229.3 777.3h0M330.5 979.5h0M239.1 971.3h0M294.8 889.6h0M270.6 986.1h0M243.2 979.1h0M244.1 925.1h0M321.5 965.8h0M274.2 960.5h0M333.4 975.4h0M332.8 1010.2h0M250.4 970.5h0M327.2 964.8h0M250.7 924.5h0M265.1 864.2h0M163.4 829.4h0M194.0 792.2h0M322.6 1000.0h0M253.6 976.4h0M272.2 915.1h0M354.6 943.7h0M295.0 878.2h0M249.0 967.2h0M268.6 977.5h0M318.0 1002.1h0M230.1 904.2h0M335.7 892.1h0M238.3 859.7h0M247.6 985.0h0M303.1 883.2h0M301.7 903.6h0M332.1 973.4h0M241.0 915.5h0M275.3 952.1h0M314.1 971.2h0M246.7 763.9h0M304.9 884.9h0M239.7 912.3h0M326.8 998.3h0M278.7 869.1h0M322.8 1000.4h0M244.3 908.3h0M294.3 906.0h0M200.1 800.5h0M320.4 971.3h0M317.6 995.8h0M242.2 982.9h0M250.2 912.0h0M303.0 887.2h0M302.7 875.9h0M278.9 925.5h0M327.4 1008.6h0M271.9 1035.4h0M248.2 980.8h0M296.2 898.1h0M296.1 875.4h0M294.6 882.4h0M206.2 797.9h0M277.3 911.3h0M244.0 1017.3h0M257.7 904.9h0M300.5 876.9h0M252.3 974.2h0M264.8 989.1h0M300.6 880.1h0M304.8 902.9h0M326.4 995.9h0M317.4 968.5h0M266.9 1030.3h0M323.3 997.7h0M249.2 978.6h0M322.1 980.3h0M267.2 934.0h0M352.4 936.2h0M320.4 970.3h0M317.7 996.7h0M303.8 876.9h0M244.0 919.7h0M262.1 973.1h0" stroke="#B887DE"/>
<path d="M329.0 1000.8h0M234.4 816.8h0M308.8 904.9h0M206.1 773.9h0M240.5 837.4h0M109.9 929.0h0M265.1 832.4h0M336.0 973.4h0M250.0 974.6h0M242.2 914.2h0M247.9 853.0h0M312.9 885.0h0M292.9 968.0h0M351.0 935.3h0M278.8 816.7h0M338.4 943.7h0M162.1 920.9h0M336.9 986.0h0M300.6 893.3h0M235.7 840.2h0M269.5 887.8h0M282.4 941.2h0M315.5 929.1h0M270.5 850.8h0M248.5 902.9h0M277.3 854.0h0M229.3 912.6h0M142.9 775.1h0M232.4 915.4h0M240.1 912.3h0M297.7 992.3h0M278.6 1001.1h0M179.8 907.0h0M328.7 1017.7h0M239.2 940.0h0M273.5 961.6h0M320.8 955.6h0M247.4 911.6h0M167.5 954.0h0M212.2 824.2h0M258.0 811.1h0" stroke="#F96A9C"/>
<path d="M224.6 792.9h0M100.8 849.5h0M289.1 982.7h0M266.0 1008.6h0M274.7 815.7h0M193.8 1024.2h0M323.5 907.2h0M214.8 1028.2h0M214.4 764.1h0M160.3 959.3h0M285.5 834.1h0M229.2 785.2h0M237.0 894.8h0M118.2 880.8h0M201.7 754.7h0M320.6 966.2h0M108.2 888.5h0M215.5 1007.8h0M103.2 899.0h0M108.3 885.5h0M210.8 872.6h0M119.1 852.6h0M215.3 1035.1h0M198.7 1023.0h0M105.6 846.8h0M98.8 867.2h0M140.2 789.9h0M166.1 895.0h0M108.3 845.1h0M255.9 890.1h0M313.4 863.4h0M202.0 1032.1h0M282.5 798.8h0M261.8 1014.6h0M315.2 949.0h0M200.8 1035.1h0M175.9 796.8h0M104.0 910.8h0M188.8 979.2h0M178.5 871.3h0M107.9 887.9h0M241.3 933.9h0M276.5 827.7h0M212.9 1051.3h0M116.3 862.5h0M176.1 838.3h0M229.4 995.9h0M129.9 886.7h0M263.3 844.0h0M164.2 797.3h0M321.1 901.5h0M157.3 782.5h0M311.7 984.1h0M163.5 929.1h0M233.4 831.4h0M240.7 918.3h0M229.7 816.5h0M193.1 767.3h0M336.2 875.6h0M98.5 830.4h0" stroke="#3DBA5F"/>
<path d="M216.9 786.2h0M158.9 777.9h0M136.6 726.4h0M294.4 988.4h0M175.7 790.5h0M240.7 973.0h0M230.8 909.2h0M316.1 1008.7h0M226.0 799.0h0M291.8 994.2h0M258.4 1012.9h0M205.6 777.0h0M309.4 988.1h0M127.4 729.4h0M303.6 993.3h0M135.2 724.3h0M138.6 729.9h0M238.6 904.3h0M132.0 736.9h0M301.4 988.6h0M236.2 1015.2h0M127.6 775.1h0M296.2 989.1h0M126.1 738.3h0M140.1 726.8h0M121.9 764.7h0M254.3 901.4h0M233.7 799.0h0M140.1 720.5h0M167.0 772.2h0M274.5 973.0h0M140.7 724.9h0M240.2 925.8h0M125.1 735.1h0M246.5 981.1h0M223.9 806.0h0M123.6 746.3h0M294.6 865.5h0M267.9 1005.0h0M304.1 985.9h0M251.1 981.4h0M163.5 772.8h0M292.7 991.5h0M134.7 736.3h0M282.1 931.7h0M243.1 890.1h0M260.0 1011.7h0M129.6 745.5h0M123.0 749.4h0M185.0 778.8h0M266.8 783.6h0M306.6 1029.3h0M125.8 730.1h0M122.8 763.6h0M177.5 782.8h0M195.7 896.3h0M121.4 747.0h0M125.5 773.9h0M260.8 1008.3h0M217.8 790.3h0M284.4 1013.2h0M266.2 909.2h0M124.8 736.2h0M212.5 797.7h0M286.1 886.6h0M180.3 779.3h0M257.2 861.2h0M163.7 775.1h0M260.9 985.8h0M203.0 931.4h0M252.7 882.5h0M138.6 733.5h0M132.0 778.8h0M135.4 722.8h0M133.4 731.1h0M170.6 777.2h0M252.9 987.1h0M122.8 759.8h0M122.4 767.9h0M292.0 982.1h0M174.3 785.1h0M325.0 920.0h0M240.0 980.0h0M265.3 982.5h0M300.5 1042.6h0M258.4 978.8h0M171.6 782.9h0M220.7 793.3h0M257.8 1058.6h0M122.2 756.9h0M169.9 787.5h0M316.1 957.3h0M124.9 769.1h0M137.6 731.6h0M248.3 981.9h0M135.4 735.0h0M288.3 994.5h0M301.6 975.7h0M250.2 889.4h0M272.2 814.1h0M247.2 892.9h0M163.7 781.2h0M171.2 782.3h0M127.2 729.5h0M169.0 774.4h0M143.4 726.4h0M304.2 991.2h0M259.0 966.7h0M211.5 794.8h0M125.7 739.2h0M266.1 981.2h0M138.6 733.5h0M176.6 773.6h0M339.0 938.5h0M121.5 766.7h0M167.8 795.9h0M300.5 976.3h0M134.0 727.7h0M197.5 754.1h0M288.0 975.5h0M136.3 725.3h0M258.8 793.2h0M296.6 993.1h0M247.9 885.6h0M180.3 777.3h0M295.6 954.9h0M174.7 778.5h0M125.2 736.1h0M242.2 877.3h0M282.7 965.0h0M231.6 770.9h0M230.2 960.1h0M303.6 974.6h0M238.8 879.0h0M167.6 782.1h0M92.8 879.5h0M221.9 795.3h0M236.0 877.9h0M145.0 940.9h0M165.5 779.8h0M124.5 765.5h0M209.4 782.8h0M288.6 993.2h0M125.7 738.1h0M259.5 975.9h0M251.1 894.0h0M315.1 920.4h0M239.8 970.9h0M219.8 792.4h0M303.6 985.5h0M289.0 847.2h0M174.2 774.3h0M296.8 992.7h0M249.7 896.7h0M128.9 780.6h0M167.4 782.3h0M219.9 796.1h0M124.6 731.2h0M258.3 827.7h0M267.4 997.9h0M217.6 797.5h0M135.3 739.7h0M298.1 992.0h0M136.7 727.6h0" stroke="#D073D3"/>
<path d="M379.6 913.6h0M377.9 904.9h0M385.5 906.3h0M381.7 922.1h0M376.8 914.5h0M378.6 905.6h0M382.5 920.0h0M389.6 905.8h0M385.7 914.6h0M383.3 906.7h0M385.5 910.4h0M377.5 914.0h0M390.7 904.3h0M386.9 911.5h0M386.0 911.8h0M385.3 911.1h0M378.8 915.0h0" stroke="#F67F7A"/>
<path d="M280.6 887.2h0M267.2 860.4h0M219.2 755.5h0M337.8 907.2h0M204.3 991.2h0M288.8 1042.7h0M260.7 816.8h0M327.2 899.5h0M277.8 887.3h0M252.4 820.5h0M278.8 899.9h0M269.9 898.6h0M320.9 879.6h0M340.5 901.2h0M193.7 810.0h0M237.6 860.1h0M269.2 882.8h0M340.3 892.8h0M236.5 857.3h0M276.5 886.5h0M261.7 854.5h0M267.4 877.8h0M223.3 790.5h0M287.2 990.2h0M332.3 907.1h0M256.4 817.2h0M267.8 882.4h0M187.2 809.7h0M319.2 887.4h0M233.8 866.6h0M147.5 843.0h0M242.1 861.0h0M279.9 1025.6h0M332.4 904.4h0M255.5 839.6h0M264.0 829.9h0M263.6 857.5h0M292.1 902.9h0M340.6 902.5h0M261.9 872.5h0M229.8 838.3h0M228.9 871.8h0M249.7 841.7h0M287.8 895.2h0M289.3 895.3h0M339.8 898.4h0M194.4 813.0h0M321.8 883.9h0M193.9 820.6h0M267.9 880.9h0M255.5 862.5h0M286.4 906.0h0M253.4 817.4h0M313.0 990.8h0M344.7 902.9h0M155.6 884.2h0M228.5 827.8h0M273.4 870.3h0M250.2 833.1h0M277.6 786.3h0M227.9 835.6h0M233.0 856.3h0M196.5 818.2h0M261.0 831.7h0M348.0 904.0h0M253.1 990.0h0M265.9 838.7h0M272.3 871.4h0M224.6 852.5h0M319.9 889.5h0M230.5 858.4h0M244.2 833.9h0M255.6 894.6h0M266.0 869.8h0M337.2 902.5h0M345.7 899.6h0M290.9 911.5h0M317.0 877.2h0M237.9 852.7h0M237.5 901.0h0M286.7 899.8h0M237.6 826.4h0M223.7 861.2h0M176.6 947.9h0M266.9 863.4h0M257.3 859.8h0M282.4 893.0h0M279.8 904.4h0M334.1 899.6h0M251.5 843.2h0M229.8 865.8h0M235.8 861.9h0M342.0 893.8h0M309.7 869.7h0M345.8 901.6h0M339.8 898.0h0M239.4 958.4h0M265.0 884.5h0M280.5 913.7h0M221.0 827.8h0M285.7 897.2h0M263.1 859.5h0M340.9 907.6h0M291.5 912.0h0M258.9 839.6h0M117.6 877.4h0M294.7 910.5h0M262.8 863.7h0M287.1 909.1h0M199.4 807.5h0M236.6 870.5h0M292.5 909.4h0M186.4 818.1h0M260.4 873.8h0M194.2 817.0h0M258.6 836.8h0M343.2 904.4h0M277.0 877.6h0M265.8 854.4h0M340.1 905.8h0M256.6 856.7h0M260.5 845.6h0M286.2 893.7h0M320.6 887.4h0M283.4 902.7h0M253.1 818.3h0M275.2 891.0h0M235.1 866.5h0M232.4 832.4h0M311.0 989.4h0M258.3 867.6h0M273.1 885.1h0M223.3 857.8h0M266.2 841.9h0M334.8 895.8h0M332.1 892.6h0M292.7 902.8h0M194.8 930.7h0M266.2 855.4h0M258.4 819.0h0M271.2 867.3h0M260.6 862.3h0M290.6 914.5h0M260.6 837.2h0M336.3 1026.9h0M228.9 861.0h0M252.8 822.3h0M255.3 866.9h0M278.5 909.3h0M268.1 878.9h0M266.2 856.4h0M328.9 899.5h0M339.1 901.2h0M262.8 861.1h0M189.3 804.3h0M262.2 859.2h0M222.8 826.1h0M228.5 835.1h0M240.9 861.6h0M257.8 872.6h0M267.1 882.4h0M238.0 839.3h0M254.9 859.3h0M289.1 891.0h0M157.3 890.6h0M259.6 840.8h0M262.8 862.4h0M270.3 884.2h0M236.5 831.4h0M318.6 882.1h0M341.6 913.0h0M193.7 813.1h0M255.8 862.5h0M264.8 877.1h0M341.7 909.5h0M255.4 868.8h0M255.0 842.0h0M258.2 842.1h0M319.7 885.8h0M191.0 807.5h0M339.6 893.2h0M336.6 894.5h0M224.1 833.6h0M263.3 827.2h0M252.7 837.4h0M241.6 829.5h0M193.4 804.9h0M235.3 835.9h0M224.4 831.0h0M263.0 808.1h0M344.8 904.0h0M254.9 820.2h0M216.6 837.1h0M280.9 891.7h0M221.6 1031.2h0M289.6 908.3h0M291.2 908.3h0M318.3 967.8h0M245.4 841.5h0M272.3 863.3h0M338.4 897.8h0M258.7 846.5h0M238.2 826.3h0M288.1 959.2h0M282.8 885.0h0M237.3 858.0h0M327.9 963.5h0M328.6 900.8h0M283.2 904.1h0M271.6 927.4h0M276.2 890.6h0M271.6 870.0h0M336.6 900.0h0M254.1 822.6h0M286.5 887.1h0M327.6 899.7h0M258.1 981.1h0M308.9 1050.0h0M260.6 884.9h0M273.5 881.2h0M255.3 833.2h0M228.2 859.3h0M329.0 896.2h0M289.8 898.3h0M252.1 843.6h0" stroke="#E861A5"/>
<path d="M259.7 957.4h0M232.9 821.0h0M333.7 819.2h0M273.4 1014.5h0M109.3 975.0h0M274.1 1014.6h0M125.5 998.5h0M146.4 987.2h0M158.9 1008.8h0M126.3 981.2h0M114.7 970.8h0M124.7 974.9h0M318.5 826.4h0M203.9 755.4h0M124.0 1009.2h0M305.5 909.4h0M282.6 946.6h0M132.6 1006.7h0M130.8 1008.8h0M318.3 824.6h0M324.8 827.7h0M135.1 985.4h0M165.3 981.1h0M325.5 828.6h0M123.8 984.9h0M284.8 744.8h0M143.3 994.1h0M142.2 1015.2h0M124.4 972.3h0M326.3 835.9h0M125.7 975.6h0M142.1 990.1h0M322.1 818.1h0M318.0 826.8h0M111.0 983.2h0M123.8 1001.1h0M378.8 856.0h0M321.9 816.7h0M117.2 988.6h0M273.4 799.2h0M129.9 1012.0h0M251.1 810.3h0M326.7 822.9h0M147.7 995.0h0M251.6 770.4h0M112.1 967.4h0M382.0 857.6h0M118.8 960.8h0M137.0 982.1h0M126.4 985.8h0M153.6 994.1h0M126.4 984.1h0M316.2 964.5h0M138.1 1014.1h0M129.9 998.2h0M153.5 994.8h0M131.6 990.3h0M114.8 965.8h0M319.8 956.9h0M323.3 817.8h0M319.5 830.4h0M151.7 998.9h0M324.2 812.4h0M126.7 988.8h0M319.7 823.8h0M306.8 815.6h0M131.0 998.5h0M298.8 1037.3h0M148.1 1006.7h0M270.5 1009.9h0M335.0 979.4h0M147.5 964.4h0M115.1 986.6h0M123.4 1000.3h0M111.0 973.6h0M111.3 986.6h0M139.5 1015.3h0M149.2 992.0h0M383.5 859.9h0M300.8 913.7h0M247.0 898.7h0M124.0 981.9h0M128.3 961.4h0M336.8 835.3h0M128.0 994.5h0M114.0 961.7h0M377.7 863.5h0M158.8 865.1h0M334.2 835.1h0M128.0 953.8h0M315.4 813.8h0M142.8 1011.9h0M150.4 987.7h0M330.7 838.6h0M138.0 992.2h0M108.0 972.7h0M131.9 983.4h0M144.8 888.6h0M384.8 873.7h0M115.7 973.6h0M265.1 990.8h0M119.7 978.2h0M317.0 807.3h0M302.9 812.1h0M110.3 964.8h0M252.9 922.0h0M137.1 991.8h0M134.6 996.0h0M327.8 836.2h0M124.4 978.8h0M272.7 1015.7h0M128.5 994.7h0M139.6 1010.4h0M134.5 969.7h0M145.7 994.4h0M132.7 963.8h0M140.5 1010.1h0M125.1 1000.5h0M254.7 1000.6h0M119.4 995.9h0M149.8 1010.8h0M136.6 1000.1h0M381.1 865.0h0M225.9 754.5h0M330.7 829.1h0M130.5 998.2h0M384.3 866.8h0M128.0 995.1h0M137.7 1010.8h0M270.4 1012.3h0M324.0 814.6h0M318.6 825.0h0M314.9 809.0h0M385.5 858.0h0M383.7 872.4h0M128.5 1004.1h0M135.2 979.4h0M327.5 836.4h0M327.7 837.9h0M312.2 807.7h0M329.5 824.6h0M381.4 857.3h0M147.0 1016.1h0M119.1 992.1h0M119.0 995.7h0M128.4 943.6h0M149.5 987.9h0M145.6 999.5h0M384.5 858.1h0M137.7 982.9h0M132.5 967.9h0M274.0 1017.7h0M126.5 978.7h0M135.8 972.4h0M118.7 984.4h0M122.2 962.9h0M137.1 980.4h0M138.1 1017.8h0M123.0 1007.0h0M323.5 795.6h0M382.1 858.9h0M320.6 817.6h0M111.8 968.4h0M138.8 999.4h0M111.7 982.7h0M318.3 819.1h0M250.9 821.2h0M133.6 999.8h0M291.9 996.4h0M134.3 1002.1h0M208.0 771.5h0M320.2 815.4h0M387.6 860.5h0M153.0 994.9h0M117.4 997.4h0M133.1 979.3h0M273.3 1018.1h0M226.6 1031.9h0M117.2 985.6h0" stroke="#5CCBA4"/>
<path d="M289.3 990.4h0M275.7 931.9h0M284.3 984.8h0M217.6 824.9h0M239.1 975.3h0M122.6 762.1h0M295.0 989.9h0M171.7 777.4h0M166.4 773.7h0M121.7 765.0h0M126.1 725.4h0M253.1 981.6h0M269.6 895.5h0M323.1 1036.8h0M296.2 980.6h0M284.2 926.4h0M304.0 993.0h0M294.7 987.1h0M131.0 779.5h0M210.0 795.5h0M124.8 759.5h0M263.5 974.9h0M135.5 726.0h0M242.4 979.5h0M175.0 778.4h0M306.5 850.7h0M133.5 732.1h0M243.7 890.0h0M253.3 831.5h0M259.3 897.2h0M122.7 744.4h0M125.4 775.9h0M246.8 980.6h0M270.7 983.8h0M302.0 990.3h0M289.5 988.4h0M254.6 983.3h0M245.5 981.1h0M129.2 727.0h0M276.4 939.5h0M265.0 1012.6h0M235.9 885.1h0M132.7 721.6h0M122.7 750.7h0M167.2 780.5h0M122.1 766.2h0M124.5 763.4h0M291.3 989.8h0M287.7 993.9h0M121.5 761.0h0M254.2 968.7h0M333.8 964.4h0M142.1 724.3h0M134.7 725.9h0M206.5 795.2h0M191.3 763.2h0M134.4 721.3h0M130.6 780.7h0M128.6 728.8h0M133.8 725.4h0M298.8 975.5h0M182.2 783.4h0M304.5 942.4h0M245.6 978.3h0M185.7 780.6h0M325.1 992.6h0M143.8 789.9h0M136.7 733.0h0M165.6 776.5h0M142.0 724.7h0M126.4 726.4h0M251.6 898.0h0M128.0 882.1h0M228.3 805.4h0M169.4 774.4h0M173.8 790.7h0M292.3 978.8h0M221.2 794.9h0M131.1 780.3h0M235.9 1013.2h0M128.2 780.4h0M261.9 1016.0h0M167.0 777.4h0M184.5 776.8h0M255.1 927.5h0M130.5 781.6h0M141.4 727.1h0M123.0 748.7h0M299.3 1026.6h0M261.9 989.4h0M133.8 778.6h0M169.0 795.0h0M166.2 779.1h0M294.4 845.7h0M171.8 778.1h0M246.7 894.1h0M265.0 901.7h0M170.1 788.9h0M287.8 976.9h0M317.4 928.4h0M251.5 904.1h0M269.5 865.5h0M250.3 879.4h0M274.2 860.0h0M278.7 789.6h0M168.8 780.9h0M169.7 776.2h0M179.1 774.7h0M136.5 725.6h0M163.0 781.1h0M289.2 992.8h0M123.8 763.3h0M123.9 763.5h0M134.4 728.9h0M169.6 773.7h0M252.6 894.9h0M300.5 979.0h0M254.6 979.2h0M125.8 728.1h0M134.4 728.9h0M293.9 889.8h0M212.6 787.3h0M165.5 775.3h0M286.6 946.8h0M159.4 774.7h0M123.8 747.7h0M240.0 971.0h0M136.2 722.8h0M135.7 731.7h0M157.5 775.4h0M214.4 855.9h0M186.8 817.7h0M246.0 894.4h0M127.7 775.3h0M132.4 726.1h0M250.3 900.0h0M302.4 985.8h0M285.2 991.5h0M122.7 750.9h0M266.0 983.6h0M135.5 727.4h0M135.7 734.5h0M246.3 879.9h0M134.2 779.2h0M170.5 773.6h0M127.8 729.5h0M325.0 888.5h0M244.9 917.0h0M133.4 725.4h0M236.1 896.7h0M288.6 841.9h0M296.6 893.1h0M131.8 736.8h0M124.3 746.8h0M288.8 956.0h0M331.0 1000.0h0M273.4 824.0h0M172.9 793.0h0M184.6 777.6h0M179.0 781.1h0M348.4 936.8h0M234.3 874.1h0M255.2 970.9h0M292.5 976.1h0" stroke="#D073D3"/>
<path d="M301.5 1038.1h0M306.0 1047.7h0M306.8 1044.5h0M168.6 1011.8h0M252.3 1045.1h0M308.1 1043.8h0M316.1 1053.0h0M295.9 1037.3h0M305.4 1047.7h0M300.0 1047.7h0M178.4 986.4h0M296.6 1050.2h0M262.1 1051.7h0M244.6 1049.6h0M259.7 1048.9h0M304.4 1034.5h0M295.6 1030.3h0M314.7 1049.9h0M245.8 1050.9h0M294.7 1036.0h0M259.1 1047.6h0M282.4 878.9h0M232.8 911.7h0M298.2 1057.8h0M289.9 860.9h0M265.0 1043.5h0M167.0 1000.8h0M313.6 1051.4h0M142.5 784.3h0M330.8 930.9h0M308.9 1054.9h0M274.3 1045.5h0M276.7 1037.0h0M108.4 914.1h0M312.3 1055.8h0M330.7 869.9h0M271.2 1043.3h0M257.2 1050.4h0M300.0 1043.3h0M258.7 1033.8h0M317.9 933.4h0M246.9 1048.0h0M280.1 1043.4h0M234.9 1033.7h0M298.9 1049.0h0M261.6 1049.7h0M247.7 1050.6h0M311.1 1051.1h0M282.3 1045.7h0M304.9 1050.9h0M305.7 1055.0h0M228.8 930.8h0M277.5 1040.5h0M279.5 1037.8h0M285.1 1035.8h0M258.9 1052.6h0M276.4 1052.7h0M317.4 1041.5h0M312.7 1044.9h0M278.6 1001.5h0M273.2 1047.6h0M270.6 1046.0h0M290.7 1052.5h0M176.2 1019.0h0M310.3 1038.4h0M310.7 1043.0h0M319.7 1052.4h0M251.3 1045.1h0M264.0 1053.7h0M306.9 1048.6h0M318.4 1049.1h0M289.7 1042.6h0M278.6 945.3h0M308.3 1056.4h0M310.0 1044.0h0M299.6 1052.9h0M340.5 985.6h0M292.1 860.2h0M294.9 1045.6h0M318.2 1041.7h0M303.8 1041.5h0M300.6 1032.0h0M288.5 1052.8h0M285.8 1043.3h0M282.0 987.1h0M208.0 808.6h0M284.0 1036.3h0M312.4 1054.9h0M184.9 1028.3h0M131.4 946.5h0M292.0 1053.2h0M320.8 1045.7h0M258.9 1055.1h0M243.3 1055.8h0M285.6 1054.1h0M308.0 1048.9h0M258.4 830.9h0M301.0 1054.3h0M279.9 1040.8h0M250.4 1042.2h0M255.2 1042.7h0M315.3 1053.5h0M304.7 1036.2h0M178.2 808.8h0M260.0 1051.8h0M300.3 1046.8h0M263.3 1054.1h0M257.7 1038.5h0M253.1 1048.3h0M246.9 1044.2h0M292.3 1030.6h0M273.2 1043.0h0M277.0 1043.7h0M356.8 931.2h0M105.5 974.3h0M302.4 1038.5h0M231.4 930.7h0M283.5 1038.9h0M252.3 1055.7h0M299.4 1046.7h0M299.5 1051.7h0M318.0 1046.7h0M299.9 1055.9h0M236.5 854.2h0M279.4 1048.3h0M312.7 1055.7h0M285.8 1044.0h0" stroke="#4EC7C4"/>
<path d="M166.5 1001.1h0M126.2 896.8h0M163.7 850.4h0M105.2 845.7h0M97.1 873.1h0M155.9 800.1h0M140.2 798.0h0M240.6 1017.5h0M122.1 870.5h0M138.5 798.0h0M118.8 826.0h0M121.5 901.0h0M258.2 863.3h0M152.5 793.3h0M148.2 803.7h0M211.8 767.9h0M108.5 910.9h0M114.4 885.9h0M130.6 792.7h0M132.1 890.2h0M152.5 789.9h0M146.4 802.3h0M94.8 891.2h0M101.6 874.2h0M103.6 851.9h0M200.0 755.9h0M293.1 905.0h0M116.2 858.0h0M181.1 962.4h0M113.0 856.9h0M103.8 873.4h0M134.9 802.3h0M186.3 958.1h0M120.2 885.9h0M182.0 858.1h0M216.1 847.8h0M179.5 825.5h0M197.9 847.8h0M98.4 852.0h0M253.9 973.9h0M149.5 801.8h0M97.4 866.8h0M115.2 910.1h0M208.8 901.0h0M120.4 804.9h0M203.4 831.5h0M241.1 933.1h0M131.6 792.9h0M214.5 834.1h0M211.1 840.7h0M109.1 886.5h0M133.2 793.8h0M101.2 925.1h0M227.4 913.3h0M239.4 907.0h0M114.6 807.8h0M194.6 825.6h0M213.9 968.9h0M324.0 866.2h0M199.9 854.9h0M222.9 908.2h0M113.2 849.4h0M141.1 792.3h0M227.9 932.0h0M209.4 839.3h0M90.7 874.8h0M122.1 880.1h0M166.8 937.7h0M168.4 872.6h0M126.3 806.8h0M140.5 850.9h0M117.1 830.2h0M173.5 850.0h0M100.4 913.0h0M100.7 833.0h0M123.3 867.8h0M207.3 833.1h0M117.4 834.5h0M210.1 907.6h0M270.6 1034.6h0M145.7 777.2h0M188.3 831.7h0M168.6 834.7h0M225.9 761.1h0M100.1 902.9h0M179.9 835.5h0M103.3 860.0h0M181.8 839.2h0M204.7 921.3h0M208.4 856.0h0M143.1 797.2h0M100.6 831.8h0M98.1 839.1h0M122.9 787.3h0M184.1 880.5h0M118.7 837.0h0M193.4 834.2h0M165.6 839.1h0M255.4 902.3h0M154.7 786.5h0M222.9 880.6h0M112.3 909.2h0M101.5 845.3h0M102.0 881.5h0M218.6 760.5h0M145.1 789.2h0M126.4 805.7h0M142.7 835.7h0M173.0 827.4h0M97.6 889.9h0M125.0 868.8h0M103.3 860.7h0M174.1 831.0h0M214.3 912.9h0M150.3 792.7h0M194.9 850.2h0M115.1 873.2h0M106.5 880.3h0M155.0 902.5h0M146.9 788.0h0M122.6 811.0h0M109.0 909.8h0M236.8 904.4h0M208.2 828.2h0M190.7 922.1h0M182.8 857.1h0M197.5 832.0h0M121.8 887.2h0M169.4 792.4h0M122.7 879.9h0M142.4 798.7h0M158.2 836.0h0M208.2 911.0h0M183.7 875.7h0M122.0 879.8h0M110.7 912.7h0M108.0 927.4h0M124.0 826.4h0M129.0 867.4h0M193.0 857.8h0M113.9 822.2h0M146.7 792.0h0M156.2 843.8h0M114.3 870.7h0M147.7 952.4h0M126.1 920.7h0M314.7 934.6h0M163.6 971.9h0M156.0 811.4h0M120.0 837.3h0M153.3 938.1h0M176.1 845.8h0M122.1 864.5h0M192.4 766.7h0M142.5 792.7h0M180.5 784.2h0M170.0 872.3h0M320.3 892.7h0M202.4 936.5h0M190.4 796.3h0M151.1 870.2h0M190.5 784.8h0M148.6 789.7h0M122.7 815.3h0M146.4 865.8h0M176.0 857.9h0M124.1 802.8h0M323.8 927.5h0M175.1 888.1h0M169.2 927.8h0M111.7 868.1h0M203.4 826.1h0M111.0 910.9h0M139.5 786.5h0M109.9 837.2h0M102.1 872.6h0M184.6 827.5h0M197.3 855.2h0M203.5 753.9h0M142.7 801.8h0M183.3 1037.1h0M114.9 903.4h0M208.8 1005.5h0M120.7 809.2h0M118.9 834.0h0M186.2 802.9h0M122.0 894.9h0M107.7 820.0h0M124.5 811.6h0M338.5 949.2h0M102.0 904.9h0M208.9 916.0h0M176.1 934.3h0M137.7 797.1h0M125.0 786.2h0M101.0 832.4h0M212.9 834.0h0M196.9 850.4h0M243.2 866.4h0M132.9 790.9h0M119.3 842.4h0M107.4 853.1h0M127.4 785.8h0M211.9 910.8h0M139.2 794.2h0M201.0 988.1h0M127.1 805.7h0M112.4 814.3h0M148.1 895.9h0M129.2 807.7h0M180.2 839.5h0M148.6 794.5h0M162.7 942.5h0M159.4 962.7h0M105.8 811.3h0M93.7 867.9h0M100.3 843.9h0M325.5 894.8h0M162.1 958.5h0M335.1 905.6h0M151.4 791.2h0M219.4 1010.3h0M165.8 854.7h0M128.5 943.0h0M187.4 827.9h0M134.0 785.8h0M108.4 868.8h0M106.7 902.4h0M226.4 873.9h0M210.5 828.4h0M203.8 814.3h0M151.2 795.3h0M172.9 964.2h0M121.7 818.8h0M294.0 872.6h0M193.9 829.6h0M107.2 877.5h0M111.9 818.9h0M217.4 1012.3h0M347.8 891.7h0M213.7 835.8h0M149.1 772.1h0M140.0 799.9h0M167.3 831.4h0M322.8 920.1h0M187.9 1025.0h0M91.5 886.3h0M147.3 788.9h0M124.3 784.4h0M223.2 916.4h0M165.1 854.0h0M193.0 786.1h0M126.9 892.0h0M193.5 821.0h0M204.1 828.3h0M213.7 915.0h0M270.6 1031.3h0M137.5 794.5h0M121.8 805.0h0M202.6 830.5h0M208.3 957.5h0M116.4 909.7h0M209.5 835.5h0M228.3 794.3h0M149.1 795.3h0M124.4 810.1h0M122.0 848.8h0M95.6 855.0h0M110.0 907.4h0M195.3 980.9h0M135.1 920.3h0M212.0 837.2h0M225.4 910.2h0M177.0 860.6h0M201.9 850.8h0M122.2 804.5h0M158.1 917.5h0M100.8 870.0h0M303.6 907.0h0M206.6 835.1h0M130.3 825.4h0M190.9 819.2h0M226.4 914.4h0M230.9 941.8h0M135.5 797.4h0M147.5 928.2h0M254.3 852.8h0M198.7 915.0h0M106.2 884.2h0M123.2 854.2h0M116.4 837.3h0M119.2 818.6h0M126.4 851.2h0M161.0 786.6h0M132.4 799.4h0M89.9 891.8h0M110.7 916.3h0M164.9 948.5h0M144.9 786.6h0M150.8 799.1h0M214.6 866.8h0M164.2 827.7h0M100.1 832.9h0M189.8 1025.6h0M111.3 915.6h0M195.8 758.0h0M140.3 793.5h0M114.8 833.0h0M145.1 793.4h0M119.0 902.2h0M317.8 901.7h0M208.3 910.9h0M209.1 864.2h0M110.5 886.6h0M138.9 799.5h0M315.1 905.8h0M168.5 828.1h0M119.3 886.8h0M208.8 834.4h0M311.7 928.7h0M191.6 838.2h0M244.8 987.6h0" stroke="#5BC5DC"/>
<path d="M222.2 1035.1h0M275.8 844.8h0M249.5 1011.3h0M305.6 1031.0h0M318.8 934.1h0M317.6 946.2h0M327.7 938.2h0M313.5 894.2h0M251.9 1018.9h0M298.1 891.1h0M302.7 936.0h0M317.6 933.2h0M228.5 946.5h0M318.3 932.0h0M298.4 1024.5h0M252.9 925.4h0M226.3 936.4h0M239.8 960.6h0M241.4 793.0h0M313.4 977.7h0M321.9 944.5h0M351.3 925.6h0M225.4 935.2h0M224.5 952.2h0M199.2 849.7h0M283.9 955.9h0M230.4 950.4h0M318.9 931.5h0M313.8 936.9h0M325.5 940.7h0M226.0 939.4h0M240.9 990.3h0M291.1 870.1h0M312.8 951.7h0M340.5 886.7h0M303.7 938.4h0M292.3 995.2h0M246.3 998.0h0M240.9 816.8h0M300.5 1047.0h0M249.3 1055.6h0M236.5 864.1h0M261.9 982.0h0M299.4 896.7h0M182.5 770.7h0M310.3 1010.5h0M312.4 941.7h0M244.6 948.9h0M319.9 938.6h0M237.3 963.5h0M271.0 930.9h0M317.6 948.8h0M300.6 985.8h0M309.8 949.3h0M324.2 941.6h0M248.7 994.6h0M276.8 1023.2h0M330.0 979.9h0M229.4 935.1h0M323.5 938.6h0M317.2 935.3h0" stroke="#7DB61C"/>
<path d="M226.1 1014.7h0M278.0 945.7h0M334.0 954.7h0M300.6 941.9h0M332.9 941.5h0M298.1 1016.9h0M304.4 910.6h0M333.0 949.9h0M330.2 927.7h0M274.8 1001.0h0M328.8 928.9h0M303.8 889.9h0M307.8 911.0h0M302.2 917.1h0M258.7 1033.7h0M306.4 909.9h0M340.1 928.8h0M283.9 1054.5h0M300.0 908.9h0M292.7 884.9h0M298.8 918.3h0M268.8 893.8h0M233.3 991.1h0M227.6 856.0h0M276.4 861.7h0M299.6 916.5h0M330.3 946.8h0M327.4 930.3h0M339.5 941.2h0M306.5 1036.8h0M338.0 931.0h0M325.0 931.3h0M279.3 840.9h0M330.6 929.4h0M243.0 771.5h0M266.9 903.7h0M293.0 942.7h0M265.2 1047.5h0M301.0 1030.5h0M283.2 897.1h0M302.3 922.7h0M246.6 787.3h0M278.3 712.3h0M304.9 950.9h0M296.9 922.8h0M302.2 910.3h0M314.7 891.6h0M340.0 937.5h0M258.6 989.6h0M307.2 929.2h0M275.2 846.5h0M284.8 853.3h0M329.4 908.6h0M141.0 878.7h0M286.9 855.9h0M261.1 867.9h0M296.4 935.1h0M326.6 939.3h0M301.0 927.4h0M322.0 964.7h0M299.7 917.4h0M340.3 939.0h0M299.8 921.6h0M342.6 933.9h0M297.1 928.1h0M340.4 938.8h0M339.0 930.6h0M169.1 887.4h0M338.8 936.0h0M229.2 897.0h0M237.2 807.4h0M302.2 868.3h0M235.2 875.0h0M168.8 789.7h0M327.9 934.8h0M300.5 908.7h0M268.4 902.7h0M271.1 849.2h0" stroke="#E8832B"/>
<path d="M250.0 725.2h0M253.7 741.5h0M224.4 720.8h0M208.0 732.5h0M196.4 727.0h0M272.3 723.3h0M191.6 726.7h0M272.0 723.7h0M220.3 730.3h0M189.8 921.5h0M274.7 732.3h0M201.8 721.1h0M193.3 730.2h0M194.4 732.0h0M282.0 726.1h0M259.3 750.6h0M223.3 737.8h0M276.5 720.7h0M211.1 732.5h0M218.3 733.2h0M275.1 723.2h0M257.5 766.6h0M259.3 735.6h0M271.1 724.8h0M250.4 730.0h0M223.7 730.7h0M277.7 786.5h0M201.8 718.3h0M269.4 761.0h0M256.8 739.1h0M203.3 724.8h0M259.7 729.6h0M251.6 737.7h0M200.6 737.2h0M255.3 747.0h0M272.4 766.9h0M276.7 781.3h0M201.8 714.6h0M259.6 721.6h0M267.3 718.3h0M201.9 732.6h0M211.6 728.8h0M215.7 732.8h0M206.1 725.0h0M247.9 726.0h0M276.5 773.3h0M286.8 729.7h0M272.4 762.1h0M267.1 761.0h0M196.8 721.8h0M194.1 720.1h0M261.6 745.6h0M203.0 727.7h0M190.1 728.5h0M269.9 770.2h0M211.2 728.3h0M288.9 722.2h0M252.3 752.5h0M269.3 770.9h0M225.1 729.8h0M191.3 720.3h0M217.7 738.7h0M252.6 749.5h0M292.9 734.2h0M257.0 755.1h0M203.5 737.2h0M285.4 727.5h0M200.1 716.5h0M268.3 750.4h0M197.4 732.3h0M196.7 718.8h0M269.3 758.7h0M264.1 774.6h0M190.9 730.7h0M198.1 720.7h0M283.1 728.9h0M206.4 715.8h0M270.5 716.9h0M259.2 758.4h0M214.5 732.9h0M219.3 727.3h0M213.4 731.2h0M287.2 732.7h0M271.3 781.5h0M251.7 736.2h0M281.6 724.2h0M191.5 734.2h0M192.0 719.5h0M199.3 728.2h0M252.6 737.3h0M212.5 722.4h0M218.0 720.3h0M204.4 716.7h0M189.7 730.1h0M260.3 732.9h0M201.1 723.7h0M268.1 755.9h0M252.8 741.0h0M260.2 766.8h0M252.6 746.3h0M275.4 725.6h0M289.4 733.4h0M192.8 731.3h0M272.4 781.5h0M277.7 768.0h0M271.6 761.3h0M278.7 772.0h0M284.1 720.5h0M263.6 756.4h0M290.0 728.4h0M197.3 718.1h0M247.1 738.2h0M259.7 730.2h0M268.8 772.7h0M294.2 729.8h0M250.8 721.4h0M214.9 737.5h0M273.9 767.0h0M197.4 717.1h0M201.5 715.2h0M203.9 712.5h0M270.3 722.2h0M197.2 728.5h0M264.0 773.7h0M211.2 737.3h0M261.1 723.0h0M280.3 719.8h0M191.9 733.3h0M257.6 742.2h0M251.2 746.9h0M269.3 759.0h0M205.6 724.5h0M270.5 759.7h0M270.8 726.3h0M289.4 724.3h0M208.3 729.8h0M270.3 758.5h0M211.3 730.7h0M277.4 722.6h0M197.2 734.6h0M206.8 729.7h0M268.1 719.7h0M255.9 752.2h0M199.8 720.3h0M288.0 729.5h0M277.6 729.4h0M202.0 737.2h0M283.6 720.4h0M217.9 727.8h0M267.5 757.9h0M182.8 725.4h0M218.7 734.1h0M194.5 720.4h0M265.2 775.7h0M272.0 770.6h0M258.2 728.3h0M292.8 736.7h0M261.6 748.0h0M208.8 737.1h0M257.6 728.7h0M279.2 777.4h0M210.4 736.8h0M263.8 775.8h0M262.8 770.1h0M254.9 737.5h0M289.8 727.6h0M294.2 729.6h0M200.9 714.6h0M270.2 760.0h0M270.3 725.9h0M225.5 736.2h0M283.1 726.1h0M187.9 723.7h0M219.8 724.6h0M203.3 716.5h0M250.5 744.3h0M220.4 729.4h0" stroke="#BF9B20"/>
<path d="M213.1 982.4h0M179.2 899.8h0M183.6 862.4h0M197.0 977.8h0M167.6 818.3h0M188.7 893.0h0M205.8 966.1h0M198.2 880.6h0M180.6 890.0h0M175.7 884.5h0M192.0 878.7h0M174.3 882.1h0M184.1 887.6h0M207.3 988.9h0M190.6 864.2h0M187.4 864.7h0M194.3 897.2h0M193.8 979.5h0M178.5 867.6h0M212.2 978.9h0M333.7 1035.2h0M205.9 969.6h0M194.5 866.8h0M216.0 986.9h0M185.7 891.6h0M190.4 887.2h0M206.8 984.3h0M278.5 1009.6h0M201.0 974.2h0M186.0 863.8h0M188.6 883.8h0M218.3 990.3h0M218.4 985.6h0M200.8 974.1h0M206.8 987.8h0M195.9 979.5h0M193.7 871.5h0M106.4 870.7h0M217.6 844.5h0M174.2 892.8h0M211.1 971.7h0M223.4 986.7h0M221.3 991.7h0M207.4 966.1h0M165.6 816.4h0M332.3 999.3h0M172.7 866.6h0M200.1 971.9h0M181.5 876.6h0M218.4 764.0h0M250.9 971.7h0M200.7 979.3h0M207.9 973.3h0M177.4 885.0h0M182.5 883.0h0M328.4 910.5h0M172.4 865.9h0M283.5 1001.6h0M212.7 980.4h0M200.9 983.9h0M164.7 924.8h0M199.6 970.7h0M214.7 996.4h0M206.6 970.6h0M265.4 897.4h0M153.4 802.9h0M160.4 822.8h0M179.6 878.2h0M168.1 889.4h0M195.4 877.8h0M170.3 897.2h0M194.0 982.2h0M305.1 973.9h0M243.0 959.1h0M218.3 997.5h0M213.3 986.7h0M212.9 988.0h0M171.8 892.4h0M187.2 866.8h0M208.3 993.4h0M201.5 984.7h0M223.2 986.8h0M222.2 983.9h0M197.8 972.6h0M179.9 873.0h0M187.0 895.7h0M175.4 886.2h0M239.8 825.3h0M310.2 946.9h0M214.9 986.2h0M163.1 817.2h0M170.6 891.1h0M180.7 880.5h0M192.2 864.6h0M208.5 972.3h0M171.9 880.3h0M196.8 876.5h0M216.1 990.5h0M184.9 865.9h0M182.7 894.2h0M201.9 982.7h0M196.5 882.3h0M177.7 897.1h0M190.7 892.3h0M213.2 976.1h0M203.3 983.4h0M207.1 979.3h0M208.9 967.9h0M196.7 982.1h0M181.9 881.6h0M207.5 970.2h0M211.4 989.4h0M194.2 897.6h0M181.0 876.8h0M212.0 983.7h0M188.0 899.4h0M199.5 882.2h0M199.4 884.5h0M134.4 827.4h0M171.8 881.3h0" stroke="#8F97DB"/>
<path d="M321.0 1026.6h0M314.6 1017.5h0M320.2 1028.2h0M324.9 1040.5h0M328.5 1042.4h0M330.2 1029.9h0M336.2 1039.8h0M331.5 1035.3h0M325.0 1030.9h0M335.6 1042.3h0M330.8 1037.1h0M333.9 1039.6h0M324.9 1043.1h0M329.8 1045.1h0M320.7 1026.3h0M324.0 1027.6h0M317.4 1025.2h0M317.7 1022.9h0M329.9 1028.0h0M319.1 1027.6h0M330.8 1037.1h0M332.4 1039.7h0M335.9 1041.3h0M331.1 1039.8h0M335.0 1040.5h0M320.9 1030.1h0" stroke="#DC9018"/>
<path d="M378.0 909.0h0M380.8 918.1h0M378.6 919.2h0M380.6 909.6h0M381.9 916.1h0M378.7 903.6h0M386.4 915.9h0M382.3 921.4h0M389.7 911.9h0M380.2 904.2h0M388.8 911.9h0M379.8 919.0h0M378.5 921.1h0M379.4 910.8h0M386.3 911.5h0M390.6 905.4h0M377.0 906.6h0" stroke="#F67F7A"/>
<path d="M267.6 810.1h0M257.6 1003.8h0M324.9 899.8h0M253.2 957.4h0M252.6 1023.7h0M317.4 909.4h0M241.8 869.4h0M227.6 905.6h0M270.7 879.8h0M240.8 908.9h0M234.2 907.9h0M233.9 908.2h0M236.8 910.0h0M263.9 1023.6h0M302.1 1024.4h0M262.8 903.0h0M330.0 992.0h0M239.6 916.3h0M300.4 928.1h0M266.3 1054.6h0M245.9 910.0h0M334.3 934.3h0M229.0 910.8h0M227.6 907.5h0M170.5 1000.1h0M248.3 819.0h0M238.3 908.4h0M281.0 1036.7h0M154.6 826.7h0M243.9 840.7h0M246.4 984.9h0M254.4 990.0h0M325.4 1020.7h0M348.6 968.6h0M282.0 931.5h0M221.8 852.3h0M241.1 905.6h0M248.4 910.1h0M190.7 805.0h0M191.8 1007.9h0M228.3 913.5h0" stroke="#F96A9C"/>
<path d="M152.6 972.9h0M184.3 938.8h0M187.8 1010.3h0M285.7 845.2h0M193.0 922.8h0M175.6 927.2h0M291.3 861.6h0M268.8 912.7h0M323.7 950.4h0M185.7 774.8h0M150.7 929.1h0M198.1 1023.6h0M155.1 788.0h0M217.1 774.6h0M120.3 855.4h0M118.8 890.5h0M104.6 851.7h0M122.0 882.1h0M115.9 894.0h0M257.0 1009.8h0M252.3 816.0h0M229.8 811.5h0M270.5 1000.0h0M152.3 969.9h0M188.2 819.6h0M122.9 805.6h0M199.7 1036.3h0M321.2 1004.0h0M314.0 943.0h0M97.9 838.2h0M185.0 813.6h0M177.4 897.3h0M187.3 768.9h0M216.3 949.5h0M196.0 1035.8h0M98.1 878.9h0M315.6 879.2h0M134.8 942.2h0M114.2 892.7h0M217.3 967.7h0M170.4 809.7h0M182.4 937.3h0M107.6 883.5h0M168.7 918.4h0M106.3 892.4h0M158.7 963.2h0M241.2 994.1h0M163.3 801.0h0M141.7 949.1h0M239.6 925.9h0M202.5 794.8h0M304.1 971.8h0M251.2 962.9h0M261.0 899.2h0M129.1 837.5h0M111.3 854.5h0M172.3 964.5h0M114.9 867.9h0M104.1 850.8h0M290.1 956.3h0M117.6 866.4h0" stroke="#3DBA5F"/>
<path d="M205.4 906.0h0M153.6 810.5h0M218.0 887.1h0M202.0 886.3h0M214.9 865.8h0M238.8 933.0h0M236.4 796.9h0M215.4 886.4h0M292.2 1021.9h0M288.3 847.4h0M205.6 832.3h0M195.3 860.3h0M127.6 920.4h0M119.6 809.2h0M304.0 1026.8h0M328.3 974.9h0M295.2 907.3h0M201.3 871.7h0M218.1 948.5h0M137.3 914.4h0M189.0 929.7h0M201.9 767.3h0M213.1 854.3h0M210.5 859.4h0M219.4 866.3h0M216.5 891.7h0M300.1 927.5h0M221.1 880.3h0M120.8 859.1h0M255.8 959.1h0M268.4 878.8h0M201.3 868.9h0M148.6 908.2h0M206.1 864.8h0M136.3 792.5h0M195.8 888.6h0M189.3 918.6h0M216.6 995.5h0" stroke="#5CB4E0"/>
<path d="M239.8 921.5h0M306.7 882.4h0M329.6 962.9h0M324.2 979.9h0M258.5 974.5h0M175.7 785.5h0M297.2 889.8h0M236.9 895.0h0M235.8 1008.7h0M186.0 993.4h0M306.8 890.8h0M203.5 796.6h0M298.9 900.3h0M324.8 983.8h0M250.2 977.0h0M250.5 1043.0h0M182.6 985.7h0M298.4 891.9h0M302.8 892.2h0M321.4 962.6h0M296.0 990.3h0M325.2 1009.6h0M274.7 867.3h0M302.5 879.2h0M320.4 995.1h0M197.6 797.4h0M302.4 877.5h0M257.5 1025.1h0M322.6 903.2h0M239.0 973.4h0M223.7 919.1h0M284.4 918.9h0M324.9 1001.0h0M153.5 892.1h0M318.6 992.2h0M250.1 983.9h0M327.6 903.8h0M247.7 919.8h0M237.4 870.8h0M294.3 922.6h0M245.9 1006.8h0M314.6 996.8h0M253.1 836.9h0M330.4 914.6h0M322.6 1002.9h0M323.5 967.5h0M282.7 1031.0h0M330.9 970.4h0M269.6 987.3h0M196.9 784.6h0M276.3 962.3h0M250.4 978.2h0M326.5 967.3h0M303.3 890.8h0M256.9 957.7h0M299.9 887.8h0M319.6 1011.0h0M249.3 921.3h0M254.7 1031.7h0M307.2 1028.2h0M328.2 1010.3h0M323.7 1006.2h0M249.8 921.8h0M240.3 908.6h0M230.3 938.6h0M341.2 917.0h0M333.9 938.8h0M139.2 936.3h0M281.0 814.7h0M238.4 1016.5h0M278.0 957.6h0M242.9 968.8h0M236.1 920.3h0M171.6 977.9h0M304.6 878.3h0M250.4 1045.1h0M263.4 987.2h0M265.8 991.5h0M346.8 947.4h0M298.3 900.0h0M299.5 885.3h0M301.7 895.1h0M329.2 1006.0h0M325.9 1010.3h0M325.2 970.6h0M318.7 969.1h0M254.9 972.0h0M254.8 1017.2h0M260.6 929.8h0M264.8 985.8h0M317.0 982.3h0M262.1 975.0h0M323.6 1012.4h0M240.1 909.2h0M256.4 984.3h0M295.7 886.6h0M235.9 977.7h0M301.0 897.6h0M330.9 964.2h0M241.4 1008.6h0M207.4 792.7h0M321.4 967.7h0M256.2 978.2h0M251.7 921.6h0M247.7 969.3h0M254.4 981.8h0M292.9 1035.9h0M298.0 878.4h0M330.4 1013.6h0M314.0 1001.3h0M223.4 748.2h0M351.5 933.3h0M243.6 909.6h0M317.6 967.5h0M317.6 997.7h0M303.8 908.6h0M238.5 971.5h0M232.4 738.1h0M293.7 891.7h0M251.4 969.0h0M269.5 985.3h0M324.4 998.9h0M191.8 789.9h0M264.0 985.1h0M332.8 972.9h0M318.2 979.9h0M303.8 900.2h0M195.7 790.6h0M332.9 999.9h0M247.7 982.1h0M320.1 990.7h0M302.1 886.7h0M318.1 977.6h0M243.0 905.3h0M287.1 922.4h0M193.0 793.3h0M207.1 790.7h0M294.8 888.8h0M236.1 914.1h0M329.0 968.6h0M240.9 844.7h0M326.6 1010.4h0M253.2 979.2h0M275.8 1008.4h0M328.3 1003.8h0M325.2 1001.7h0M314.4 1004.3h0M251.9 970.3h0M297.0 909.1h0M153.1 918.2h0M348.9 934.9h0M221.8 745.5h0M136.3 825.9h0M331.0 981.3h0M329.6 966.4h0M239.6 909.6h0" stroke="#B887DE"/>
<path d="M191.2 921.7h0M161.1 856.7h0M227.1 1008.6h0M247.2 897.4h0M203.9 922.4h0M160.3 911.9h0M298.9 937.9h0M139.6 913.0h0M232.2 799.5h0M191.0 941.7h0M163.9 916.1h0M207.6 1012.3h0M222.7 1025.7h0M195.9 920.0h0M174.7 961.7h0M200.7 965.1h0M192.3 950.4h0M176.8 924.9h0M204.9 945.7h0M349.4 883.9h0M182.2 993.0h0M121.0 822.9h0M162.8 924.1h0M153.7 885.5h0M155.8 938.9h0M360.3 922.9h0M210.1 1005.4h0M194.4 940.4h0M181.3 960.6h0M183.7 939.9h0M199.9 922.9h0M158.9 853.8h0M158.6 853.6h0M169.8 854.0h0M163.2 864.2h0M97.3 871.2h0M174.3 926.5h0M180.2 958.6h0M155.4 939.9h0M214.5 1014.9h0M187.7 922.4h0M144.8 873.4h0M219.8 1012.5h0M161.6 947.0h0M151.9 941.5h0M158.5 918.2h0M185.9 955.3h0M207.1 1009.4h0M143.7 917.5h0M161.8 849.3h0M140.7 855.9h0M176.3 942.9h0M234.1 1023.5h0M149.2 919.0h0M141.0 870.4h0M208.0 931.3h0M187.2 952.4h0M129.1 863.3h0M131.7 867.7h0M167.8 930.7h0M149.3 899.3h0M132.5 861.0h0M147.7 858.6h0M205.3 1006.6h0M177.9 864.5h0M351.9 883.9h0M265.8 967.9h0M161.6 869.7h0M180.5 932.8h0M162.1 921.8h0M151.6 890.8h0M185.0 951.7h0M201.2 934.8h0M229.0 1006.5h0M144.6 875.7h0M196.5 944.9h0M158.6 915.9h0M187.1 940.3h0M144.0 872.6h0M145.4 850.6h0M157.5 941.0h0M228.7 1006.3h0M193.4 956.7h0M247.7 871.0h0M263.3 1037.8h0M189.8 955.9h0M266.8 1022.2h0M205.8 941.4h0M146.2 862.9h0M179.1 938.0h0M204.3 945.4h0M140.8 853.8h0M169.3 943.2h0M192.4 955.9h0M198.0 942.3h0M186.4 925.1h0M156.3 873.6h0M169.0 854.0h0M155.3 938.1h0M162.0 870.8h0M161.7 934.9h0M205.8 927.9h0M232.1 1016.3h0M163.8 866.7h0M351.7 887.1h0M182.4 939.4h0M183.7 999.7h0M159.2 870.2h0M177.6 923.0h0M206.8 925.9h0M173.5 959.0h0M224.7 1017.8h0M161.7 921.9h0M174.6 957.4h0M230.4 1012.7h0M162.9 940.7h0M164.1 913.2h0M301.0 933.5h0M155.4 939.9h0M175.0 925.1h0M143.8 862.9h0M243.5 1022.5h0M155.7 905.9h0M166.4 939.2h0M202.8 920.9h0M153.8 931.6h0M218.6 1006.0h0M337.3 905.2h0M166.6 873.8h0M164.2 944.8h0M346.9 884.8h0M212.0 1010.6h0M143.2 852.8h0M227.6 888.0h0M171.1 950.0h0M241.6 1023.7h0M138.8 821.9h0M151.2 856.9h0M178.7 954.8h0M209.4 927.1h0M186.8 995.5h0M153.3 936.0h0M139.3 854.0h0M230.2 1026.6h0M143.0 858.4h0M175.3 845.6h0M144.3 900.2h0M169.4 945.0h0M223.0 1030.4h0M155.6 906.6h0M161.8 879.0h0M220.2 1020.3h0M148.0 872.7h0M202.6 928.9h0M167.4 851.6h0M198.0 918.5h0M170.0 915.6h0M187.8 923.0h0M162.7 937.2h0M151.3 905.5h0M157.4 849.6h0M149.2 865.2h0M321.5 894.2h0M229.7 1023.9h0M192.3 921.8h0M187.8 964.6h0M179.8 991.6h0M143.4 916.1h0M152.2 878.3h0M168.8 960.0h0M201.7 935.4h0M212.9 783.5h0M171.3 942.6h0M142.9 863.4h0M149.5 918.5h0M216.3 1012.9h0M156.5 863.3h0M165.7 937.4h0M168.2 853.1h0M348.9 884.7h0M197.3 918.9h0M158.3 857.9h0M291.7 852.6h0M186.3 950.6h0M327.9 875.7h0M179.7 964.8h0M264.7 982.3h0M151.8 914.6h0M170.8 931.0h0M233.2 1055.8h0M220.5 1020.1h0M222.5 1009.7h0M182.6 915.6h0M142.4 862.1h0M217.9 1018.6h0M239.1 1028.0h0M189.0 948.1h0M244.1 791.1h0M234.2 1028.8h0M175.8 932.9h0M155.9 916.1h0M198.0 940.7h0M233.3 968.4h0M134.4 862.4h0M166.3 863.8h0M234.4 1022.8h0M193.4 952.5h0M189.0 921.9h0M145.4 868.5h0M158.0 852.6h0M235.3 1016.3h0M228.5 1025.1h0M280.4 1028.3h0M158.7 883.5h0M348.6 892.3h0M162.5 859.9h0M185.2 993.8h0M176.3 977.6h0M185.4 941.0h0M198.9 929.6h0M223.4 1031.7h0M183.8 994.7h0M182.9 959.1h0M145.6 903.9h0M164.6 850.4h0M199.8 933.3h0M142.0 947.7h0M227.5 1026.8h0M191.7 954.8h0M232.1 1028.1h0M193.5 955.2h0M203.8 943.1h0M149.7 853.9h0M130.6 865.5h0M184.4 948.7h0M150.6 933.5h0M208.3 940.7h0M157.0 874.2h0M209.2 944.9h0M226.2 815.4h0M349.4 883.7h0" stroke="#A5A72A"/>
<path d="M254.7 975.9h0M248.8 838.2h0M287.2 1044.9h0M247.2 815.5h0M249.1 824.2h0M208.6 925.8h0M301.6 912.4h0M209.7 759.6h0M254.6 818.0h0M250.6 928.3h0M293.9 999.1h0M249.4 839.8h0M294.4 886.2h0M266.3 957.9h0M339.8 913.6h0M276.4 944.7h0M242.6 969.9h0M192.1 772.6h0M334.0 905.8h0" stroke="#DC68B7"/>
<path d="M125.5 934.4h0M147.7 781.9h0M255.9 887.2h0M254.1 902.7h0M210.0 877.4h0M138.8 782.4h0M235.2 824.2h0M137.4 783.7h0M197.0 866.6h0M314.9 875.2h0M204.1 874.2h0M197.6 871.9h0M130.3 922.7h0M149.4 784.0h0M218.9 879.8h0M187.5 835.6h0M199.0 852.0h0M194.9 870.3h0M222.6 812.0h0M169.5 853.3h0M245.5 833.8h0M113.5 898.7h0M254.0 775.5h0M305.2 864.1h0M209.9 873.5h0M253.6 921.4h0M215.7 870.3h0M202.5 1034.4h0M209.3 897.3h0M183.8 836.8h0M205.8 854.2h0M195.4 874.2h0M210.9 895.3h0M166.4 847.8h0M122.6 898.2h0M186.2 836.6h0M207.3 869.9h0M314.8 974.6h0M173.5 850.6h0M314.1 1010.1h0M144.1 784.1h0M136.0 782.9h0M196.8 873.2h0M139.1 788.9h0M210.3 861.6h0M203.2 872.1h0M150.7 785.2h0M208.7 893.2h0M166.1 831.8h0M201.5 853.3h0M183.2 829.5h0M168.4 854.1h0M169.2 833.5h0M117.0 897.6h0M204.6 886.4h0M153.0 917.7h0M217.4 892.6h0M281.6 869.1h0M204.1 846.0h0M308.8 821.4h0M213.0 880.6h0M215.5 880.3h0M301.6 856.1h0M202.5 912.4h0M202.8 855.1h0M209.4 908.3h0M198.1 863.4h0M175.8 828.7h0M205.3 847.0h0M142.5 788.1h0M208.0 853.3h0M202.4 872.7h0M262.8 998.9h0M202.2 856.2h0M197.9 889.5h0M211.9 868.9h0M188.7 837.0h0M205.3 861.2h0M142.8 786.5h0M203.6 873.8h0M202.3 859.0h0M216.8 895.3h0M222.0 865.5h0" stroke="#5F9FD8"/>
<path d="M346.7 905.9h0M204.0 776.2h0M265.9 924.6h0M251.2 944.0h0M271.3 926.2h0M269.6 926.7h0M266.2 937.7h0M161.0 842.3h0M285.1 960.6h0M281.7 948.6h0M233.1 1015.8h0M275.2 954.3h0M258.6 919.3h0M270.3 937.9h0M272.6 964.8h0M275.1 969.9h0M270.2 964.4h0M262.2 927.0h0M259.8 920.0h0M219.1 793.8h0M265.0 951.9h0M269.9 962.3h0M262.1 955.0h0M280.5 941.1h0M281.0 939.7h0M259.9 918.1h0M265.8 970.9h0M273.2 931.2h0M259.8 948.9h0M345.9 909.1h0M255.5 948.5h0M256.7 942.1h0M269.9 939.7h0M143.0 802.3h0M263.0 926.3h0M260.5 950.0h0M263.6 931.6h0M261.3 934.3h0M252.6 939.7h0M259.2 951.6h0M275.0 930.5h0M266.2 951.9h0M262.8 954.7h0M277.6 968.8h0M274.8 932.3h0M280.1 946.0h0M256.1 834.7h0M256.6 921.6h0M300.2 903.4h0M271.2 952.9h0M262.0 959.3h0M276.2 953.4h0M266.6 952.8h0M249.9 921.9h0M269.8 942.5h0M276.5 951.3h0M260.0 946.6h0M269.8 932.2h0M252.1 935.2h0M260.4 927.1h0M251.0 945.3h0M119.0 874.1h0M274.4 946.3h0M278.4 938.5h0M251.1 923.5h0M331.8 913.5h0M265.2 952.4h0M267.0 954.0h0M271.4 966.7h0M272.0 970.0h0M264.7 935.7h0M270.7 939.1h0M268.4 957.2h0M270.4 934.6h0M276.3 949.9h0M274.4 967.5h0M260.6 1027.0h0M268.7 958.7h0M276.3 956.1h0M267.0 922.0h0M215.4 794.1h0M274.3 928.9h0M277.9 942.5h0M291.7 914.0h0M285.9 957.0h0M276.1 968.0h0M270.2 962.7h0M283.2 972.0h0M254.7 871.9h0M267.8 967.1h0M266.5 952.6h0M254.3 943.3h0M223.7 790.0h0M260.9 922.8h0M262.1 920.6h0M322.2 1009.7h0M260.7 947.6h0M267.2 938.1h0M283.8 970.2h0M270.3 947.8h0M271.4 965.3h0M266.5 951.1h0M254.0 947.3h0M269.4 963.3h0M155.3 960.2h0M259.9 943.8h0M163.2 896.4h0M277.9 965.0h0M322.6 861.4h0M314.9 1042.4h0M254.8 952.6h0M275.9 931.8h0M128.4 796.9h0M267.5 928.0h0M272.3 932.6h0M260.3 937.1h0M274.6 959.2h0M251.5 917.7h0M308.7 1018.9h0M273.7 974.7h0M274.1 952.8h0M290.1 1004.4h0M275.8 932.0h0M258.9 921.2h0M266.4 935.9h0M220.7 794.6h0M271.6 945.1h0M272.6 939.5h0M270.7 966.5h0M253.5 935.2h0M270.2 925.9h0M248.9 964.4h0M282.3 968.8h0M265.0 966.2h0M215.8 794.2h0M277.1 923.2h0M262.2 917.5h0M278.3 958.3h0M264.5 929.7h0M265.7 952.3h0M239.8 1017.6h0M262.0 958.4h0" stroke="#22B02A"/>
<path d="M269.5 718.8h0M265.2 718.7h0M280.3 727.4h0M249.8 732.3h0M288.5 731.8h0M258.7 731.6h0M271.7 764.3h0M270.1 764.2h0M217.6 733.0h0M198.1 724.6h0M195.0 716.0h0M213.7 727.1h0M260.6 761.0h0M191.1 721.2h0M267.5 727.3h0M252.6 739.9h0M276.2 723.7h0M263.7 723.3h0M270.8 716.7h0M262.5 745.9h0M271.8 761.7h0M266.5 724.9h0M262.3 758.3h0M227.9 728.6h0M286.8 732.5h0M221.9 729.5h0M251.6 719.8h0M274.0 786.6h0M225.4 729.0h0M214.4 720.2h0M250.9 754.7h0M205.1 737.3h0M269.4 772.0h0M267.5 783.7h0M268.2 723.6h0M289.5 724.5h0M224.2 724.9h0M294.7 726.4h0M205.8 728.0h0M287.4 724.1h0M211.2 724.9h0M283.1 721.7h0M259.4 745.9h0M217.0 739.7h0M277.3 786.7h0M194.5 721.6h0M251.9 760.0h0M283.2 724.8h0M251.6 741.7h0M250.8 738.0h0M277.3 767.7h0M269.9 764.8h0M256.4 740.5h0M195.4 716.0h0M256.5 749.9h0M258.3 721.6h0M259.1 761.4h0M228.1 729.6h0M252.4 742.7h0M263.4 742.0h0M227.2 727.4h0M239.7 732.2h0M195.6 719.7h0M190.6 729.7h0M284.7 719.1h0M267.5 725.8h0M263.1 754.1h0M259.4 756.4h0M258.6 730.9h0M272.2 762.4h0M259.9 756.8h0M251.0 749.7h0M258.4 760.8h0M269.6 752.6h0M260.0 748.6h0M256.1 729.0h0M291.2 733.3h0M210.1 726.4h0M199.0 725.6h0M284.8 728.0h0M268.4 758.1h0M196.9 736.6h0M217.6 725.0h0M189.9 729.4h0M201.2 736.5h0M251.8 758.8h0M192.5 733.0h0M259.3 746.9h0M248.7 721.4h0M260.9 747.0h0M270.6 763.6h0M278.2 727.8h0M254.7 736.0h0M217.8 725.7h0M252.8 758.5h0M215.1 725.0h0M111.8 892.1h0M189.3 726.9h0M216.0 734.4h0M197.0 736.1h0M199.7 732.5h0M284.2 732.2h0M273.0 726.5h0M287.9 731.4h0M259.9 744.6h0M253.0 724.3h0M197.7 715.7h0M201.5 736.3h0M290.2 726.8h0M276.6 779.6h0M250.9 739.0h0M276.6 725.0h0M266.3 778.7h0M220.9 735.5h0M259.6 726.0h0M202.4 718.1h0M254.9 740.0h0M191.2 721.9h0M284.2 881.6h0M258.6 733.2h0M271.2 767.4h0M262.3 765.5h0M252.6 744.5h0M196.5 729.7h0M193.4 720.5h0M271.5 761.8h0M196.1 731.5h0M219.3 735.6h0M270.4 761.3h0M252.2 738.0h0M259.0 749.9h0M256.6 753.6h0M196.2 719.9h0M272.1 763.7h0M220.6 719.5h0M259.5 750.6h0M275.1 771.5h0M264.0 767.4h0M274.2 761.2h0M216.9 748.2h0M219.7 725.2h0M191.1 722.6h0M284.9 723.5h0M262.2 762.7h0M252.4 740.6h0M274.1 767.4h0M292.3 730.0h0M267.6 729.5h0M282.2 731.8h0M273.3 772.5h0M251.3 731.0h0M269.4 729.9h0M292.8 732.3h0M199.5 716.6h0M215.4 738.4h0M197.2 732.8h0M214.6 736.6h0M269.4 727.1h0M203.8 716.4h0M266.1 717.6h0M214.4 733.2h0M206.6 722.7h0M270.4 760.9h0M192.6 735.5h0M262.6 730.6h0M207.2 712.6h0M259.3 724.2h0M273.1 777.0h0M311.4 919.7h0M276.3 721.2h0M261.5 745.0h0M199.0 724.8h0M258.4 737.8h0M284.6 726.7h0M254.2 737.3h0M278.2 720.3h0M213.1 723.3h0" stroke="#BF9B20"/>
<path d="M264.7 1048.4h0M325.5 886.2h0M174.1 777.1h0M218.1 794.5h0M244.9 970.7h0M123.1 749.8h0M250.0 899.8h0M245.8 900.5h0M321.9 934.1h0M177.0 790.9h0M248.3 873.0h0M181.5 781.8h0M332.1 988.9h0M264.5 996.2h0M131.4 725.5h0M120.7 764.6h0M240.6 1057.2h0M129.3 781.3h0M135.0 721.6h0M219.0 799.2h0M177.2 774.4h0M161.9 773.6h0M134.9 722.4h0M271.1 857.8h0M167.7 776.5h0M167.1 774.0h0M296.8 979.8h0M291.4 990.2h0M342.0 919.2h0M124.3 748.9h0M247.7 874.2h0M226.5 803.1h0M138.2 719.9h0M132.7 724.3h0M247.3 897.4h0M126.3 727.7h0M132.7 723.9h0M124.2 745.2h0M207.0 920.5h0M125.0 741.6h0M315.2 950.0h0M237.6 981.2h0M133.3 727.1h0M287.2 992.5h0M253.8 816.7h0M169.2 776.0h0M133.7 728.4h0M120.7 760.8h0M191.8 770.3h0M185.6 782.5h0M268.1 981.2h0M123.3 766.7h0M244.3 967.6h0M299.5 981.9h0M249.0 875.8h0M239.5 878.9h0M135.1 727.0h0M114.9 878.9h0M167.0 777.7h0M245.6 876.7h0M336.3 912.8h0M128.0 777.2h0M291.4 996.2h0M246.5 901.5h0M166.6 771.2h0M176.1 793.9h0M294.6 979.8h0M294.1 980.2h0M276.4 888.1h0M226.6 809.1h0M164.8 782.2h0M242.5 868.0h0M157.6 774.7h0M167.9 774.6h0M326.4 947.1h0M287.4 991.4h0M164.9 783.2h0M127.8 730.2h0M122.6 740.1h0M280.9 929.6h0M135.3 727.2h0M123.5 755.3h0M290.8 919.3h0M228.1 839.1h0M182.4 783.2h0M138.7 729.6h0M134.3 780.2h0M230.4 913.7h0M305.2 995.4h0M278.5 974.6h0M247.6 1057.0h0M289.5 984.6h0M138.5 734.3h0M127.8 776.4h0M174.4 775.7h0M168.3 781.7h0M266.6 921.6h0M123.1 763.0h0M255.2 972.1h0M256.4 895.2h0M237.5 977.1h0M126.3 778.6h0M303.7 977.6h0M255.0 959.1h0M225.3 809.2h0M236.7 976.2h0M165.7 775.8h0M239.7 996.3h0M239.9 1014.0h0M259.1 1020.9h0M239.7 870.6h0M136.1 937.8h0M173.1 780.6h0M179.3 782.0h0M289.0 983.8h0M172.7 774.5h0M121.7 764.5h0M134.2 729.2h0M264.7 986.5h0M134.6 733.9h0M266.3 887.2h0M124.9 733.8h0M121.1 761.9h0M256.0 986.9h0M159.5 773.7h0M324.7 1001.7h0M311.7 1053.9h0M300.5 881.2h0M121.5 940.9h0M132.8 905.0h0M220.5 794.2h0M290.2 948.3h0M129.3 778.6h0M138.6 730.0h0M302.7 990.9h0M265.0 982.0h0M262.2 925.6h0M257.1 973.0h0M170.6 777.7h0M282.1 933.6h0M130.4 749.7h0M251.0 890.0h0M262.2 1011.0h0M136.6 735.8h0M302.3 980.5h0M253.6 980.1h0M286.3 983.8h0M285.5 991.7h0M171.9 778.0h0M276.4 947.9h0M330.6 1029.2h0M171.8 779.2h0M136.0 729.3h0M135.7 725.0h0M166.1 776.9h0M263.6 1009.4h0M272.7 787.9h0M177.5 795.5h0M135.7 725.4h0M286.5 995.3h0M253.5 981.6h0M252.5 893.4h0M137.9 726.4h0M132.6 725.7h0" stroke="#D073D3"/>
<path d="M255.0 987.9h0M302.3 1010.8h0M261.6 975.2h0M258.4 986.1h0M329.5 974.5h0M250.5 970.5h0M302.8 905.4h0M304.2 879.8h0M256.9 835.7h0M251.8 971.9h0M255.6 903.9h0M244.5 906.2h0M260.1 1015.8h0M263.1 815.7h0M320.1 974.6h0M325.9 964.2h0M269.2 979.6h0M300.5 891.9h0M242.9 912.8h0M302.1 894.0h0M322.9 992.8h0M324.3 996.6h0M306.1 895.0h0M243.4 967.4h0M302.8 882.9h0M254.0 971.7h0M177.7 981.4h0M232.8 976.4h0M237.8 849.2h0M316.2 981.8h0M292.5 921.6h0M300.3 893.4h0M246.1 907.1h0M244.1 978.2h0M324.6 1001.9h0M318.2 993.8h0M281.4 985.9h0M305.4 879.6h0M313.7 996.4h0M250.7 981.1h0M282.6 1017.6h0M317.5 982.3h0M333.7 970.0h0M264.4 972.2h0M352.5 939.5h0M275.5 796.9h0M162.5 978.8h0M207.9 799.0h0M248.1 966.8h0M264.4 967.9h0M256.6 798.5h0M191.7 794.5h0M195.8 794.3h0M322.8 1001.3h0M233.0 920.2h0M306.8 884.4h0M237.7 920.3h0M244.9 979.9h0M298.9 895.2h0M305.6 882.1h0M238.2 918.5h0M234.1 973.6h0M192.3 793.8h0M328.5 968.7h0M274.1 882.8h0M200.4 789.5h0M231.4 829.3h0M240.6 975.7h0M235.8 981.3h0M330.4 974.8h0M240.9 979.6h0M164.0 786.6h0M298.5 874.5h0M328.8 943.4h0M196.8 797.3h0M256.5 784.0h0M360.6 940.6h0M193.7 795.3h0M356.0 937.1h0M261.8 972.3h0M321.0 995.8h0M244.9 1023.7h0M240.5 974.9h0M245.5 978.4h0M247.8 970.6h0M330.2 1014.5h0M252.1 909.8h0M303.5 900.6h0M192.4 792.3h0M276.7 994.4h0M315.7 965.4h0M330.8 963.5h0M198.4 795.2h0M192.5 796.2h0M331.9 975.1h0M304.4 891.5h0M328.7 894.6h0M301.6 892.2h0M333.2 963.1h0M318.0 994.6h0M240.0 916.9h0M332.8 1011.3h0M323.3 993.1h0M308.6 1006.4h0M325.1 976.1h0M333.3 970.6h0M304.9 879.4h0M303.3 870.0h0M307.6 991.3h0M316.7 997.8h0M327.8 971.7h0M241.0 917.8h0M299.1 877.7h0M352.8 933.8h0M326.1 972.3h0M121.5 881.2h0M325.2 1004.6h0M238.2 922.5h0M250.1 1056.9h0M332.1 965.6h0M297.1 880.0h0M264.0 985.8h0M294.9 871.8h0M298.9 888.4h0M297.2 896.6h0M238.6 912.3h0M274.6 856.6h0M360.0 942.8h0M333.9 926.7h0M323.2 968.9h0M330.4 963.0h0M190.6 789.6h0M250.5 919.1h0M253.0 909.1h0M204.6 793.9h0M328.1 972.0h0M243.4 975.4h0M304.2 904.2h0M304.7 877.9h0M299.8 904.9h0M297.5 883.4h0M238.1 903.3h0M258.0 981.0h0M329.6 962.3h0M252.2 1021.2h0M227.4 855.3h0M295.4 906.8h0M265.0 982.3h0M309.1 885.6h0M234.8 908.9h0M248.6 913.9h0M299.1 878.0h0M216.9 716.5h0M294.9 891.8h0M259.7 856.4h0" stroke="#B887DE"/>
<path d="M179.8 876.5h0M247.1 925.8h0M207.8 986.6h0M169.4 821.8h0M170.0 891.2h0M185.6 866.2h0M309.8 939.9h0M173.2 869.1h0M216.4 998.0h0M187.2 884.8h0M206.2 974.8h0M212.7 988.5h0M214.1 986.4h0M205.8 966.7h0M205.3 969.0h0M170.3 893.9h0M164.7 811.7h0M182.4 892.5h0M181.4 954.9h0M206.5 968.1h0M220.1 991.3h0M207.0 986.9h0M192.2 864.3h0M205.0 966.9h0M211.9 982.4h0M178.8 872.9h0M205.6 987.4h0M193.2 882.1h0M178.5 875.8h0M286.9 992.8h0M194.2 897.9h0M288.3 864.0h0M114.7 941.0h0M187.9 869.5h0M178.3 885.3h0M201.8 986.5h0M193.6 889.2h0M171.0 883.5h0M203.4 840.9h0M193.2 888.5h0M193.5 872.1h0M183.4 861.6h0M178.1 886.8h0M203.3 971.9h0M187.1 978.1h0M182.2 862.6h0M172.1 866.3h0M207.0 967.9h0M188.9 897.1h0M301.5 1021.9h0M175.0 886.4h0M180.6 895.0h0M193.3 980.9h0M215.0 990.5h0M177.8 872.8h0M217.6 977.6h0M175.2 871.6h0M179.0 902.5h0M208.1 965.8h0M327.2 889.5h0M199.2 984.1h0M194.5 881.4h0M171.9 886.9h0M182.6 842.0h0M218.1 994.6h0M196.4 869.9h0M213.9 986.4h0M218.8 977.7h0M198.9 879.0h0M176.9 867.2h0M309.2 1054.3h0M299.5 937.8h0M164.2 815.9h0M166.2 822.3h0M201.2 968.6h0M224.0 988.5h0M286.3 932.1h0M211.1 992.5h0M202.1 984.9h0M322.1 1029.4h0M192.0 975.0h0M178.3 880.0h0M184.2 896.9h0M176.9 883.9h0M218.4 983.6h0M202.4 984.4h0M178.7 900.5h0M214.1 855.6h0M162.0 821.8h0M217.7 998.1h0M215.4 973.0h0M195.1 888.8h0M173.0 893.3h0M180.9 873.1h0M160.5 797.4h0M196.1 982.0h0M220.2 980.1h0M190.8 885.9h0M189.2 885.5h0M175.6 887.6h0M197.5 983.6h0M216.0 983.4h0M178.9 896.1h0M214.9 751.1h0M202.0 981.8h0M176.6 867.6h0M188.5 891.1h0M170.1 821.4h0M331.3 886.0h0M178.9 887.8h0M201.4 968.1h0M178.8 878.4h0M207.3 982.2h0M213.8 983.6h0M182.5 875.1h0M184.0 896.6h0M188.8 866.2h0M209.2 973.2h0M204.9 986.2h0M197.5 979.8h0" stroke="#8F97DB"/>
<path d="M299.3 895.2h0M308.6 930.2h0M298.9 916.2h0M336.8 1002.3h0M232.0 985.5h0M323.9 926.0h0M339.2 903.4h0M299.1 914.3h0M280.0 859.0h0M335.2 948.6h0M337.0 936.3h0M178.6 765.0h0M241.4 813.2h0M305.0 912.0h0M334.5 934.9h0M303.0 917.4h0M289.3 928.2h0M250.5 970.6h0M294.9 925.2h0M317.4 1054.8h0M297.3 927.9h0M336.5 987.4h0M235.9 909.0h0M274.5 849.2h0M285.5 853.9h0M237.2 817.4h0M327.2 1014.0h0M103.4 897.7h0M253.8 930.9h0M292.7 925.5h0M330.5 936.3h0M206.4 1030.8h0M248.6 866.1h0M300.6 936.8h0M326.6 926.7h0M326.4 1011.6h0M334.7 934.0h0M262.7 909.9h0M233.9 974.9h0M325.5 940.2h0M305.8 923.5h0M240.3 884.6h0M332.9 934.2h0M336.0 954.2h0M341.2 935.7h0M321.9 886.4h0M265.0 903.0h0M333.2 943.9h0M336.8 932.7h0M279.2 852.4h0M307.6 836.4h0M262.1 905.4h0M281.9 1025.2h0M267.8 1025.5h0M297.8 922.6h0M324.8 922.4h0M304.3 932.6h0M321.0 937.3h0M268.4 908.0h0M300.7 924.2h0M286.4 987.1h0M251.5 1020.9h0M349.3 945.2h0M282.2 858.1h0M243.7 1000.3h0M251.1 1012.4h0M328.1 942.9h0M282.9 840.7h0M281.0 857.5h0M254.5 842.5h0M237.1 1025.7h0M335.1 914.4h0M297.8 955.8h0M326.8 935.3h0M301.5 910.1h0M282.7 1029.0h0M328.1 932.7h0M338.7 931.7h0" stroke="#E8832B"/>
<path d="M210.0 907.7h0M210.3 851.1h0M143.6 788.5h0M203.5 868.2h0M144.5 950.5h0M265.7 980.4h0M141.7 780.6h0M199.3 864.7h0M193.8 863.6h0M204.2 844.9h0M184.5 858.3h0M336.6 907.2h0M219.4 866.9h0M239.2 778.4h0M153.7 782.6h0M149.8 781.4h0M168.7 826.8h0M211.0 890.5h0M140.5 781.8h0M217.7 900.5h0M137.5 786.3h0M210.7 884.0h0M219.0 1001.4h0M170.3 825.6h0M168.9 831.4h0M203.0 884.6h0M250.7 782.3h0M139.7 782.0h0M181.5 781.1h0M150.6 788.9h0M170.4 974.0h0M214.3 897.3h0M180.1 799.8h0M282.9 821.0h0M177.3 826.8h0M209.2 856.4h0M206.6 848.3h0M210.9 870.4h0M212.0 886.1h0M208.2 928.2h0M143.7 786.3h0M165.6 831.8h0M145.5 786.5h0M143.9 781.7h0M201.1 756.3h0M147.0 789.6h0M206.8 880.8h0M137.9 788.4h0M210.3 878.5h0M140.5 848.1h0M170.8 834.4h0M133.4 895.3h0M214.9 850.8h0M277.5 886.2h0M198.4 831.8h0M215.5 897.4h0M264.7 815.8h0M218.9 892.2h0M254.2 957.9h0M136.3 781.5h0M167.5 820.3h0M267.7 1034.2h0M152.5 783.9h0M139.7 788.2h0M200.2 899.9h0M201.4 850.5h0M139.1 781.0h0M200.2 895.9h0M201.9 842.0h0M143.7 787.6h0M203.3 900.1h0M173.5 856.2h0M206.5 877.1h0M194.6 931.5h0M279.4 816.3h0M147.9 782.9h0M171.6 853.4h0M198.3 886.2h0M179.7 1018.6h0M208.8 1025.1h0M218.3 854.0h0M153.8 781.2h0M148.8 781.1h0" stroke="#5F9FD8"/>
<path d="M309.6 998.0h0M348.1 898.2h0M229.8 849.8h0M267.7 983.8h0M262.7 865.4h0M312.2 907.5h0M220.1 755.9h0M293.6 906.3h0M263.9 833.4h0M250.6 835.1h0M192.2 803.2h0M190.8 806.1h0M251.4 887.3h0M243.8 906.6h0M323.0 884.6h0M223.0 857.3h0M160.6 920.6h0M266.5 799.0h0M333.8 890.9h0M343.2 906.1h0M347.2 906.5h0M208.1 1002.2h0M240.2 838.9h0M308.5 946.6h0M228.5 856.2h0M196.5 807.4h0M253.3 862.5h0M254.0 816.8h0M239.6 828.0h0M277.3 885.2h0M260.4 852.5h0M247.3 790.4h0M265.3 884.4h0M333.0 895.6h0M342.8 905.9h0M268.2 876.3h0M225.2 830.8h0M313.9 991.8h0M348.3 902.8h0M334.0 899.7h0M340.2 940.4h0M223.0 831.0h0M349.0 903.2h0M339.1 907.3h0M310.8 986.5h0M190.9 812.7h0M334.7 899.1h0M332.4 991.8h0M266.6 828.2h0M342.5 905.3h0M233.6 858.7h0M262.0 863.4h0M252.0 814.7h0M340.5 910.9h0M309.8 983.1h0M186.5 852.5h0M187.5 816.8h0M342.7 900.1h0M260.2 814.9h0M342.5 905.2h0M345.1 904.1h0M224.1 864.1h0M259.7 865.0h0M337.3 905.0h0M261.0 861.5h0M356.6 938.0h0M266.9 833.8h0M191.4 816.8h0M224.5 861.6h0M283.8 903.8h0M261.4 827.8h0M282.8 1043.3h0M348.9 906.4h0M223.1 858.1h0M230.9 950.2h0M265.1 846.9h0M267.4 882.6h0M340.9 909.2h0M322.6 862.5h0M227.9 828.0h0M261.4 820.1h0M240.9 863.7h0M257.1 832.8h0M254.4 840.8h0M109.0 886.6h0M263.8 862.3h0M344.1 905.0h0M234.2 850.9h0M284.0 885.6h0M280.6 908.5h0M333.3 1008.9h0M280.6 899.3h0M221.5 828.0h0M241.7 826.0h0M261.3 826.9h0M336.9 898.0h0M259.4 846.4h0M266.4 878.0h0M337.9 897.1h0M192.2 815.4h0M241.4 861.1h0M325.9 893.1h0M274.3 895.9h0M269.9 870.1h0M342.0 905.9h0M267.6 883.7h0M271.9 887.1h0M256.1 867.1h0M253.5 859.6h0M235.3 826.9h0M185.2 806.7h0M284.2 816.3h0M235.0 856.3h0M254.4 862.7h0M331.1 905.5h0M340.0 908.9h0M264.7 875.1h0M281.7 912.9h0M343.8 903.4h0M259.6 864.4h0M264.5 862.3h0M319.6 885.4h0M257.7 825.2h0M264.0 832.5h0M279.9 883.8h0M97.7 854.6h0M254.1 838.8h0M277.6 874.1h0M296.9 986.5h0M276.3 971.1h0M257.6 852.6h0M278.1 864.0h0M253.9 835.7h0M192.0 810.3h0M340.4 891.9h0M292.8 904.6h0M259.9 844.4h0M274.9 888.5h0M325.4 889.2h0M337.6 903.7h0M194.6 817.2h0M266.3 872.1h0M255.5 848.2h0M343.8 905.9h0M224.9 861.5h0M243.0 836.0h0M198.3 805.9h0M231.8 837.0h0M259.1 865.3h0M179.8 1009.9h0M237.1 869.8h0M246.7 842.2h0M259.1 823.5h0M185.8 819.7h0M192.2 808.2h0M283.2 888.1h0M346.5 904.6h0M328.5 892.9h0M334.3 908.9h0M267.7 889.7h0M194.9 808.7h0M328.9 899.4h0M260.0 847.7h0M188.9 804.3h0M313.1 989.0h0M251.7 844.6h0M271.7 1023.5h0M136.9 899.0h0M270.7 874.8h0M269.1 881.4h0M270.7 887.3h0M340.7 907.7h0M257.4 859.4h0M226.6 860.8h0M282.5 883.0h0M265.6 862.5h0M195.5 812.9h0M335.9 898.3h0M266.2 854.4h0M286.2 885.3h0M245.2 832.1h0M275.8 886.5h0M195.9 820.8h0M266.2 856.6h0M265.6 862.3h0M226.5 858.4h0M343.5 906.7h0M291.5 857.3h0M268.8 873.5h0M259.6 866.4h0M196.2 802.6h0M224.4 857.4h0M257.4 822.3h0M264.6 834.7h0M223.0 831.7h0M336.4 898.3h0M267.0 829.9h0M268.1 875.5h0M279.7 891.3h0M226.7 853.5h0M347.2 905.3h0M193.2 804.5h0M272.5 876.3h0M238.2 855.9h0M263.4 874.4h0M251.9 817.4h0M293.1 1001.0h0M260.4 827.5h0M235.5 860.2h0M290.8 912.7h0M250.4 813.3h0M286.2 910.4h0M345.3 910.2h0M271.5 870.0h0M261.8 877.8h0M190.6 803.1h0M228.8 856.9h0M191.2 805.0h0M285.0 895.1h0M264.9 864.1h0M288.5 917.1h0M236.0 826.0h0M299.5 955.3h0M260.6 828.6h0M286.7 906.5h0" stroke="#E861A5"/>
<path d="M154.5 886.0h0M208.7 951.0h0M199.4 923.5h0M187.1 866.3h0M190.9 921.6h0M183.6 940.0h0M192.3 954.2h0M189.0 939.0h0M186.3 996.7h0M147.8 922.5h0M192.3 938.3h0M162.9 914.4h0M177.7 918.5h0M191.0 967.6h0M203.1 937.3h0M254.1 795.2h0M264.8 788.5h0M153.2 844.4h0M219.2 1023.6h0M182.0 926.1h0M155.9 872.8h0M171.1 943.3h0M167.0 931.5h0M254.1 952.4h0M187.5 932.6h0M190.1 938.6h0M202.8 929.3h0M177.9 930.9h0M147.6 909.4h0M204.0 932.2h0M204.8 944.7h0M153.4 935.0h0M204.2 943.9h0M136.1 878.3h0M160.8 949.5h0M228.0 1012.8h0M198.2 980.3h0M200.7 960.4h0M133.3 860.6h0M190.6 936.1h0M199.4 941.9h0M188.0 927.1h0M169.5 944.3h0M198.3 930.5h0M193.1 925.5h0M198.3 951.8h0M142.4 878.0h0M189.2 960.5h0M224.6 1030.6h0M219.4 855.3h0M167.9 873.7h0M190.5 948.5h0M216.2 986.1h0M136.6 923.6h0M192.2 920.1h0M195.5 941.5h0M193.6 946.7h0M179.0 930.7h0M191.9 951.3h0M175.6 943.0h0M168.9 852.7h0M159.2 865.2h0M205.8 1004.9h0M207.9 1011.3h0M160.7 937.6h0M310.9 984.7h0M176.8 957.6h0M153.2 890.9h0M163.2 881.9h0M142.1 869.6h0M145.1 898.5h0M192.6 943.1h0M149.1 911.5h0M210.8 783.5h0M144.1 864.5h0M134.1 867.5h0M214.9 924.6h0M202.7 935.8h0M192.5 949.1h0M167.5 956.3h0M213.7 1013.8h0M224.7 1008.1h0M234.0 1014.7h0M183.0 939.3h0M156.7 938.0h0M190.6 935.9h0M182.1 996.3h0M159.3 799.5h0M277.3 1029.4h0M238.9 982.2h0M157.5 885.3h0M197.0 966.4h0M132.7 881.7h0M274.6 879.7h0M190.2 925.0h0M243.0 815.3h0M189.6 930.5h0M159.1 861.8h0M187.8 962.3h0M132.8 1016.0h0M159.9 849.1h0M174.7 957.9h0M222.5 1011.7h0M215.5 789.5h0M190.5 955.1h0M153.6 923.1h0M182.2 996.0h0M230.6 1024.6h0M181.5 931.4h0M148.4 939.9h0M191.1 923.3h0M182.3 814.9h0M266.0 839.1h0M229.7 790.2h0M201.5 935.8h0M229.2 1012.4h0M181.6 957.5h0M334.6 926.4h0M151.3 900.0h0M218.6 1039.9h0M144.1 870.1h0M200.9 924.1h0M164.3 854.2h0M156.6 854.1h0M194.8 954.4h0M196.9 931.2h0M334.6 906.7h0M350.2 888.1h0M145.3 858.6h0M222.0 1025.6h0M158.9 856.0h0M145.8 896.6h0M153.6 896.1h0M146.8 871.5h0M162.4 872.2h0M232.0 1026.2h0M201.3 935.0h0M350.7 881.4h0M177.9 935.3h0M199.0 922.7h0M155.8 851.8h0M171.0 951.7h0M161.4 848.8h0M234.7 1021.6h0M209.2 949.9h0M165.0 943.4h0M169.5 947.2h0M208.3 950.2h0M140.8 876.0h0M199.6 926.1h0M208.5 1013.5h0M219.6 1023.2h0M134.4 862.1h0M213.4 1011.3h0M177.8 930.0h0M258.9 985.3h0M158.2 922.4h0M195.5 918.2h0M185.7 950.2h0M136.1 861.0h0M158.0 929.0h0M193.7 920.1h0M197.0 922.1h0M208.2 1010.0h0M190.5 948.0h0M158.4 863.3h0M193.5 946.6h0M218.6 756.1h0M179.4 922.0h0M200.2 942.1h0M159.4 944.8h0M158.3 852.2h0M144.5 843.7h0M145.9 856.1h0M173.6 996.7h0M141.5 855.2h0M194.6 935.4h0M151.2 917.3h0M155.7 869.0h0M176.6 928.1h0M158.7 859.9h0M200.5 936.7h0M241.5 1019.9h0M188.2 939.2h0M186.9 927.6h0M231.3 1022.7h0M165.5 869.5h0M190.5 932.7h0M219.8 1014.3h0M187.9 915.4h0M160.7 873.3h0M150.9 862.6h0M160.7 945.8h0M145.0 876.1h0M184.5 937.1h0M191.1 936.2h0M188.5 936.2h0M154.5 847.8h0M192.2 941.9h0M195.2 959.4h0M128.3 914.7h0M233.5 1024.2h0M191.4 962.4h0M345.9 893.3h0M192.1 958.6h0M241.6 1016.9h0M181.6 810.9h0M237.8 900.0h0M151.8 926.0h0M135.8 873.6h0M161.6 877.4h0M137.0 881.6h0M209.2 940.4h0M139.3 810.6h0M177.6 919.2h0M226.1 1027.4h0M196.2 779.9h0M132.6 864.8h0M185.4 945.6h0M196.2 924.3h0M191.8 941.2h0M201.9 918.1h0M182.3 965.3h0M186.5 794.9h0M181.4 961.5h0M162.2 860.5h0M167.1 875.3h0M183.5 1036.1h0M189.8 944.7h0M154.3 908.9h0M183.3 928.9h0M286.1 1058.9h0M185.6 763.0h0M144.1 894.5h0M168.3 925.8h0M157.6 860.9h0M165.1 861.7h0M189.9 932.0h0M147.4 914.1h0M152.5 854.6h0M242.5 1026.1h0" stroke="#A5A72A"/>
<path d="M153.5 862.6h0M322.7 946.2h0M325.1 875.9h0M302.6 938.8h0M318.0 947.8h0M305.6 934.0h0M174.0 860.5h0M320.4 942.4h0M125.5 814.9h0M215.9 975.4h0M328.7 956.0h0M312.4 936.6h0M326.8 905.7h0M232.5 936.1h0M307.7 941.8h0M262.5 795.6h0M306.1 940.9h0M182.8 921.2h0M257.8 981.7h0M224.0 947.4h0M258.5 865.1h0M242.7 1002.2h0M318.0 948.2h0M316.2 938.9h0M247.1 997.4h0M194.8 914.1h0M310.7 940.3h0M313.0 937.0h0M237.2 953.0h0M305.7 938.5h0M302.3 943.8h0M265.5 874.8h0M270.7 869.7h0M324.1 937.3h0M120.7 837.3h0M156.4 799.4h0M251.6 800.5h0M226.0 937.4h0M258.2 829.1h0M264.2 836.8h0M283.6 856.4h0M278.1 816.8h0M318.2 898.5h0M315.9 936.1h0M273.3 981.0h0M324.4 940.7h0M290.4 947.1h0M307.6 936.4h0M229.6 937.8h0M241.6 994.9h0M225.8 952.8h0M304.2 939.1h0M259.8 911.6h0M314.0 932.6h0M251.1 1014.5h0M175.6 913.4h0M306.0 942.3h0M270.1 857.1h0M247.4 996.9h0M100.2 919.5h0" stroke="#7DB61C"/>
<path d="M255.2 1007.3h0M216.7 866.1h0M201.4 864.5h0M155.3 811.1h0M308.8 987.5h0M197.2 869.2h0M220.3 825.5h0M208.0 889.6h0M216.2 857.8h0M155.5 903.7h0M128.1 902.9h0M148.6 845.0h0M212.1 893.8h0M212.7 851.3h0M112.9 826.0h0M212.9 899.8h0M203.0 865.5h0M308.3 960.6h0M174.5 830.7h0M219.0 875.2h0M289.2 926.5h0M114.8 854.0h0M203.6 864.1h0M302.3 942.5h0M189.0 1002.4h0M195.1 873.5h0M199.8 857.3h0M215.1 859.0h0M200.4 851.2h0M219.7 883.2h0M278.9 921.9h0M213.3 893.3h0M196.1 854.9h0M207.0 853.5h0M218.3 920.9h0M207.8 898.9h0M181.0 778.8h0" stroke="#5CB4E0"/>
<path d="M180.2 828.6h0M193.9 840.5h0M104.8 872.1h0M124.8 863.5h0M193.4 1014.7h0M201.9 777.4h0M203.8 875.9h0M105.0 886.5h0M101.8 902.1h0M132.0 785.8h0M112.3 888.5h0M288.0 904.7h0M155.6 873.3h0M170.7 844.8h0M128.6 794.4h0M228.8 908.5h0M189.3 826.7h0M285.7 1037.2h0M260.1 987.1h0M118.2 900.9h0M221.9 967.3h0M112.0 806.5h0M122.7 839.7h0M203.7 816.0h0M259.2 868.9h0M152.3 928.3h0M124.3 844.3h0M293.3 912.1h0M147.3 802.0h0M169.3 821.2h0M128.2 821.8h0M199.2 845.5h0M121.9 847.9h0M320.7 923.7h0M163.6 856.7h0M223.1 933.4h0M118.8 830.5h0M109.7 867.6h0M349.9 900.2h0M193.9 875.4h0M195.4 833.6h0M251.7 824.1h0M113.4 896.8h0M139.4 926.0h0M123.4 786.2h0M107.2 911.2h0M104.7 907.5h0M106.2 823.5h0M122.5 851.3h0M189.9 853.0h0M100.7 843.3h0M164.8 829.7h0M111.4 863.3h0M118.0 818.3h0M278.5 977.6h0M207.4 1041.8h0M329.8 971.1h0M145.3 794.2h0M118.5 873.8h0M205.7 1008.4h0M139.2 787.9h0M133.8 799.9h0M168.3 971.2h0M118.8 850.3h0M117.1 856.8h0M205.0 967.9h0M168.7 856.5h0M173.2 850.8h0M101.5 872.7h0M174.5 861.3h0M183.1 836.9h0M99.8 875.2h0M222.3 762.2h0M202.9 844.2h0M157.5 789.0h0M202.3 826.6h0M127.7 785.3h0M211.9 810.8h0M113.5 838.3h0M269.9 910.0h0M191.5 983.6h0M131.5 794.2h0M267.6 960.6h0M205.9 838.8h0M222.6 769.0h0M110.4 903.3h0M145.2 790.2h0M118.6 898.4h0M178.9 793.6h0M346.2 911.9h0M118.8 838.9h0M113.7 916.1h0M310.1 926.5h0M106.6 898.7h0M96.2 892.2h0M212.8 910.7h0M99.6 836.3h0M324.5 917.8h0M170.3 788.7h0M145.1 788.8h0M134.2 799.8h0M184.1 879.2h0M198.2 819.7h0M126.5 947.0h0M158.8 865.2h0M93.2 892.2h0M104.9 881.5h0M224.8 901.9h0M177.7 843.3h0M121.8 812.5h0M112.0 884.6h0M108.4 811.5h0M181.9 776.6h0M219.5 908.4h0M127.3 859.2h0M103.3 912.2h0M119.9 881.7h0M164.1 827.0h0M221.8 794.9h0M164.8 832.6h0M140.0 798.6h0M198.8 938.6h0M206.1 826.5h0M183.8 914.7h0M163.0 772.3h0M215.3 888.8h0M130.1 794.5h0M150.8 798.4h0M112.7 865.8h0M134.0 801.4h0M113.9 861.1h0M208.5 947.2h0M189.0 846.1h0M279.1 989.4h0M152.6 859.5h0M187.0 921.2h0M181.6 843.9h0M124.9 891.2h0M146.2 959.0h0M147.5 866.9h0M101.2 924.8h0M117.5 850.3h0M191.0 827.3h0M113.6 807.9h0M112.2 889.7h0M173.5 1010.9h0M124.2 808.9h0M123.3 871.8h0M187.0 829.3h0M113.4 892.9h0M112.4 823.2h0M125.9 831.0h0M104.1 862.1h0M113.7 917.4h0M148.5 788.4h0M102.6 820.8h0M149.2 788.1h0M126.1 808.2h0M119.9 876.2h0M230.3 941.7h0M201.0 834.9h0M108.5 810.0h0M92.7 876.2h0M112.3 812.5h0M325.4 884.5h0M117.0 852.9h0M175.3 806.8h0M142.7 789.6h0M215.5 926.6h0M182.4 994.1h0M108.3 910.0h0M130.8 839.1h0M206.5 793.6h0M178.5 984.3h0M201.8 971.3h0M135.6 792.0h0M184.5 973.0h0M191.0 778.3h0M244.4 898.5h0M107.7 880.5h0M307.1 912.4h0M210.0 809.0h0M129.6 784.8h0M102.3 831.9h0M106.6 832.9h0M146.1 802.0h0M201.2 791.4h0M110.8 867.4h0M217.6 913.6h0M127.9 799.0h0M255.3 1010.2h0M139.1 794.1h0M209.4 822.8h0M114.5 847.1h0M150.7 799.4h0M209.3 960.7h0M287.9 877.8h0M102.8 914.7h0M117.0 832.2h0M203.2 962.0h0M113.2 905.5h0M199.5 837.6h0M191.2 829.9h0M191.8 837.8h0M292.5 913.5h0M187.7 874.9h0M121.9 940.2h0M118.3 835.2h0M126.9 850.6h0M250.3 852.5h0M107.6 901.1h0M197.2 850.9h0M111.2 823.4h0M145.3 789.3h0M109.4 886.7h0M176.6 840.9h0M126.0 823.2h0M153.5 819.8h0M327.9 990.6h0M155.9 977.2h0M103.8 810.9h0M214.6 914.0h0M222.1 825.0h0M200.0 798.9h0M181.0 855.5h0M122.2 810.3h0M109.8 908.4h0M120.7 888.8h0M179.0 837.5h0M108.8 917.0h0M151.0 796.5h0M122.9 787.3h0M150.7 792.4h0M110.5 886.3h0M122.4 875.2h0M299.2 955.9h0M94.2 862.8h0M131.0 797.3h0M228.9 907.6h0M134.2 787.2h0M128.2 931.3h0M134.5 890.3h0M91.0 868.2h0M148.8 790.0h0M143.2 791.7h0M268.9 938.5h0M256.6 1020.6h0M189.9 839.5h0M133.7 788.4h0M184.0 886.7h0M150.3 795.3h0M179.7 831.4h0M324.1 936.5h0M202.9 801.2h0M115.4 819.5h0M186.8 1000.8h0M148.7 791.6h0M108.4 814.0h0M96.5 856.5h0M153.8 902.1h0M287.7 938.0h0M182.7 826.1h0M115.6 828.9h0M199.9 826.8h0M270.9 824.8h0M164.9 794.5h0M105.9 885.8h0M192.5 829.0h0M111.7 801.3h0M100.8 911.5h0M324.1 894.7h0M309.0 934.3h0M166.6 971.8h0M117.1 856.0h0M166.9 950.6h0M115.2 882.1h0M180.5 932.3h0M124.4 787.8h0M172.9 842.8h0M123.9 934.1h0M117.9 849.7h0M125.6 785.0h0M144.7 787.5h0M199.3 940.3h0M185.7 832.9h0M190.0 852.6h0M149.1 827.0h0M163.5 837.0h0M271.3 906.2h0M105.1 806.6h0M149.6 867.6h0M164.8 820.6h0M177.8 915.9h0M324.0 928.9h0M202.0 830.8h0M98.8 884.2h0M186.5 990.0h0M112.6 870.3h0M131.9 795.4h0M101.0 858.9h0M106.8 820.5h0M151.8 774.6h0M101.4 873.8h0M121.9 895.0h0M105.3 813.5h0M107.4 809.9h0M127.9 787.5h0M169.0 842.1h0M173.0 842.3h0M138.7 924.5h0M212.4 1041.9h0M111.6 865.2h0M187.0 814.1h0M101.2 899.4h0M224.3 775.0h0M210.2 780.5h0M167.1 798.5h0M127.8 790.7h0M226.8 810.3h0M169.9 768.8h0M220.4 956.9h0M179.8 937.6h0" stroke="#5BC5DC"/>
<path d="M303.8 808.0h0M119.9 970.6h0M118.5 993.0h0M304.0 811.3h0M110.6 980.4h0M162.1 997.6h0M122.9 1002.4h0M147.0 1016.5h0M383.8 864.2h0M108.9 871.0h0M128.3 982.4h0M389.6 866.2h0M326.3 817.1h0M138.9 993.6h0M331.4 840.0h0M151.9 996.2h0M134.5 966.7h0M132.7 1003.4h0M116.8 993.1h0M216.8 1014.9h0M318.4 810.5h0M330.7 836.1h0M319.2 812.1h0M328.4 820.8h0M318.5 809.4h0M141.7 879.7h0M148.6 1006.9h0M320.8 820.9h0M118.3 974.4h0M123.7 1004.3h0M127.4 997.3h0M129.4 979.0h0M380.3 860.2h0M319.4 818.8h0M227.4 785.8h0M139.3 981.5h0M269.3 1010.3h0M131.9 967.2h0M115.2 991.8h0M130.4 983.4h0M130.6 963.3h0M135.7 1001.6h0M119.0 962.1h0M137.2 975.7h0M379.3 857.5h0M111.8 970.3h0M134.8 1012.8h0M185.8 914.7h0M331.0 835.0h0M259.2 776.7h0M131.3 999.7h0M127.4 1002.4h0M144.9 985.4h0M149.8 995.7h0M152.2 995.1h0M327.1 819.6h0M172.3 975.9h0M329.7 819.7h0M140.2 990.2h0M152.4 988.2h0M148.0 995.5h0M243.8 888.9h0M112.1 960.4h0M239.5 857.9h0M382.0 864.5h0M118.5 975.7h0M126.1 983.2h0M124.6 971.6h0M310.7 807.7h0M385.2 862.7h0M118.4 981.3h0M150.6 997.0h0M309.7 813.3h0M137.6 973.0h0M126.6 980.0h0M124.7 999.0h0M119.0 890.4h0M325.7 838.4h0M231.9 942.8h0M136.2 979.3h0M266.6 893.5h0M118.9 976.3h0M120.9 1004.7h0M123.1 1000.7h0M340.4 880.1h0M121.1 989.8h0M139.9 1010.9h0M332.3 810.0h0M327.5 828.7h0M117.1 970.2h0M122.1 960.9h0M140.5 995.5h0M190.4 800.4h0M168.7 834.8h0M308.6 816.1h0M137.2 996.5h0M155.9 916.1h0M136.8 990.6h0M297.1 1032.6h0M153.8 977.0h0M320.0 819.3h0M314.5 814.0h0M319.6 815.7h0M141.5 990.4h0M317.2 813.0h0M123.1 978.1h0M115.8 976.9h0M262.9 807.5h0M268.0 1012.3h0M309.6 811.0h0M124.6 990.4h0M127.5 980.4h0M134.7 863.6h0M147.5 1011.1h0M257.4 858.0h0M331.2 908.0h0M114.7 974.7h0M309.7 928.0h0M146.7 1025.1h0M128.0 990.8h0M383.7 861.2h0M302.7 1019.7h0M383.1 873.0h0M126.1 1002.4h0M257.3 965.0h0M111.5 969.6h0M121.4 992.0h0M318.3 812.5h0M128.7 1010.5h0M320.2 817.1h0M292.4 910.2h0M135.6 978.6h0M321.2 826.0h0M276.3 977.5h0M151.5 987.3h0M144.8 991.1h0M321.8 974.3h0M333.6 834.4h0M127.4 995.2h0M122.7 1006.7h0M123.1 971.2h0M169.7 915.7h0M125.2 994.0h0M335.3 835.1h0M278.0 825.6h0M147.2 1017.6h0M382.0 864.0h0M136.9 991.5h0M143.7 1018.5h0M383.6 864.6h0M122.6 997.2h0M125.5 967.5h0M149.4 1014.0h0M130.0 999.8h0M148.7 992.1h0M149.9 993.1h0M315.3 812.5h0M139.4 987.5h0M138.4 1013.8h0M319.7 822.1h0M377.4 862.5h0M329.4 834.8h0M110.6 865.5h0M121.0 967.3h0M312.1 809.0h0M384.2 862.8h0M388.8 866.4h0M152.4 996.6h0M130.3 1004.4h0M250.9 835.3h0M326.6 837.0h0M138.4 999.8h0M327.6 840.3h0M136.9 982.3h0M309.1 820.4h0M308.9 814.4h0M124.4 972.4h0M246.4 832.9h0M240.7 1007.6h0" stroke="#5CCBA4"/>
<path d="M266.5 921.2h0M276.6 934.6h0M259.9 961.7h0M252.2 819.3h0M259.4 959.4h0M266.5 971.4h0M266.1 921.0h0M267.7 955.7h0M263.5 944.8h0M201.7 788.2h0M272.4 973.8h0M259.9 922.7h0M268.5 939.6h0M257.8 922.0h0M222.5 790.3h0M259.6 947.0h0M338.5 1041.4h0M263.3 945.7h0M276.3 937.3h0M264.9 948.2h0M261.9 950.1h0M190.6 1025.7h0M276.5 954.0h0M265.3 920.3h0M352.3 917.3h0M312.3 970.7h0M264.9 959.6h0M256.4 955.9h0M310.0 1033.1h0M258.6 927.3h0M281.3 956.1h0M277.0 933.6h0M272.0 931.2h0M259.6 965.9h0M229.2 980.9h0M273.0 963.2h0M264.1 956.7h0M272.9 933.2h0M252.5 949.5h0M273.6 960.6h0M265.3 946.0h0M269.6 1048.8h0M271.7 932.0h0M264.0 948.7h0M274.5 971.3h0M263.4 961.4h0M262.1 937.7h0M353.4 920.0h0M257.0 950.4h0M258.4 924.3h0M350.2 910.0h0M271.3 930.7h0M258.5 929.4h0M205.0 840.7h0M266.3 954.7h0M279.1 969.1h0M294.6 955.3h0M346.9 910.1h0M287.9 961.5h0M159.7 970.1h0M253.3 932.6h0M287.3 963.9h0M346.9 905.4h0M210.2 1041.7h0M241.8 914.9h0M264.6 919.8h0M268.2 955.3h0M265.7 960.2h0M229.6 859.2h0M221.0 793.3h0M265.4 945.3h0M280.5 966.9h0M255.4 933.2h0M184.0 932.2h0M268.1 959.0h0M267.1 938.3h0M280.4 948.1h0M167.6 797.2h0M284.7 964.6h0M249.7 944.3h0M258.8 992.6h0M278.7 935.9h0M266.0 951.2h0M274.9 957.8h0M258.2 948.8h0M266.6 968.1h0M253.2 1028.9h0M274.1 974.8h0M271.1 940.1h0M272.5 955.2h0M250.2 961.8h0M272.1 956.6h0M255.9 939.5h0M261.6 912.2h0M281.1 964.2h0M262.6 950.4h0M263.2 918.2h0M215.5 794.9h0M286.9 969.6h0M317.7 991.6h0M281.6 964.3h0M279.1 959.4h0M272.2 943.8h0M217.5 797.3h0M266.2 932.0h0M113.8 918.0h0M281.8 968.7h0M276.9 976.3h0M254.6 934.7h0M259.8 919.6h0M266.3 952.1h0M272.6 955.9h0M281.0 840.7h0M262.2 935.0h0M276.6 940.5h0M273.9 956.4h0M256.4 930.9h0M111.8 856.5h0M279.7 958.4h0M271.3 967.3h0M266.0 900.3h0M269.6 932.8h0M278.1 954.7h0M352.5 912.2h0M250.2 919.7h0M266.9 943.1h0M268.0 950.9h0M312.4 882.5h0M255.8 951.8h0M273.8 930.2h0M182.0 935.1h0M264.3 954.4h0M254.0 919.9h0M266.4 971.2h0M263.6 958.5h0M249.1 925.0h0M256.1 957.9h0M261.3 917.1h0M260.6 946.8h0M266.0 950.1h0M250.7 941.0h0" stroke="#22B02A"/>
<path d="M320.8 1019.8h0M244.0 844.8h0M233.9 872.0h0M231.6 885.5h0M280.8 958.1h0M230.1 905.1h0M246.2 851.2h0M230.9 868.4h0M246.7 910.8h0M277.9 1027.1h0M229.8 908.2h0M241.4 911.8h0M207.2 946.7h0M259.1 924.3h0M243.0 899.8h0M250.9 865.6h0M219.9 1027.3h0M171.3 835.1h0M278.9 868.8h0M291.8 893.0h0M226.8 904.0h0M296.7 1004.3h0M243.0 924.8h0M162.8 866.4h0M239.9 901.6h0M234.2 904.9h0M259.8 856.9h0M274.4 965.2h0M244.7 905.8h0M337.0 1004.0h0M332.0 926.8h0M234.4 906.7h0M287.2 948.8h0M289.7 930.4h0M232.8 974.6h0M207.9 1045.3h0M247.7 905.1h0M255.6 966.1h0M236.2 1005.1h0M146.8 793.2h0M236.3 904.1h0" stroke="#F96A9C"/>
<path d="M383.9 919.9h0M382.9 915.1h0M380.4 921.8h0M380.7 904.0h0M381.0 912.8h0M377.1 908.7h0M387.0 916.6h0M377.8 918.6h0M382.7 909.5h0M382.2 915.4h0M380.3 911.7h0M380.0 907.5h0M378.7 918.1h0M385.8 909.9h0M380.0 906.4h0M378.6 918.1h0M386.7 904.3h0" stroke="#F67F7A"/>
<path d="M274.4 944.9h0M325.0 928.8h0M268.2 993.1h0M234.4 825.7h0M276.1 855.9h0M273.7 835.4h0M285.7 942.4h0M238.8 796.3h0M180.5 991.1h0M265.8 848.5h0M228.8 919.6h0M275.9 881.2h0M323.7 980.5h0M172.7 775.7h0M324.7 1036.8h0M339.9 911.9h0M234.6 835.0h0M248.3 840.1h0M239.5 874.2h0" stroke="#DC68B7"/>
<path d="M199.6 1020.8h0M168.9 802.4h0M288.2 1011.7h0M112.9 861.4h0M208.8 761.6h0M220.5 904.4h0M114.1 845.3h0M203.1 786.8h0M127.4 805.6h0M166.7 799.4h0M191.6 1022.8h0M245.1 965.0h0M114.0 860.2h0M196.1 935.3h0M155.5 935.0h0M103.5 847.0h0M201.2 1033.5h0M294.3 926.0h0M111.7 877.9h0M257.5 908.3h0M215.3 1055.4h0M247.0 912.2h0M198.8 859.9h0M189.3 1022.5h0M130.2 875.6h0M206.7 899.0h0M140.7 835.4h0M289.9 1007.8h0M209.2 936.3h0M209.4 1021.2h0M190.7 1026.4h0M104.4 866.1h0M120.6 871.0h0M103.4 850.6h0M108.1 867.4h0M200.1 1035.1h0M114.8 908.2h0M166.8 772.0h0M175.5 773.2h0M105.3 842.7h0M133.7 860.4h0M114.4 900.5h0M114.1 795.2h0M285.9 861.5h0M174.8 783.8h0M339.5 925.3h0M201.7 820.9h0M174.5 786.0h0M325.5 950.0h0M121.5 870.5h0M272.3 952.4h0M121.3 930.5h0M187.1 1037.4h0M212.9 964.6h0M219.5 786.0h0M117.4 850.3h0M147.2 840.8h0M107.6 853.3h0M279.1 855.8h0M155.0 973.8h0M114.1 794.9h0" stroke="#3DBA5F"/>
<path d="M304.8 1044.9h0M292.7 1057.6h0M117.9 810.9h0M250.6 1045.8h0M317.0 1049.6h0M296.7 1040.4h0M299.1 1054.7h0M244.6 978.1h0M290.5 1033.9h0M246.4 1041.5h0M287.2 1041.6h0M308.7 1052.4h0M308.0 1059.5h0M169.5 1016.0h0M268.2 997.0h0M318.2 1051.1h0M235.1 1013.2h0M279.3 1048.2h0M254.4 1038.9h0M254.4 1042.7h0M292.3 1035.4h0M275.5 827.3h0M285.2 1054.4h0M260.5 1056.7h0M314.3 1044.5h0M242.1 1049.0h0M330.4 930.9h0M308.8 1057.3h0M279.8 1052.2h0M277.9 1048.8h0M292.9 1044.7h0M262.7 1054.2h0M307.7 1058.4h0M312.2 1040.4h0M300.4 1047.1h0M248.4 1062.0h0M304.8 1056.9h0M315.0 919.0h0M257.6 1049.7h0M281.5 1053.6h0M280.8 1044.8h0M317.3 1040.4h0M250.1 1048.6h0M306.2 1049.2h0M305.3 1052.9h0M230.9 797.7h0M277.9 1038.3h0M294.4 1036.2h0M256.9 830.0h0M283.6 1046.0h0M307.3 1053.0h0M307.4 1043.0h0M253.9 1047.7h0M297.7 1049.1h0M269.0 1024.7h0M283.0 1039.2h0M274.5 1040.0h0M301.3 1051.0h0M301.4 1038.8h0M318.9 1053.0h0M274.5 1049.4h0M283.6 946.9h0M290.7 1057.1h0M299.4 1042.6h0M310.3 1039.5h0M282.1 1052.2h0M294.4 1036.1h0M285.4 1036.5h0M262.0 894.8h0M298.5 1058.6h0M276.5 1047.8h0M250.8 1046.3h0M242.6 1052.9h0M299.6 1054.3h0M306.8 1057.9h0M274.5 1045.9h0M255.7 1047.4h0M294.6 1046.6h0M296.6 1034.3h0M328.9 917.0h0M253.2 1061.6h0M296.9 1036.9h0M299.0 1033.6h0M321.6 1044.2h0M280.9 1048.8h0M238.9 844.8h0M313.6 1042.8h0M312.8 1055.3h0M288.6 1034.1h0M299.6 1032.7h0M249.8 1046.1h0M311.4 1042.4h0M289.8 1053.3h0M296.2 1056.8h0M257.6 1038.8h0M280.0 1039.0h0M295.2 1048.9h0M256.4 1053.6h0M279.5 1045.4h0M97.9 888.7h0M291.7 1052.1h0M306.9 1045.2h0M304.2 1057.9h0M287.0 1046.6h0M282.0 859.9h0M297.2 1036.3h0M248.7 1048.8h0M250.5 1050.3h0M290.8 1038.7h0M184.2 796.7h0M293.0 1053.8h0M258.2 1043.1h0M276.2 1039.2h0M282.1 1054.8h0M241.3 1049.2h0M255.8 1050.3h0M255.8 1043.2h0M291.3 1058.2h0M307.0 1058.2h0M296.0 1035.3h0M295.6 1050.6h0M292.7 1046.1h0M168.3 1005.4h0M293.5 1037.3h0M186.2 1034.5h0M286.9 1034.5h0M308.7 1056.0h0" stroke="#4EC7C4"/>
<path d="M328.2 1036.9h0M331.2 1042.9h0M327.2 1034.1h0M326.7 1033.8h0M324.4 1020.8h0M332.3 1031.0h0M324.9 1032.2h0M329.7 1029.7h0M326.7 1042.1h0M332.8 1036.5h0M334.8 1044.0h0M324.4 1028.1h0M323.1 1028.3h0M332.3 1046.9h0M335.3 1039.0h0M328.8 1042.5h0M336.4 1040.3h0M329.2 1038.6h0M328.4 1027.6h0M329.6 1034.1h0M322.9 1027.9h0M327.1 1038.0h0M321.8 1025.5h0M328.3 1035.1h0M334.2 1044.6h0M333.9 1037.3h0" stroke="#DC9018"/>
<path d="M206.3 879.5h0M219.3 868.8h0M141.0 942.3h0M239.8 782.6h0M238.9 993.3h0M217.2 880.5h0M148.9 782.3h0M205.2 875.1h0M208.0 874.8h0M210.5 888.7h0M207.5 850.6h0M233.1 923.2h0M196.0 841.1h0M320.2 1028.7h0M183.7 837.1h0M205.3 784.8h0M184.7 840.6h0M201.6 1010.0h0M187.7 834.5h0M202.7 845.7h0M217.6 871.7h0M216.9 863.7h0M163.6 796.6h0M214.7 900.7h0M210.5 864.9h0M194.0 864.3h0M205.3 873.5h0M143.2 848.2h0M209.3 874.0h0M196.2 760.5h0M212.9 861.0h0M180.8 840.2h0M143.0 786.0h0M172.9 826.5h0M219.9 868.8h0M195.0 872.8h0M197.5 908.2h0M193.0 983.6h0M216.6 852.3h0M209.7 845.9h0M202.7 904.7h0M198.7 906.0h0M204.2 852.4h0M208.4 876.3h0M210.7 872.5h0M239.2 911.1h0M205.4 844.8h0M300.5 885.6h0M180.8 842.3h0M228.3 911.3h0M208.4 881.8h0M214.3 872.4h0M221.5 866.2h0M158.4 815.8h0M135.5 784.4h0M209.0 897.4h0M159.8 808.7h0M216.6 776.4h0M208.1 883.6h0M139.4 787.4h0M210.1 857.2h0M140.2 784.3h0M210.3 889.0h0M267.3 1024.9h0M276.1 885.0h0M198.0 874.8h0M138.6 911.0h0M162.2 913.5h0M241.3 794.7h0M199.5 853.3h0M278.1 838.9h0M143.6 782.9h0M215.2 875.2h0M328.1 916.7h0M189.6 1023.5h0M212.0 874.9h0M209.0 847.7h0M202.7 873.8h0M153.3 784.5h0M160.3 868.9h0M141.1 784.6h0M220.6 868.1h0M154.0 785.2h0" stroke="#5F9FD8"/>
<path d="M266.7 761.7h0M284.2 733.1h0M213.1 729.1h0M277.7 727.9h0M200.6 713.8h0M222.5 720.2h0M260.9 766.9h0M210.8 721.3h0M273.8 761.9h0M204.4 719.1h0M272.2 759.9h0M253.5 738.6h0M279.4 720.1h0M141.5 848.7h0M256.4 754.8h0M196.6 717.1h0M188.3 722.7h0M224.0 720.8h0M218.1 726.7h0M209.5 736.3h0M208.0 720.6h0M270.5 717.5h0M257.6 763.4h0M202.8 713.1h0M281.5 716.7h0M191.9 733.9h0M261.6 746.6h0M262.2 772.2h0M196.4 716.1h0M260.0 757.9h0M269.2 763.9h0M203.2 737.2h0M274.9 721.2h0M212.8 734.6h0M285.6 723.7h0M274.2 720.5h0M217.5 741.1h0M216.7 734.2h0M251.7 749.4h0M190.2 733.8h0M269.7 753.4h0M237.3 748.2h0M286.4 723.2h0M227.1 730.0h0M260.6 739.0h0M202.0 712.4h0M215.0 769.9h0M270.6 722.6h0M280.0 720.8h0M261.5 741.7h0M266.7 768.3h0M254.5 739.2h0M204.7 733.1h0M199.1 719.2h0M270.7 721.6h0M274.2 716.3h0M190.1 726.9h0M227.1 730.6h0M212.7 725.0h0M260.8 736.9h0M214.1 719.4h0M263.0 746.1h0M258.5 759.9h0M262.6 728.7h0M253.8 737.5h0M248.1 738.8h0M262.9 772.7h0M205.3 722.2h0M262.1 740.0h0M205.9 718.9h0M231.6 774.0h0M226.9 729.7h0M253.4 742.2h0M216.1 723.1h0M266.6 755.4h0M260.4 749.0h0M198.3 722.5h0M210.7 733.4h0M269.0 760.3h0M284.8 736.1h0M281.2 718.3h0M264.1 751.2h0M264.7 769.3h0M278.1 721.0h0M203.2 717.0h0M197.2 721.6h0M261.6 757.3h0M227.3 732.4h0M249.5 724.8h0M275.4 732.5h0M205.0 717.0h0M277.3 788.4h0M252.8 750.4h0M291.1 728.7h0M265.7 768.7h0M228.1 723.9h0M205.6 722.0h0M254.3 750.0h0M264.6 769.1h0M227.3 733.4h0M290.0 734.7h0M189.2 722.6h0M281.6 722.9h0M200.3 716.3h0M287.6 733.8h0M292.0 725.8h0M261.2 744.4h0M207.2 727.2h0M294.2 736.3h0M203.6 726.5h0M286.4 727.2h0M271.7 762.2h0M197.6 723.0h0M266.3 724.9h0M193.7 719.9h0M251.0 738.2h0M256.7 728.2h0M248.6 724.6h0M202.5 717.1h0M253.4 739.1h0M258.6 761.8h0M256.3 742.6h0M269.8 762.4h0M293.7 732.8h0M279.2 785.7h0M208.3 719.1h0M226.4 734.5h0M268.8 727.0h0M264.2 767.0h0M273.5 723.3h0M267.5 783.5h0M195.9 720.9h0M199.4 715.3h0M260.3 730.6h0M258.2 724.1h0M267.2 759.3h0M199.9 723.7h0M222.2 724.4h0M203.4 735.3h0M196.2 717.1h0M220.5 725.5h0M268.5 729.2h0M206.8 720.9h0M188.4 729.5h0M254.1 737.3h0M275.8 721.7h0M194.6 721.8h0M249.4 741.7h0M258.5 765.9h0M273.7 726.3h0M200.1 717.5h0M276.0 728.6h0M247.0 738.7h0M278.4 724.2h0M259.4 749.2h0M291.5 736.1h0M259.3 742.3h0M212.2 718.6h0M208.3 722.0h0M188.2 731.7h0M274.1 760.7h0M145.6 773.0h0M224.7 729.7h0M247.9 724.6h0M202.5 734.1h0M253.4 744.6h0M272.5 770.9h0M250.0 721.6h0M270.9 763.5h0M207.2 728.9h0M273.9 727.1h0M248.8 739.3h0M221.5 730.0h0M249.0 738.5h0M279.9 788.3h0M291.8 735.9h0M191.5 732.1h0M274.7 763.9h0" stroke="#BF9B20"/>
<path d="M277.9 1011.4h0M377.4 856.9h0M115.8 952.1h0M120.5 965.8h0M147.2 991.4h0M143.0 986.8h0M321.4 831.4h0M383.4 868.4h0M131.0 973.3h0M247.0 948.1h0M150.2 993.3h0M330.8 835.2h0M149.0 1014.4h0M148.2 992.9h0M119.4 998.1h0M273.4 1010.7h0M136.7 1009.4h0M148.9 1013.8h0M116.5 1001.1h0M136.3 858.4h0M320.4 830.8h0M187.8 904.9h0M119.5 985.4h0M388.5 868.2h0M321.2 818.3h0M122.8 994.4h0M387.0 858.1h0M150.2 993.5h0M376.8 858.6h0M283.8 1024.8h0M288.9 930.7h0M269.0 848.8h0M115.3 999.7h0M120.8 996.1h0M134.7 965.3h0M310.5 820.3h0M125.9 982.4h0M146.8 989.3h0M326.1 838.2h0M286.2 883.7h0M154.5 811.0h0M126.7 984.1h0M313.0 806.1h0M122.1 985.5h0M314.3 974.0h0M144.2 1015.8h0M306.5 806.7h0M229.5 723.7h0M114.9 996.3h0M115.3 964.7h0M140.3 1011.0h0M317.2 808.0h0M149.9 992.6h0M118.8 1001.8h0M380.6 858.5h0M151.4 995.2h0M264.2 826.3h0M383.4 872.7h0M318.3 819.9h0M107.4 969.3h0M130.4 959.5h0M109.4 979.1h0M117.7 988.5h0M243.2 1039.7h0M124.5 998.8h0M117.9 985.4h0M130.7 978.2h0M317.0 810.3h0M382.5 861.7h0M110.0 977.0h0M326.7 834.8h0M271.0 1010.8h0M124.1 1000.0h0M123.6 1004.8h0M304.6 840.7h0M257.5 946.7h0M118.7 963.9h0M384.1 867.9h0M124.1 977.7h0M282.5 934.9h0M317.5 809.9h0M321.6 819.2h0M171.1 993.4h0M115.0 960.4h0M108.8 964.7h0M132.6 962.8h0M125.9 997.0h0M122.8 999.5h0M307.4 805.5h0M147.2 996.6h0M127.6 963.4h0M311.8 811.9h0M131.4 965.3h0M135.3 1019.8h0M119.1 1002.1h0M384.9 861.7h0M158.7 819.7h0M225.1 804.2h0M140.7 979.6h0M141.1 991.9h0M136.3 1016.1h0M305.4 813.1h0M142.3 1010.0h0M122.4 1003.0h0M127.2 967.2h0M278.6 1026.1h0M132.6 962.5h0M299.2 916.6h0M158.6 990.0h0M121.4 995.4h0M145.5 995.2h0M116.4 967.7h0M280.5 858.0h0M128.0 972.8h0M278.1 1015.2h0M137.1 1015.5h0M272.9 854.2h0M119.4 976.2h0M317.2 821.1h0M317.6 823.9h0M123.3 964.4h0M124.1 998.0h0M112.4 968.8h0M112.6 972.2h0M126.1 981.7h0M147.4 1016.1h0M126.3 998.4h0M328.2 839.0h0M377.4 861.2h0M382.4 857.5h0M332.0 838.6h0M325.0 813.4h0M109.4 978.8h0M133.6 1012.6h0M122.8 987.6h0M124.3 987.2h0M115.5 975.6h0M325.8 836.7h0M133.1 985.6h0M116.2 995.4h0M322.7 827.0h0M328.0 820.1h0M327.1 831.4h0M108.4 962.8h0M215.4 976.9h0M330.5 818.9h0M112.0 978.8h0M322.2 824.8h0M376.5 855.3h0M106.5 962.9h0M133.7 1009.8h0M320.3 818.7h0M134.0 1015.3h0M130.2 989.2h0M133.9 994.5h0M136.6 1002.4h0M316.4 808.4h0M311.1 815.4h0M126.6 972.8h0M270.0 1009.5h0M115.8 968.2h0M130.9 998.4h0M128.0 977.5h0M125.8 988.8h0M139.6 1002.4h0M128.7 1001.2h0M159.1 988.4h0M279.6 805.7h0M325.0 828.0h0M108.2 963.0h0M126.3 1002.5h0M386.1 870.8h0M147.2 1014.5h0M152.5 999.8h0M243.1 989.0h0M132.1 982.0h0M136.5 1015.5h0M121.8 967.9h0M309.9 808.1h0M151.1 993.3h0" stroke="#5CCBA4"/>
<path d="M263.0 911.6h0M298.6 924.2h0M340.0 933.2h0M339.4 930.1h0M231.4 979.4h0M278.3 1013.4h0M335.3 926.0h0M284.2 860.4h0M275.4 852.7h0M277.6 840.7h0M336.4 933.9h0M294.5 916.5h0M259.2 904.9h0M227.4 849.6h0M243.5 1006.5h0M252.2 896.9h0M195.8 1008.2h0M282.3 898.4h0M335.7 939.3h0M205.1 981.7h0M285.6 902.1h0M336.4 946.7h0M331.9 936.1h0M337.9 926.2h0M228.9 930.1h0M295.9 904.5h0M308.6 877.2h0M292.5 1007.2h0M291.5 922.1h0M300.5 911.6h0M301.7 897.7h0M279.4 864.3h0M341.1 936.1h0M334.2 960.7h0M278.5 841.4h0M299.5 919.7h0M211.6 828.9h0M221.5 1045.9h0M230.7 863.9h0M326.7 909.8h0M255.0 854.4h0M333.4 929.4h0M336.6 945.3h0M311.5 1026.1h0M333.7 938.2h0M278.9 854.8h0M338.3 927.3h0M334.0 935.9h0M305.0 1004.7h0M265.1 911.2h0M198.5 927.6h0M267.2 901.8h0M277.1 873.0h0M329.4 924.9h0M303.9 948.2h0M279.6 850.0h0M295.5 1025.1h0M238.8 1056.5h0M302.8 927.4h0M263.9 911.6h0M231.6 988.9h0M244.1 874.3h0M284.1 860.2h0M313.6 974.5h0M275.7 854.0h0M302.8 926.6h0M302.4 915.9h0M335.1 925.2h0M310.3 925.6h0M289.5 1035.8h0M273.2 989.9h0M184.9 850.5h0M328.2 912.5h0M299.1 938.3h0M314.4 930.2h0M334.8 938.7h0M241.5 962.8h0M292.9 952.6h0" stroke="#E8832B"/>
<path d="M112.9 856.3h0M120.0 811.8h0M203.5 837.0h0M238.9 1011.3h0M187.3 1000.2h0M170.1 837.4h0M148.1 796.7h0M228.9 918.5h0M132.7 793.0h0M202.4 828.1h0M115.8 833.2h0M140.6 788.4h0M151.3 800.0h0M108.2 890.3h0M116.6 882.6h0M248.4 906.4h0M255.4 796.4h0M102.9 919.9h0M162.5 974.7h0M175.9 766.7h0M150.6 791.4h0M290.8 896.4h0M160.0 791.8h0M111.6 869.2h0M147.6 904.8h0M273.4 943.4h0M122.2 836.5h0M119.9 810.4h0M150.3 793.4h0M109.0 841.5h0M202.5 964.6h0M113.8 831.1h0M187.3 925.6h0M117.6 842.5h0M138.4 793.3h0M120.8 815.9h0M108.4 882.1h0M110.1 906.5h0M147.9 788.0h0M251.4 843.3h0M309.7 901.6h0M180.3 760.4h0M185.2 915.4h0M152.4 981.3h0M135.6 795.5h0M175.8 845.6h0M105.2 974.3h0M326.6 890.6h0M152.1 789.5h0M140.3 923.1h0M104.7 916.5h0M104.7 909.0h0M129.3 821.6h0M173.8 828.5h0M111.2 859.7h0M163.8 836.7h0M221.3 772.5h0M126.4 859.3h0M206.8 933.4h0M101.0 868.8h0M184.4 855.7h0M210.3 933.9h0M134.9 802.7h0M122.2 874.8h0M171.5 821.9h0M244.3 839.2h0M169.6 828.4h0M216.5 824.0h0M166.4 831.7h0M109.3 835.4h0M180.8 780.1h0M212.3 839.7h0M155.5 908.9h0M141.5 787.6h0M164.5 787.7h0M202.2 761.3h0M114.3 886.2h0M129.6 786.2h0M108.6 867.7h0M151.1 978.6h0M153.5 869.1h0M317.9 919.3h0M137.2 882.0h0M116.0 853.2h0M108.1 863.0h0M190.0 834.7h0M137.0 844.3h0M164.8 840.0h0M288.1 903.4h0M127.4 818.3h0M313.3 931.6h0M103.8 856.7h0M112.3 875.8h0M310.8 911.4h0M113.9 839.8h0M101.4 822.9h0M189.4 836.6h0M150.6 791.4h0M221.4 900.1h0M166.8 830.5h0M165.7 842.6h0M205.6 899.0h0M139.2 891.6h0M212.5 804.2h0M165.3 984.3h0M110.8 911.0h0M140.7 786.5h0M171.9 796.6h0M223.3 1002.1h0M106.1 807.3h0M115.0 820.7h0M115.5 843.0h0M96.6 841.3h0M98.7 894.2h0M193.6 828.0h0M257.7 979.9h0M321.8 937.0h0M121.8 845.9h0M175.0 831.5h0M98.2 893.8h0M223.0 915.4h0M212.6 763.0h0M163.5 879.6h0M157.8 831.4h0M118.3 916.4h0M123.4 796.1h0M318.0 937.4h0M149.2 965.0h0M104.5 820.9h0M167.5 1002.2h0M190.5 839.5h0M134.3 800.1h0M227.4 812.9h0M237.5 906.3h0M169.0 792.6h0M105.4 809.3h0M124.4 876.1h0M178.7 1032.9h0M110.1 912.6h0M145.8 799.4h0M194.7 1035.7h0M180.6 827.7h0M210.5 982.4h0M223.5 915.3h0M120.4 809.1h0M236.6 961.8h0M116.5 814.0h0M110.4 1002.5h0M97.5 875.7h0M191.1 908.3h0M172.0 826.1h0M100.2 853.2h0M125.5 854.3h0M103.5 817.6h0M157.2 818.6h0M192.1 840.2h0M221.1 950.6h0M219.1 767.0h0M120.2 880.6h0M103.5 878.9h0M100.5 885.6h0M152.2 798.4h0M115.1 857.5h0M122.1 879.5h0M123.6 934.7h0M208.5 835.8h0M147.5 800.8h0M154.8 882.1h0M312.2 939.2h0M112.6 885.2h0M205.9 1006.0h0M178.8 942.0h0M184.6 856.1h0M104.4 915.5h0M98.4 873.0h0M107.7 906.6h0M113.6 921.2h0M105.2 817.1h0M136.1 790.6h0M174.5 903.0h0M99.2 893.6h0M228.9 909.1h0M115.1 823.1h0M200.8 917.2h0M140.7 858.8h0M187.4 825.3h0M157.7 869.3h0M121.3 825.5h0M196.2 806.4h0M286.3 1023.6h0M94.4 894.9h0M290.7 894.3h0M128.6 794.3h0M120.0 864.2h0M112.0 859.0h0M151.5 788.7h0M320.5 887.8h0M130.4 943.5h0M114.8 819.2h0M97.3 872.6h0M108.2 820.8h0M167.8 942.8h0M175.3 878.7h0M114.6 822.6h0M142.2 791.8h0M222.8 1010.3h0M195.3 924.0h0M104.0 843.0h0M115.4 848.7h0M177.0 848.8h0M142.8 796.2h0M141.7 804.0h0M105.5 848.5h0M99.7 877.4h0M207.2 833.4h0M222.5 967.4h0M110.6 875.8h0M294.1 934.9h0M138.3 801.9h0M108.1 888.1h0M192.7 838.0h0M155.4 963.8h0M142.6 794.8h0M209.5 914.9h0M106.9 818.8h0M117.5 838.5h0M116.0 834.7h0M122.6 881.1h0M143.3 790.3h0M117.3 850.1h0M134.6 794.7h0M222.2 786.5h0M315.5 876.3h0M118.5 809.9h0M186.6 831.8h0M326.5 930.2h0M115.9 869.6h0M132.1 791.8h0M108.2 843.7h0M102.4 841.5h0M119.8 890.8h0M123.0 841.9h0M217.3 970.3h0M252.3 780.4h0M131.2 847.1h0M102.7 831.3h0M214.5 846.0h0M109.2 883.6h0M127.2 907.7h0M213.8 915.1h0M202.7 1027.5h0M112.4 847.9h0M142.9 794.5h0M163.9 904.9h0M111.7 887.0h0M122.1 890.3h0M188.4 841.0h0M176.1 825.8h0M183.7 1010.9h0M117.4 888.9h0M123.0 846.4h0M118.9 808.0h0M324.4 934.1h0M123.4 923.2h0M107.1 902.3h0M337.1 967.6h0M118.8 882.4h0M138.3 802.9h0M293.9 920.6h0M146.6 934.0h0M95.5 870.7h0M152.5 958.3h0M213.4 909.4h0M183.0 847.6h0M281.3 797.6h0M120.7 810.7h0M227.2 913.2h0M121.8 882.2h0M174.6 979.8h0M144.2 790.7h0M126.7 861.7h0M114.4 883.2h0M175.5 825.9h0M307.1 913.9h0M227.3 907.8h0M102.0 908.1h0M225.5 942.5h0M126.3 810.4h0M98.4 839.9h0M231.9 891.1h0M204.7 840.4h0M126.1 863.5h0M118.2 911.5h0M112.7 865.8h0M149.7 802.4h0M174.3 829.9h0M281.3 985.0h0M214.8 911.4h0M214.2 857.9h0M147.6 964.3h0M143.5 792.8h0M178.3 1007.3h0M258.1 816.6h0M110.0 915.5h0M290.2 1025.1h0M153.3 930.0h0M169.7 902.5h0M120.9 808.3h0M133.1 877.2h0M111.8 863.1h0M105.0 874.2h0M179.6 826.3h0M102.4 900.8h0M117.2 836.9h0M96.1 888.1h0M147.2 874.6h0M110.3 841.6h0M211.1 1047.3h0M131.8 793.1h0M136.8 780.5h0M145.2 789.5h0M296.1 977.4h0" stroke="#5BC5DC"/>
<path d="M193.1 826.7h0M195.0 814.8h0M234.7 853.3h0M100.7 905.9h0M191.5 815.5h0M299.0 960.9h0M232.2 862.8h0M123.5 815.6h0M195.8 808.8h0M136.1 844.5h0M256.1 837.6h0M235.9 858.1h0M250.6 824.7h0M336.3 892.0h0M286.0 887.8h0M257.9 864.0h0M255.9 855.5h0M226.7 862.2h0M269.3 865.7h0M234.5 840.6h0M224.0 831.4h0M342.4 904.3h0M180.8 892.0h0M261.4 847.8h0M231.2 831.5h0M265.9 863.4h0M259.6 878.5h0M256.7 868.6h0M237.2 850.4h0M266.6 882.1h0M279.3 894.0h0M330.4 900.1h0M348.2 905.2h0M323.9 887.8h0M267.4 860.9h0M265.0 862.5h0M290.2 911.3h0M244.5 835.3h0M264.6 847.2h0M276.6 902.9h0M239.2 863.4h0M325.4 892.2h0M290.3 895.0h0M193.2 809.7h0M256.4 872.2h0M334.8 894.0h0M332.9 893.1h0M263.2 874.8h0M212.9 954.0h0M303.2 848.2h0M265.6 862.9h0M251.7 839.5h0M114.4 866.5h0M337.7 902.3h0M231.9 848.9h0M294.6 957.5h0M292.6 956.7h0M266.3 830.0h0M269.3 865.6h0M271.9 895.2h0M335.2 907.6h0M223.0 857.7h0M338.1 890.9h0M339.9 903.0h0M267.9 881.2h0M287.0 903.8h0M277.1 873.1h0M307.3 990.1h0M233.1 870.4h0M142.5 884.3h0M347.2 907.5h0M265.0 855.9h0M278.8 910.8h0M240.7 947.7h0M253.6 869.9h0M202.8 899.9h0M285.3 892.6h0M186.5 839.3h0M256.0 819.5h0M245.3 827.8h0M260.7 964.3h0M260.5 826.8h0M192.7 805.3h0M255.2 876.3h0M271.6 872.1h0M313.0 988.4h0M329.3 896.7h0M192.9 802.1h0M258.3 845.2h0M254.0 868.5h0M264.8 833.8h0M267.8 855.8h0M242.9 830.0h0M328.5 895.6h0M346.9 908.3h0M287.2 918.8h0M252.5 837.3h0M251.1 834.6h0M313.2 981.6h0M262.1 891.3h0M191.2 802.7h0M259.2 882.4h0M292.2 888.4h0M258.6 826.2h0M339.4 897.1h0M339.8 911.3h0M262.8 847.2h0M281.1 893.9h0M305.0 913.2h0M234.3 861.6h0M335.7 897.4h0M352.8 926.0h0M229.5 832.8h0M273.1 875.3h0M328.2 886.1h0M198.8 810.0h0M326.8 896.3h0M322.5 883.2h0M179.7 856.0h0M307.8 908.5h0M258.7 820.6h0M264.0 880.9h0M228.0 857.8h0M309.2 885.4h0M312.7 991.1h0M245.2 835.5h0M225.9 853.0h0M261.3 864.3h0M258.6 832.5h0M262.1 858.1h0M224.0 860.0h0M257.9 822.8h0M256.9 857.1h0M281.0 980.1h0M341.3 908.1h0M193.5 806.4h0M332.6 984.3h0M256.7 865.5h0M288.1 918.1h0M265.1 856.4h0M256.9 846.3h0M341.4 894.4h0M236.1 862.6h0M247.7 1004.5h0M233.5 829.3h0M326.6 898.4h0M265.4 884.6h0M266.3 864.4h0M196.6 818.5h0M266.4 877.1h0M273.7 882.2h0M232.4 855.0h0M193.2 804.0h0M223.8 858.9h0M270.8 955.2h0M346.3 899.2h0M339.7 901.7h0M288.9 917.4h0M260.8 825.6h0M255.5 848.1h0M346.3 904.0h0M287.0 903.1h0M189.6 805.8h0M344.9 904.8h0M238.7 870.7h0M285.8 889.0h0M258.9 838.4h0M203.0 760.3h0M306.9 864.0h0M358.3 914.4h0M259.1 857.9h0M251.7 817.7h0M241.2 861.3h0M244.0 873.2h0M345.5 903.3h0M263.5 862.6h0M337.5 901.1h0M269.8 1022.4h0M190.0 805.3h0M260.0 858.3h0M345.5 900.2h0M260.1 829.9h0M257.3 863.6h0M243.4 839.8h0M336.7 902.3h0M277.8 904.8h0M260.8 865.1h0M237.9 838.3h0M259.2 842.3h0M346.3 908.0h0M194.0 805.5h0M237.2 858.9h0M346.3 903.9h0M321.9 889.3h0M286.8 902.1h0M346.2 910.8h0M265.9 858.1h0M252.9 858.9h0M244.7 900.5h0M333.7 903.2h0M117.7 833.7h0M191.8 803.2h0M268.7 965.9h0M262.2 834.0h0M293.3 955.4h0M332.2 894.7h0M258.6 829.7h0M231.3 854.9h0M269.7 881.0h0M317.9 878.7h0M238.7 839.6h0M182.5 851.4h0M228.5 1023.5h0M260.0 1036.7h0M323.9 934.7h0M312.9 986.0h0M270.4 839.7h0M343.5 898.3h0M272.9 901.4h0M268.4 835.3h0M280.6 909.2h0M222.0 829.1h0M333.1 894.1h0M219.8 952.9h0M234.6 858.3h0" stroke="#E861A5"/>
<path d="M287.6 988.5h0M163.2 826.0h0M113.1 902.4h0M306.1 1048.7h0M141.3 835.3h0M120.8 855.0h0M194.5 892.8h0M112.9 849.6h0M235.4 805.0h0M296.7 1033.5h0M115.8 799.4h0M231.2 810.1h0M229.6 836.5h0M219.3 1015.1h0M172.8 818.2h0M219.2 819.5h0M169.4 854.4h0M275.7 993.6h0M109.1 890.1h0M207.5 876.4h0M301.3 928.7h0M109.4 884.9h0M119.0 903.5h0M198.4 986.4h0M194.2 1024.1h0M107.1 913.1h0M167.2 981.2h0M278.8 936.3h0M120.5 880.0h0M148.8 794.6h0M173.8 837.7h0M165.4 796.3h0M232.2 897.6h0M280.3 994.2h0M147.7 871.9h0M212.2 1001.0h0M178.5 883.9h0M153.3 861.5h0M268.8 946.3h0M211.5 870.6h0M168.0 943.9h0M273.6 943.8h0M239.6 914.5h0M191.0 879.8h0M122.7 861.5h0M114.8 903.7h0M176.6 836.8h0M125.5 794.1h0M199.1 1024.5h0M193.1 1036.0h0M298.7 827.9h0M104.4 849.9h0M115.8 845.4h0M167.7 924.9h0M322.6 927.4h0M325.4 1011.5h0M333.3 961.1h0M224.7 936.2h0M209.6 990.7h0M192.3 843.6h0M136.1 873.0h0" stroke="#3DBA5F"/>
<path d="M193.7 957.2h0M353.2 904.9h0M159.8 946.0h0M197.3 927.1h0M244.8 775.7h0M349.7 892.6h0M152.0 891.1h0M198.4 962.0h0M158.7 857.0h0M207.8 932.1h0M228.3 826.5h0M188.9 962.8h0M129.6 868.8h0M157.4 857.0h0M251.1 1035.7h0M144.5 862.5h0M193.3 930.1h0M168.0 914.2h0M152.3 850.3h0M158.3 906.9h0M144.8 821.0h0M190.0 954.6h0M191.0 953.9h0M351.4 881.6h0M139.9 886.9h0M244.5 1019.8h0M140.5 894.5h0M235.2 1019.5h0M198.2 997.2h0M189.9 945.6h0M167.0 981.2h0M178.9 924.4h0M190.8 944.3h0M194.2 957.7h0M170.1 929.8h0M152.1 868.2h0M146.4 927.9h0M138.6 898.4h0M221.7 1010.5h0M196.9 962.7h0M163.4 869.9h0M225.0 1021.0h0M124.0 837.3h0M207.8 919.6h0M157.3 855.6h0M197.9 952.0h0M201.7 955.7h0M189.3 918.1h0M180.6 957.3h0M147.9 880.1h0M226.4 1015.0h0M170.7 861.2h0M136.3 851.3h0M147.7 849.4h0M347.7 886.5h0M243.2 1025.0h0M142.2 917.6h0M160.8 860.3h0M201.3 1018.8h0M230.6 1021.2h0M187.3 937.4h0M197.5 940.4h0M143.9 921.3h0M233.5 758.9h0M225.8 1013.0h0M144.2 955.6h0M193.3 1000.8h0M256.5 989.3h0M200.0 925.7h0M152.0 874.0h0M193.7 957.3h0M207.7 947.3h0M292.1 998.0h0M235.7 1014.4h0M138.9 885.6h0M323.5 1038.4h0M187.0 1006.4h0M162.9 864.3h0M292.8 874.6h0M170.1 861.3h0M228.3 1026.8h0M179.2 923.9h0M204.2 961.3h0M207.9 946.7h0M210.8 949.9h0M147.3 920.2h0M195.9 928.9h0M187.4 952.8h0M191.8 940.4h0M348.5 888.4h0M204.8 946.5h0M195.4 922.3h0M282.8 1059.6h0M196.2 943.3h0M177.3 865.2h0M136.5 844.4h0M345.9 884.8h0M162.6 869.9h0M190.0 942.6h0M261.5 844.8h0M140.7 827.4h0M221.0 1003.6h0M163.8 862.6h0M217.2 1005.6h0M115.4 844.3h0M173.7 930.1h0M226.2 1019.6h0M251.9 792.5h0M210.1 1011.8h0M193.6 933.2h0M183.6 930.5h0M115.6 822.1h0M124.2 808.7h0M237.7 1006.9h0M206.6 1007.7h0M186.9 1000.8h0M183.4 940.2h0M157.7 880.6h0M186.8 920.5h0M149.5 867.5h0M177.3 928.9h0M203.3 945.3h0M151.1 853.4h0M193.8 943.7h0M212.7 922.6h0M196.0 950.1h0M142.0 923.0h0M194.6 929.0h0M170.3 915.8h0M349.2 886.3h0M230.1 853.6h0M160.1 938.2h0M220.2 1028.2h0M207.8 928.6h0M194.6 958.2h0M150.0 914.4h0M262.5 1043.1h0M201.5 963.4h0M158.2 882.4h0M163.3 861.7h0M174.7 957.8h0M340.7 894.0h0M204.7 949.4h0M177.7 957.4h0M203.9 947.0h0M173.4 956.8h0M186.7 929.5h0M182.0 995.8h0M137.3 873.3h0M196.5 933.2h0M160.8 922.2h0M167.5 849.4h0M356.9 922.3h0M181.6 941.8h0M154.7 845.6h0M163.7 947.0h0M222.6 1016.9h0M214.9 1014.4h0M263.6 962.9h0M232.4 1026.7h0M162.7 865.4h0M195.2 927.3h0M155.4 860.0h0M164.0 916.4h0M349.3 892.7h0M181.1 929.4h0M167.9 852.7h0M175.9 955.5h0M154.5 939.1h0M167.0 926.8h0M199.9 928.6h0M203.6 957.0h0M187.7 961.0h0M172.1 962.3h0M280.4 971.4h0M150.2 860.6h0M220.2 1028.4h0M292.1 918.7h0M117.4 807.4h0M162.1 875.9h0M118.5 868.2h0M172.1 924.0h0M223.3 1020.6h0M165.3 934.7h0M201.2 957.2h0M191.1 942.9h0M350.3 890.2h0M219.9 1012.8h0M204.2 942.6h0M194.3 925.9h0M196.3 918.5h0M173.4 963.1h0M134.9 914.8h0M169.3 861.8h0M190.5 956.9h0M177.9 952.1h0M228.6 1004.0h0M168.8 952.7h0M136.5 871.0h0M200.7 999.1h0M198.6 927.2h0M116.9 1006.7h0M155.5 877.7h0M238.7 956.2h0M259.4 994.4h0M175.3 960.0h0M242.9 1022.7h0M340.5 904.1h0M144.6 898.1h0M153.4 904.5h0M156.1 882.1h0M130.1 866.0h0M211.4 1005.3h0M160.0 852.4h0M289.0 1016.3h0M329.7 907.1h0M163.8 853.8h0M162.5 856.6h0M195.6 925.3h0M199.9 941.5h0M172.0 962.1h0M198.7 925.7h0M165.0 874.7h0M165.4 926.8h0M153.6 909.0h0M150.5 904.3h0M142.3 874.7h0M242.7 1026.4h0M219.6 1013.7h0M156.6 783.6h0M160.4 863.8h0M185.9 1002.8h0M163.3 936.9h0M194.2 1007.0h0M198.6 943.1h0M156.0 917.7h0M201.9 944.6h0M154.6 852.4h0M125.1 870.4h0M179.0 890.8h0M185.7 947.9h0" stroke="#A5A72A"/>
<path d="M377.1 925.4h0M377.8 918.3h0M385.8 913.0h0M381.5 913.6h0M379.2 914.9h0M384.8 914.0h0M388.9 912.3h0M377.0 917.6h0M378.2 907.1h0M385.4 913.1h0M378.8 911.2h0M378.5 907.6h0M379.7 917.0h0M383.4 918.9h0M384.7 908.3h0M379.6 903.8h0M385.3 910.9h0" stroke="#F67F7A"/>
<path d="M230.9 835.5h0M257.2 879.8h0M240.3 859.9h0M274.3 1025.3h0M265.6 931.7h0M229.6 828.6h0M239.5 1014.9h0M260.7 928.9h0M240.6 807.3h0M236.1 861.1h0M251.2 982.7h0M303.7 938.1h0M278.2 1011.3h0M259.0 969.0h0M273.2 1036.8h0M230.0 920.8h0M250.1 975.0h0M297.0 978.7h0M96.0 844.2h0" stroke="#DC68B7"/>
<path d="M167.4 815.8h0M193.0 882.2h0M204.6 990.1h0M189.7 903.1h0M188.7 884.4h0M241.0 925.8h0M167.6 870.6h0M143.8 807.9h0M179.3 874.5h0M192.3 976.2h0M190.5 876.0h0M175.5 866.6h0M209.3 966.8h0M186.8 885.3h0M213.1 983.8h0M304.8 1009.1h0M166.9 821.1h0M201.9 966.9h0M201.1 967.7h0M197.6 877.2h0M165.8 816.5h0M221.7 990.3h0M191.5 887.2h0M197.2 985.9h0M188.1 968.9h0M179.7 862.6h0M232.1 877.5h0M193.4 884.1h0M191.4 805.0h0M179.5 894.7h0M186.8 863.5h0M184.5 887.2h0M202.4 977.7h0M212.3 991.1h0M168.0 881.8h0M173.3 893.0h0M194.5 898.9h0M210.4 967.5h0M206.7 950.5h0M167.3 879.1h0M195.6 885.0h0M122.3 791.6h0M207.0 863.9h0M199.7 976.4h0M190.6 883.3h0M175.1 866.3h0M199.5 984.2h0M197.3 876.0h0M198.9 968.0h0M210.8 992.8h0M215.6 992.0h0M199.0 984.6h0M180.5 883.1h0M198.0 977.8h0M168.3 870.3h0M184.3 901.1h0M208.8 979.3h0M214.4 978.8h0M193.2 886.6h0M206.5 980.2h0M204.3 970.7h0M182.9 899.2h0M200.1 966.6h0M147.6 907.9h0M221.2 991.5h0M214.7 973.5h0M182.9 880.2h0M209.6 988.4h0M186.1 896.9h0M273.2 841.2h0M208.5 978.3h0M214.8 984.2h0M187.2 897.8h0M187.9 893.0h0M213.5 988.3h0M207.7 990.1h0M241.4 916.1h0M207.2 974.8h0M295.9 997.8h0M191.5 817.0h0M180.5 877.6h0M215.5 974.3h0M172.1 886.4h0M171.1 879.9h0M186.5 886.4h0M204.1 978.1h0M193.9 977.0h0M171.2 893.8h0M206.3 989.4h0M210.0 967.3h0M159.4 880.4h0M195.0 980.3h0M199.0 981.9h0M203.2 968.7h0M207.0 978.1h0M178.6 890.0h0M194.9 974.6h0M177.9 901.7h0M195.9 888.4h0M205.4 980.1h0M167.5 884.5h0M219.0 995.9h0M194.9 890.0h0M192.6 898.5h0M196.3 842.7h0M327.6 868.5h0M162.8 822.0h0M206.7 812.0h0M171.5 865.8h0M216.5 984.0h0M184.6 891.6h0M93.3 876.2h0M193.2 892.3h0M169.7 897.3h0M166.2 821.0h0M179.8 894.8h0M216.6 974.9h0M186.0 889.2h0M184.7 899.2h0M192.3 887.1h0" stroke="#8F97DB"/>
<path d="M118.9 827.0h0M314.9 964.9h0M305.4 852.5h0M255.4 972.5h0M236.3 840.5h0M319.3 964.9h0M255.5 957.5h0M257.6 982.8h0M313.9 999.6h0M328.3 980.4h0M245.8 920.9h0M283.2 976.6h0M249.6 972.3h0M311.0 984.3h0M240.3 983.1h0M245.4 971.8h0M279.8 792.5h0M320.8 962.6h0M317.4 994.7h0M261.1 975.9h0M261.5 835.5h0M328.9 978.6h0M240.5 878.2h0M300.3 890.1h0M266.4 869.1h0M263.8 1061.2h0M156.6 844.9h0M304.8 901.2h0M203.8 793.8h0M155.4 792.2h0M204.9 797.8h0M320.4 986.1h0M320.1 993.0h0M314.2 969.8h0M243.8 973.9h0M327.6 985.7h0M237.6 918.9h0M351.0 938.7h0M148.9 895.6h0M324.4 980.9h0M232.1 1035.6h0M309.9 844.1h0M244.1 984.0h0M331.4 1007.5h0M325.4 964.8h0M301.6 909.5h0M322.6 966.6h0M270.4 792.9h0M194.5 794.8h0M357.8 935.7h0M296.8 900.8h0M322.3 1000.4h0M115.8 791.4h0M251.9 973.2h0M296.7 890.0h0M106.0 821.6h0M319.3 995.8h0M331.2 1011.8h0M318.8 994.5h0M315.1 973.7h0M262.9 899.5h0M285.2 958.3h0M205.8 796.4h0M251.5 946.4h0M247.1 972.9h0M300.1 902.2h0M335.7 895.1h0M235.4 920.3h0M262.2 980.0h0M326.6 966.2h0M325.3 999.5h0M223.7 950.3h0M353.5 938.7h0M243.8 982.4h0M353.3 936.9h0M294.4 870.0h0M317.1 975.6h0M280.6 945.1h0M255.4 919.8h0M321.2 1010.6h0M246.1 916.4h0M202.7 795.9h0M159.6 905.0h0M313.7 996.1h0M231.9 897.9h0M119.0 796.3h0M321.4 1006.0h0M237.6 908.5h0M299.4 907.2h0M304.6 867.1h0M319.8 892.4h0M330.5 1010.4h0M196.7 796.2h0M251.3 976.2h0M208.0 736.0h0M302.0 869.0h0M309.9 978.7h0M298.4 900.7h0M286.5 996.3h0M321.0 978.5h0M255.5 822.7h0M270.5 986.0h0M313.9 972.4h0M299.5 870.8h0M248.0 967.4h0M302.4 876.4h0M332.6 973.6h0M293.2 883.6h0M242.8 814.6h0M275.0 802.6h0M328.0 1006.3h0M290.3 1026.4h0M359.7 942.0h0M247.1 914.5h0M236.8 822.7h0M316.3 965.4h0M302.5 971.4h0M242.8 1004.3h0M323.7 1003.8h0M242.4 919.0h0M292.6 778.7h0M331.3 976.1h0M232.5 914.2h0M189.6 793.6h0M306.7 898.7h0M227.7 879.6h0M274.8 852.2h0M210.5 1015.6h0M244.9 983.4h0M235.9 915.7h0M296.3 896.9h0M247.7 907.0h0M267.9 989.6h0M243.2 884.3h0M248.5 995.4h0M324.3 965.1h0M197.3 788.6h0M242.2 818.9h0M327.1 975.3h0M235.7 975.7h0M318.4 983.9h0M292.7 852.1h0M196.2 793.0h0M256.8 979.3h0M256.9 978.9h0M283.8 916.0h0M320.9 979.8h0M328.5 1013.1h0M252.1 903.3h0M301.9 897.9h0M266.2 878.0h0M300.6 880.7h0M325.1 1006.0h0M238.3 973.8h0M123.0 888.5h0M231.6 1020.6h0" stroke="#B887DE"/>
<path d="M170.3 786.4h0M160.4 931.9h0M232.3 893.0h0M133.0 779.1h0M157.3 774.5h0M263.4 954.7h0M291.5 993.4h0M131.9 722.9h0M221.5 793.9h0M235.4 834.1h0M162.9 780.9h0M170.2 774.1h0M125.1 735.9h0M122.3 756.3h0M127.8 730.9h0M236.1 847.7h0M256.9 825.2h0M287.9 981.8h0M183.7 783.5h0M124.0 756.5h0M277.7 1000.7h0M277.9 880.8h0M139.7 729.8h0M163.9 914.5h0M131.1 782.1h0M270.5 871.9h0M167.8 794.9h0M241.0 883.2h0M167.8 780.9h0M127.9 777.0h0M241.0 973.5h0M123.7 761.1h0M266.0 910.0h0M241.9 940.9h0M123.8 740.4h0M217.5 792.9h0M124.0 733.9h0M314.2 919.6h0M254.2 982.3h0M137.1 727.0h0M122.5 767.8h0M257.3 968.6h0M293.8 986.5h0M302.1 978.0h0M265.4 991.7h0M201.8 1022.9h0M126.1 731.6h0M143.8 724.8h0M137.5 727.7h0M284.8 842.8h0M111.8 854.7h0M225.6 802.6h0M130.8 723.4h0M166.6 774.6h0M124.4 743.9h0M293.7 979.9h0M264.9 1014.0h0M122.6 766.6h0M176.9 781.7h0M224.1 991.2h0M170.6 778.2h0M298.1 976.7h0M321.4 1012.3h0M317.4 1039.4h0M293.0 875.7h0M273.0 992.4h0M165.3 783.2h0M264.6 986.6h0M301.5 860.5h0M127.5 778.8h0M260.5 983.5h0M240.1 975.4h0M243.8 973.1h0M122.8 768.9h0M122.3 750.2h0M289.3 878.7h0M255.7 981.3h0M129.6 859.9h0M297.3 987.7h0M251.2 973.9h0M215.5 797.6h0M240.5 881.0h0M166.4 773.3h0M166.2 777.9h0M240.7 970.6h0M295.8 989.8h0M157.4 780.3h0M112.2 903.6h0M125.3 776.7h0M293.7 984.3h0M248.6 902.4h0M175.8 795.7h0M241.9 880.5h0M166.9 783.1h0M132.1 736.3h0M266.0 947.1h0M260.3 1012.2h0M159.6 779.3h0M133.7 723.8h0M122.4 746.1h0M330.7 959.9h0M138.7 729.1h0M126.6 736.4h0M167.7 772.7h0M134.8 724.8h0M167.7 783.2h0M123.8 757.0h0M170.1 798.4h0M171.5 780.5h0M247.5 973.7h0M257.0 973.9h0M313.0 946.8h0M253.0 994.7h0M240.7 973.5h0M265.9 982.3h0M177.9 779.9h0M135.6 728.1h0M133.6 731.3h0M297.7 989.1h0M294.7 992.4h0M169.7 773.3h0M203.6 785.6h0M296.8 977.3h0M123.1 750.0h0M285.6 982.6h0M222.6 798.8h0M300.1 983.8h0M269.0 1006.8h0M298.0 817.5h0M234.1 938.8h0M281.3 868.9h0M256.0 971.1h0M249.7 897.6h0M205.3 777.3h0M255.3 893.6h0M266.0 981.0h0M254.8 980.7h0M233.3 807.1h0M177.1 780.3h0M323.2 1001.4h0M220.7 806.5h0M294.8 985.3h0M236.4 898.7h0M125.3 741.3h0M246.9 896.5h0M324.6 893.6h0M289.5 984.8h0M211.3 785.3h0M138.0 731.6h0M246.9 878.0h0M128.6 916.2h0M136.6 736.2h0M163.6 772.3h0M322.1 947.4h0M166.3 790.6h0M168.2 778.6h0M136.5 726.6h0M177.2 776.4h0M139.1 727.2h0M333.1 892.8h0M165.6 789.9h0M127.2 732.4h0M149.1 882.1h0M176.6 780.2h0" stroke="#D073D3"/>
<path d="M285.2 914.4h0M266.2 951.9h0M269.5 966.7h0M258.8 948.0h0M234.5 846.9h0M350.6 910.1h0M258.0 925.1h0M282.2 961.0h0M255.9 929.1h0M260.5 948.5h0M190.1 992.7h0M333.3 911.9h0M265.3 931.3h0M264.9 955.9h0M258.6 949.9h0M262.4 920.4h0M261.6 958.7h0M256.4 938.6h0M271.5 973.8h0M273.8 964.4h0M269.3 963.0h0M267.6 964.9h0M155.0 804.2h0M274.4 968.4h0M274.5 972.5h0M254.1 920.5h0M252.7 946.3h0M253.6 943.0h0M220.6 790.4h0M253.2 889.5h0M259.9 948.0h0M272.8 937.6h0M223.0 790.4h0M257.5 947.9h0M250.3 923.1h0M230.8 891.7h0M265.5 962.3h0M330.3 998.2h0M255.7 928.1h0M299.4 890.3h0M265.4 969.1h0M264.1 928.5h0M273.7 972.6h0M263.3 932.7h0M275.6 935.4h0M216.1 793.4h0M278.9 956.4h0M270.1 931.8h0M267.6 965.6h0M259.1 936.6h0M141.2 946.6h0M251.7 926.7h0M261.8 953.1h0M249.9 930.1h0M261.4 926.6h0M275.8 964.7h0M264.2 942.5h0M260.0 955.5h0M315.5 1030.6h0M269.2 936.6h0M273.8 926.9h0M268.6 920.3h0M142.0 873.1h0M264.9 924.2h0M255.5 954.8h0M274.1 959.9h0M223.6 785.0h0M354.2 923.5h0M278.7 936.7h0M215.3 767.1h0M113.9 901.5h0M262.9 966.1h0M278.6 966.9h0M285.7 963.1h0M183.3 762.7h0M221.8 795.1h0M265.9 924.8h0M221.8 790.0h0M222.0 793.0h0M268.9 971.5h0M274.5 941.9h0M266.3 954.4h0M274.2 945.3h0M220.7 790.5h0M266.1 955.6h0M346.3 906.1h0M274.5 970.7h0M279.6 950.2h0M280.8 956.8h0M255.6 929.1h0M217.7 914.7h0M256.8 938.3h0M285.0 957.4h0M255.2 937.3h0M261.6 953.0h0M281.5 956.3h0M275.5 932.0h0M252.7 927.7h0M357.0 920.0h0M270.9 926.4h0M105.5 848.7h0M261.9 922.4h0M270.0 945.0h0M278.5 968.0h0M275.9 970.6h0M270.4 958.8h0M266.7 960.4h0M341.4 942.6h0M255.5 945.3h0M274.0 929.4h0M216.5 796.6h0M176.5 985.6h0M116.6 970.1h0M266.3 959.1h0M248.1 927.1h0M205.0 778.0h0M355.0 917.1h0M252.0 947.3h0M258.5 945.5h0M265.9 938.7h0M348.0 906.1h0M267.6 923.9h0M262.4 950.2h0M209.5 889.6h0M264.9 960.2h0M193.1 1030.0h0M255.0 931.6h0M273.9 973.6h0M251.8 881.6h0M259.1 952.2h0M278.4 938.3h0M276.7 967.0h0M278.1 961.7h0M270.3 930.5h0M264.5 970.1h0M259.6 918.8h0M270.2 956.4h0M274.7 956.1h0M350.6 909.7h0M274.2 1059.4h0M285.3 955.8h0M253.5 940.8h0" stroke="#22B02A"/>
<path d="M206.4 906.0h0M209.6 930.8h0M184.2 818.8h0M212.6 872.8h0M239.4 966.7h0M328.3 938.9h0M187.9 908.0h0M126.8 783.1h0M227.7 797.5h0M198.3 887.8h0M215.5 853.4h0M211.0 856.1h0M167.3 930.2h0M207.2 862.8h0M230.1 981.5h0M202.6 903.6h0M214.2 860.9h0M203.0 863.6h0M318.3 992.1h0M197.3 867.6h0M181.4 766.7h0M195.6 860.7h0M97.5 914.3h0M201.1 883.1h0M227.8 946.1h0M92.6 894.3h0M221.4 881.7h0M201.7 899.3h0M215.0 872.6h0M208.4 889.9h0M290.9 879.2h0M277.9 855.1h0M215.9 859.6h0M197.1 850.8h0M135.4 896.8h0M195.8 883.4h0M263.5 1032.8h0M204.6 848.4h0" stroke="#5CB4E0"/>
<path d="M333.9 1037.8h0M322.1 1023.5h0M335.3 1045.6h0M325.0 1039.7h0M318.7 1019.8h0M329.3 1037.5h0M329.3 1041.2h0M328.6 1044.1h0M323.8 1027.4h0M333.4 1037.5h0M334.4 1039.0h0M334.6 1044.1h0M334.1 1034.7h0M328.9 1035.2h0M318.7 1024.3h0M330.9 1040.2h0M332.8 1038.1h0M327.9 1044.2h0M331.2 1028.7h0M327.8 1037.3h0M321.7 1026.7h0M323.2 1023.9h0M333.1 1044.8h0M322.3 1030.1h0M335.0 1039.2h0M325.9 1045.8h0" stroke="#DC9018"/>
<path d="M283.0 1039.8h0M307.2 1051.1h0M321.8 1046.3h0M241.6 906.0h0M280.8 1042.4h0M319.7 1047.0h0M192.4 845.5h0M295.9 1031.2h0M337.0 987.9h0M246.1 1045.0h0M281.7 1047.8h0M313.6 1052.1h0M297.2 1057.9h0M310.8 1039.6h0M290.6 1044.8h0M284.9 1053.4h0M314.0 1021.3h0M290.0 884.2h0M305.8 1050.5h0M307.3 1057.2h0M256.1 901.4h0M275.2 1049.4h0M277.0 1038.2h0M313.6 1055.9h0M246.4 1055.3h0M277.9 1035.6h0M257.7 1060.9h0M254.6 1052.0h0M185.1 950.0h0M308.6 1054.9h0M297.2 1055.9h0M247.1 1049.2h0M305.1 1042.2h0M232.2 919.7h0M282.6 1013.1h0M280.3 1044.6h0M242.0 1043.8h0M285.9 1053.7h0M246.2 1050.9h0M291.6 1049.6h0M255.1 1051.4h0M282.7 1050.7h0M288.2 1051.4h0M298.4 1037.1h0M276.0 1037.4h0M273.9 1038.3h0M295.9 1058.4h0M256.7 1051.4h0M294.2 1052.9h0M249.6 1046.4h0M298.5 1054.3h0M299.0 1053.1h0M274.1 1051.1h0M255.3 1039.5h0M303.7 1047.2h0M270.0 1042.3h0M224.4 782.3h0M282.3 1050.0h0M295.5 1046.7h0M305.2 1049.7h0M318.5 1048.2h0M278.3 1040.6h0M291.8 1034.2h0M280.2 1051.5h0M279.2 1049.8h0M288.0 1034.6h0M257.9 1054.1h0M316.0 1046.9h0M306.4 1057.0h0M313.0 1009.9h0M310.3 1055.0h0M301.2 1038.4h0M251.2 1061.8h0M280.2 1046.9h0M255.6 1052.7h0M319.4 1041.4h0M184.2 1033.4h0M316.9 1048.1h0M254.5 1052.6h0M250.6 978.9h0M246.5 1052.0h0M286.6 948.8h0M257.0 1059.8h0M296.6 1047.6h0M322.3 1046.8h0M280.8 1052.0h0M249.4 1059.0h0M295.3 1034.3h0M297.7 1034.2h0M279.4 1048.0h0M257.3 1058.5h0M251.0 1056.6h0M281.5 1053.1h0M310.6 1044.7h0M249.8 1046.7h0M301.6 1038.2h0M254.2 1052.2h0M176.8 988.5h0M245.7 1054.9h0M257.2 1058.7h0M293.3 1051.8h0M243.3 1041.7h0M302.2 1044.1h0M171.9 777.8h0M322.0 1044.3h0M258.6 1040.0h0M299.4 1044.5h0M285.6 1052.2h0M256.1 1056.6h0M259.2 1051.1h0M284.6 1039.7h0M255.8 1039.9h0M295.9 1039.3h0M246.9 1058.1h0M256.7 1060.1h0M297.5 900.8h0M313.2 1049.1h0M253.5 1044.5h0M254.5 1051.0h0M247.5 1056.3h0M261.8 1041.8h0M273.6 1045.6h0M309.1 1037.7h0M277.4 1051.1h0M247.8 1052.0h0M313.1 1047.8h0M283.5 1037.2h0" stroke="#4EC7C4"/>
<path d="M248.7 996.9h0M250.1 997.0h0M313.9 935.6h0M235.3 749.1h0M324.6 935.2h0M255.8 1000.8h0M228.4 936.6h0M225.4 953.6h0M315.0 935.4h0M247.6 996.5h0M313.3 943.6h0M243.4 999.1h0M310.4 937.1h0M244.0 999.9h0M178.9 763.5h0M260.5 772.0h0M249.8 998.0h0M314.8 933.5h0M318.3 916.6h0M247.7 814.7h0M308.8 1053.5h0M309.3 943.2h0M225.5 934.9h0M308.5 950.7h0M340.3 914.9h0M260.2 815.8h0M230.3 800.0h0M181.4 960.9h0M311.5 951.3h0M234.3 943.4h0M294.8 1012.1h0M281.3 829.9h0M343.8 934.9h0M247.8 995.5h0M234.8 890.4h0M190.9 959.2h0M174.3 937.8h0M229.4 937.3h0M302.2 944.4h0M249.2 998.6h0M245.8 989.9h0M306.0 935.3h0M251.2 824.5h0M244.5 760.3h0M275.6 950.8h0M233.9 950.7h0M247.2 965.2h0M226.3 938.6h0M325.7 919.9h0M306.5 944.7h0M226.6 940.8h0M298.3 967.0h0M308.3 939.4h0M235.2 953.5h0M175.8 761.0h0M229.0 936.5h0M179.4 919.5h0M295.5 964.9h0M288.3 845.3h0M338.6 879.3h0M268.6 1034.8h0" stroke="#7DB61C"/>
<path d="M249.0 905.5h0M291.1 950.5h0M158.5 927.5h0M301.7 1011.0h0M207.2 957.1h0M243.3 903.9h0M265.8 828.0h0M268.8 1034.3h0M190.8 830.2h0M304.9 878.3h0M189.5 802.7h0M352.7 913.1h0M278.8 833.5h0M250.4 975.0h0M183.2 887.2h0M246.4 911.1h0M246.4 908.0h0M186.5 1007.5h0M261.0 852.1h0M230.7 906.8h0M297.1 876.0h0M286.1 891.4h0M232.5 836.3h0M149.5 903.6h0M244.3 912.1h0M331.8 894.7h0M277.7 1012.6h0M193.2 934.5h0M339.3 969.0h0M262.3 900.9h0M296.3 1035.0h0M322.7 892.1h0M249.7 908.7h0M303.8 1023.7h0M249.1 1043.4h0M287.8 1033.9h0M245.1 934.6h0M241.8 861.4h0M245.8 915.5h0M227.0 821.5h0M261.0 935.5h0" stroke="#F96A9C"/></g></g>
<path d="M47.5 28.2V187.3H698" fill="none" stroke="#5e5e5e" stroke-width="1"/>
<g font-size="4.6" fill="#111" stroke="#111" stroke-width="0.12" text-anchor="end">
<text x="40.5" y="189.0">0</text>
<text x="40.5" y="173.1">0.1</text>
<text x="40.5" y="157.3">0.2</text>
<text x="40.5" y="141.4">0.3</text>
<text x="40.5" y="125.6">0.4</text>
<text x="40.5" y="109.7">0.5</text>
<text x="40.5" y="93.8">0.6</text>
<text x="40.5" y="78.0">0.7</text>
<text x="40.5" y="62.1">0.8</text>
<text x="40.5" y="46.3">0.9</text>
<text x="40.5" y="30.4">1</text>
</g>
<text transform="translate(25.5,103.7) rotate(-90) scale(1.16,1)" text-anchor="middle" font-size="6.8" fill="#222">KNN Accuracy (LOOCV)</text>
<g stroke="#262626" stroke-width="0.8"><rect x="55.3" y="70.7" width="8.2" height="116.6" fill="#2f78c0"/><rect x="65.1" y="31.9" width="8.2" height="155.4" fill="#e5500f"/><rect x="89.5" y="92.1" width="8.2" height="95.2" fill="#2f78c0"/><rect x="99.3" y="173.0" width="8.2" height="14.3" fill="#e5500f"/><rect x="123.8" y="30.3" width="8.2" height="157.0" fill="#2f78c0"/><rect x="133.6" y="30.3" width="8.2" height="157.0" fill="#e5500f"/><rect x="158.0" y="33.5" width="8.2" height="153.8" fill="#2f78c0"/><rect x="167.8" y="28.7" width="8.2" height="158.6" fill="#e5500f"/><rect x="192.2" y="54.2" width="8.2" height="133.1" fill="#2f78c0"/><rect x="202.0" y="29.2" width="8.2" height="158.1" fill="#e5500f"/><rect x="226.4" y="101.0" width="8.2" height="86.3" fill="#2f78c0"/><rect x="236.2" y="173.0" width="8.2" height="14.3" fill="#e5500f"/><rect x="260.7" y="48.2" width="8.2" height="139.1" fill="#2f78c0"/><rect x="270.5" y="41.4" width="8.2" height="145.9" fill="#e5500f"/><rect x="294.9" y="173.0" width="8.2" height="14.3" fill="#2f78c0"/><rect x="304.7" y="35.5" width="8.2" height="151.8" fill="#e5500f"/><rect x="329.1" y="41.4" width="8.2" height="145.9" fill="#2f78c0"/><rect x="338.9" y="78.3" width="8.2" height="109.0" fill="#e5500f"/><rect x="363.4" y="65.3" width="8.2" height="122.0" fill="#2f78c0"/><rect x="373.2" y="29.5" width="8.2" height="157.8" fill="#e5500f"/><rect x="397.6" y="83.1" width="8.2" height="104.2" fill="#2f78c0"/><rect x="407.4" y="30.0" width="8.2" height="157.3" fill="#e5500f"/><rect x="431.8" y="107.4" width="8.2" height="79.9" fill="#2f78c0"/><rect x="441.6" y="30.0" width="8.2" height="157.3" fill="#e5500f"/><rect x="466.1" y="82.1" width="8.2" height="105.2" fill="#2f78c0"/><rect x="475.9" y="28.7" width="8.2" height="158.6" fill="#e5500f"/><rect x="500.3" y="32.5" width="8.2" height="154.8" fill="#2f78c0"/><rect x="510.1" y="62.5" width="8.2" height="124.8" fill="#e5500f"/><rect x="534.5" y="81.4" width="8.2" height="105.9" fill="#2f78c0"/><rect x="544.3" y="28.7" width="8.2" height="158.6" fill="#e5500f"/><rect x="568.7" y="113.6" width="8.2" height="73.7" fill="#2f78c0"/><rect x="578.5" y="71.4" width="8.2" height="115.9" fill="#e5500f"/><rect x="603.0" y="35.5" width="8.2" height="151.8" fill="#2f78c0"/><rect x="612.8" y="28.7" width="8.2" height="158.6" fill="#e5500f"/><rect x="637.2" y="30.4" width="8.2" height="156.9" fill="#2f78c0"/><rect x="647.0" y="32.2" width="8.2" height="155.1" fill="#e5500f"/><rect x="671.4" y="95.3" width="8.2" height="92.0" fill="#2f78c0"/><rect x="681.2" y="33.8" width="8.2" height="153.5" fill="#e5500f"/></g>
<g font-size="6.4" font-weight="bold" fill="#111"><text transform="translate(61.6,67.4) rotate(-90)">N = 76</text><text transform="translate(71.4,28.6) rotate(-90)">N = 145</text><text transform="translate(95.8,88.8) rotate(-90)">N = 397</text><text transform="translate(105.6,169.7) rotate(-90)">N = 11</text><text transform="translate(130.1,27.0) rotate(-90)">N = 109</text><text transform="translate(139.9,27.0) rotate(-90)">N = 511</text><text transform="translate(164.3,30.2) rotate(-90)">N = 672</text><text transform="translate(174.1,25.4) rotate(-90)">N = 1259</text><text transform="translate(198.5,50.9) rotate(-90)">N= 1046</text><text transform="translate(208.3,25.9) rotate(-90)">N = 214</text><text transform="translate(232.7,97.7) rotate(-90)">N = 293</text><text transform="translate(242.5,169.7) rotate(-90)">N = 11</text><text transform="translate(267.0,44.9) rotate(-90)">N = 586</text><text transform="translate(276.8,38.1) rotate(-90)">N = 345</text><text transform="translate(301.2,169.7) rotate(-90)">N = 162</text><text transform="translate(311.0,32.2) rotate(-90)">N = 686</text><text transform="translate(335.4,38.1) rotate(-90)">N = 826</text><text transform="translate(345.2,75.0) rotate(-90)">N = 32</text><text transform="translate(369.7,62.0) rotate(-90)">N = 356</text><text transform="translate(379.5,26.2) rotate(-90)">N = 119</text><text transform="translate(403.9,79.8) rotate(-90)">N = 978</text><text transform="translate(413.7,26.7) rotate(-90)">N = 320</text><text transform="translate(438.1,104.1) rotate(-90)">N = 282</text><text transform="translate(447.9,26.7) rotate(-90)">N = 97</text><text transform="translate(472.4,78.8) rotate(-90)">N = 159</text><text transform="translate(482.2,25.4) rotate(-90)">N = 171</text><text transform="translate(506.6,29.2) rotate(-90)">N = 472</text><text transform="translate(516.4,59.2) rotate(-90)">N = 106</text><text transform="translate(540.8,78.1) rotate(-90)">N = 480</text><text transform="translate(550.6,25.4) rotate(-90)">N = 890</text><text transform="translate(575.0,110.3) rotate(-90)">N = 401</text><text transform="translate(584.8,68.1) rotate(-90)">N = 192</text><text transform="translate(609.3,32.2) rotate(-90)">N = 155</text><text transform="translate(619.1,25.4) rotate(-90)">N = 172</text><text transform="translate(643.5,27.1) rotate(-90)">N = 469</text><text transform="translate(653.3,28.9) rotate(-90)">N = 323</text><text transform="translate(677.7,92.0) rotate(-90)">N = 571</text><text transform="translate(687.5,30.5) rotate(-90)">N = 83</text></g>
<g font-size="6.2" fill="#000" stroke="#000" stroke-width="0.2" text-anchor="end"><text transform="translate(60.9,195.0) rotate(-30)">ACC</text><text transform="translate(73.2,195.3) rotate(-30)">Adrenal Gland</text><text transform="translate(95.1,195.0) rotate(-30)">BLCA</text><text transform="translate(107.4,195.3) rotate(-30)">Bladder</text><text transform="translate(129.4,195.0) rotate(-30)">LAML</text><text transform="translate(141.7,195.3) rotate(-30)">Blood</text><text transform="translate(163.6,195.0) rotate(-30)">LGG/GBM</text><text transform="translate(175.9,195.3) rotate(-30)">Brain</text><text transform="translate(197.8,195.0) rotate(-30)">BRCA</text><text transform="translate(210.1,195.3) rotate(-30)">Breast</text><text transform="translate(232.0,195.0) rotate(-30)">CESC</text><text transform="translate(244.3,195.3) rotate(-30)">Cervix Uteri</text><text transform="translate(266.3,195.0) rotate(-30)">COAD/READ</text><text transform="translate(278.6,195.3) rotate(-30)">Colon</text><text transform="translate(300.5,195.0) rotate(-30)">ESCA</text><text transform="translate(312.8,195.3) rotate(-30)">Esophagus</text><text transform="translate(334.7,195.0) rotate(-30)">KIRP/KIRC/KICH</text><text transform="translate(347.0,195.3) rotate(-30)">Kidney</text><text transform="translate(369.0,195.0) rotate(-30)">LIHC</text><text transform="translate(381.3,195.3) rotate(-30)">Liver</text><text transform="translate(403.2,195.0) rotate(-30)">LUSC/LUAD</text><text transform="translate(415.5,195.3) rotate(-30)">Lung</text><text transform="translate(437.4,195.0) rotate(-30)">OV</text><text transform="translate(449.7,195.3) rotate(-30)">Ovary</text><text transform="translate(471.7,195.0) rotate(-30)">PAAD</text><text transform="translate(484.0,195.3) rotate(-30)">Pancreas</text><text transform="translate(505.9,195.0) rotate(-30)">PRAD</text><text transform="translate(518.2,195.3) rotate(-30)">Prostate</text><text transform="translate(540.1,195.0) rotate(-30)">SKCM</text><text transform="translate(552.4,195.3) rotate(-30)">Skin</text><text transform="translate(574.3,195.0) rotate(-30)">STAD</text><text transform="translate(586.6,195.3) rotate(-30)">Stomach</text><text transform="translate(608.6,195.0) rotate(-30)">TGCT</text><text transform="translate(620.9,195.3) rotate(-30)">Testis</text><text transform="translate(642.8,195.0) rotate(-30)">THCA</text><text transform="translate(655.1,195.3) rotate(-30)">Thyroid</text><text transform="translate(677.0,195.0) rotate(-30)">UCEC/UCS</text><text transform="translate(689.3,195.3) rotate(-30)">Uterus</text></g>
</svg>
</body></html>
